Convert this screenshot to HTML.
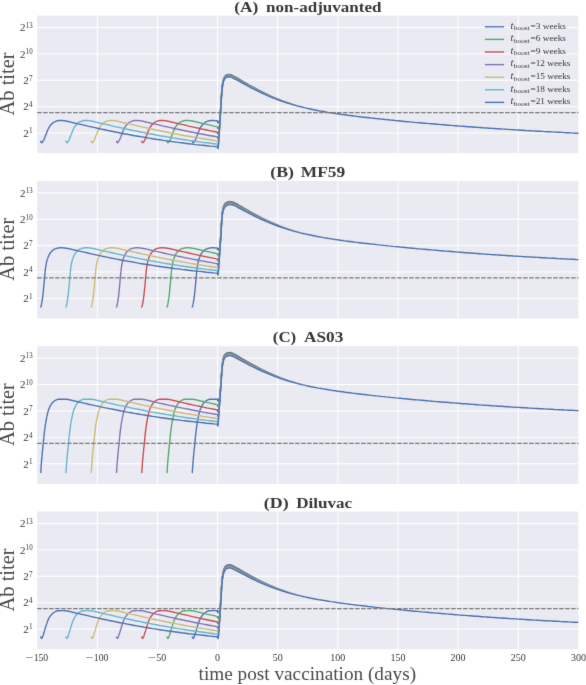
<!DOCTYPE html><html><head><meta charset="utf-8"><style>html,body{margin:0;padding:0;background:#fff;overflow:hidden}svg{display:block}text{font-family:"Liberation Serif",serif;fill:#383838}.lab{fill:#4a4a4a}</style></head><body>
<svg width="586" height="685" viewBox="0 0 586 685">
<defs><filter id="bl" filterUnits="userSpaceOnUse" x="0" y="0" width="586" height="685" color-interpolation-filters="sRGB"><feConvolveMatrix order="3" kernelMatrix="0.0064 0.0672 0.0064 0.0672 0.7056 0.0672 0.0064 0.0672 0.0064" divisor="1" edgeMode="duplicate"/></filter><linearGradient id="fg0" gradientUnits="userSpaceOnUse" x1="253.65" y1="0" x2="301.76" y2="0"><stop offset="0" stop-color="#4C72B0"/><stop offset="1" stop-color="#4C72B0" stop-opacity="0"/></linearGradient><linearGradient id="fg1" gradientUnits="userSpaceOnUse" x1="253.65" y1="0" x2="301.76" y2="0"><stop offset="0" stop-color="#55A868"/><stop offset="1" stop-color="#55A868" stop-opacity="0"/></linearGradient><linearGradient id="fg2" gradientUnits="userSpaceOnUse" x1="253.65" y1="0" x2="301.76" y2="0"><stop offset="0" stop-color="#C44E52"/><stop offset="1" stop-color="#C44E52" stop-opacity="0"/></linearGradient><linearGradient id="fg3" gradientUnits="userSpaceOnUse" x1="253.65" y1="0" x2="301.76" y2="0"><stop offset="0" stop-color="#8172B2"/><stop offset="1" stop-color="#8172B2" stop-opacity="0"/></linearGradient><linearGradient id="fg4" gradientUnits="userSpaceOnUse" x1="253.65" y1="0" x2="301.76" y2="0"><stop offset="0" stop-color="#CCB974"/><stop offset="1" stop-color="#CCB974" stop-opacity="0"/></linearGradient><linearGradient id="fg5" gradientUnits="userSpaceOnUse" x1="253.65" y1="0" x2="301.76" y2="0"><stop offset="0" stop-color="#64B5CD"/><stop offset="1" stop-color="#64B5CD" stop-opacity="0"/></linearGradient></defs><g filter="url(#bl)">
<rect width="586" height="685" fill="#fff"/>
<rect x="37.15" y="15.60" width="541.25" height="137.60" fill="#EAEAF2"/>
<path d="M97.29 15.60V153.20M157.43 15.60V153.20M217.57 15.60V153.20M277.71 15.60V153.20M337.84 15.60V153.20M397.98 15.60V153.20M458.12 15.60V153.20M518.26 15.60V153.20M37.15 133.08H578.40M37.15 106.68H578.40M37.15 80.28H578.40M37.15 53.88H578.40M37.15 27.48H578.40" stroke="#fff" stroke-width="1.0" fill="none"/>
<clipPath id="c0"><rect x="37.15" y="15.60" width="541.25" height="137.60"/></clipPath>
<g clip-path="url(#c0)"><path d="M192.3 141.2 192.4 141.5 192.5 141.8 192.7 142.1 192.8 142.4 192.9 142.6 193.0 142.7 193.2 142.7 193.3 142.6 193.4 142.6 193.5 142.5 193.6 142.4 193.8 142.3 193.9 142.2 194.0 142.0 194.1 141.9 194.2 141.7 194.4 141.5 194.5 141.4 194.6 141.2 194.7 141.0 194.8 140.8 195.0 140.6 195.1 140.4 195.2 140.2 195.3 140.0 195.4 139.7 195.6 139.5 195.7 139.2 195.8 138.9 195.9 138.6 196.0 138.3 196.2 138.0 196.3 137.7 196.4 137.4 196.5 137.1 196.6 136.7 196.8 136.4 196.9 136.1 197.0 135.8 197.1 135.5 197.2 135.1 197.4 134.8 197.5 134.5 197.6 134.3 197.7 134.0 197.8 133.7 198.0 133.4 198.1 133.1 198.2 132.8 198.3 132.4 198.4 132.1 198.6 131.8 198.7 131.5 198.8 131.2 198.9 130.9 199.0 130.6 199.2 130.3 199.3 130.0 199.4 129.7 199.5 129.5 199.6 129.2 199.8 128.9 199.9 128.7 200.0 128.5 200.1 128.2 200.2 128.0 200.4 127.8 200.5 127.6 200.6 127.4 200.7 127.2 200.8 127.0 201.0 126.8 201.1 126.6 201.2 126.5 201.3 126.3 201.4 126.1 201.6 125.9 201.7 125.8 201.8 125.6 201.9 125.4 202.1 125.3 202.2 125.1 202.3 125.0 202.4 124.8 202.5 124.7 202.7 124.6 202.8 124.5 202.9 124.3 203.0 124.2 203.1 124.1 203.3 124.0 203.4 123.9 203.5 123.7 203.6 123.6 203.7 123.5 203.9 123.4 204.0 123.3 204.1 123.2 204.2 123.1 204.3 123.0 204.9 122.5 205.5 122.1 206.1 121.8 206.7 121.6 207.3 121.3 207.9 121.1 208.5 120.9 209.1 120.7 209.7 120.6 210.4 120.5 211.0 120.5 211.6 120.5 212.2 120.4 212.8 120.5 213.4 120.5 214.0 120.5 214.6 120.6 215.2 120.6 215.8 120.7 216.4 120.8 217.0 120.9 217.6 121.0 217.6 121.7 217.7 122.2 217.7 122.5 217.8 122.7 217.9 122.8 217.9 122.9 218.0 122.9 218.0 122.8 218.1 122.8 218.2 122.7 218.2 122.6 218.3 122.5 218.3 122.4 218.4 122.3 218.5 122.2 218.5 122.1 218.6 122.0 218.6 121.9 218.7 121.9 218.8 121.8 218.8 121.7 218.9 121.7 218.9 121.6 219.0 121.5 219.1 121.5 219.1 121.4 219.2 121.3 219.3 121.2 219.3 121.1 219.4 121.0 219.4 120.8 219.5 120.6 219.6 120.4 219.6 120.1 219.7 119.8 219.7 119.4 219.8 119.0 219.9 118.5 219.9 118.0 220.0 117.4 220.0 116.7 220.1 116.0 220.2 115.3 220.2 114.5 220.3 113.6 220.3 112.8 220.4 111.9 220.5 111.0 220.5 110.1 220.6 109.1 220.6 108.2 220.7 107.2 220.8 106.3 220.8 105.3 220.9 104.3 220.9 103.4 221.0 102.4 221.1 101.4 221.1 100.4 221.2 99.3 221.2 98.3 221.3 97.3 221.4 96.3 221.4 95.4 221.5 94.4 221.5 93.6 221.6 92.8 221.7 92.0 221.7 91.3 221.8 90.6 221.8 90.0 221.9 89.3 222.0 88.7 222.0 88.1 222.1 87.5 222.1 86.9 222.2 86.4 222.3 85.9 222.3 85.4 222.4 84.9 222.4 84.5 222.5 84.1 222.6 83.7 222.6 83.3 222.7 83.0 222.7 82.6 222.8 82.3 222.9 82.0 222.9 81.7 223.0 81.4 223.0 81.1 223.1 80.8 223.2 80.6 223.2 80.3 223.3 80.0 223.3 79.8 223.4 79.6 223.5 79.3 223.5 79.1 223.6 78.9 223.6 78.7 223.7 78.5 223.8 78.4 223.8 78.2 223.9 78.0 223.9 77.9 224.0 77.8 224.1 77.7 224.1 77.5 224.2 77.4 224.2 77.3 224.3 77.2 224.4 77.1 224.4 77.0 224.5 76.9 224.5 76.8 224.6 76.7 224.7 76.6 224.7 76.5 224.8 76.4 225.1 76.0 225.4 75.6 225.7 75.4 226.0 75.2 226.3 75.1 226.6 74.9 226.9 74.8 227.2 74.7 227.5 74.6 227.8 74.5 228.1 74.5 228.4 74.4 228.7 74.4 229.0 74.4 229.3 74.4 229.6 74.4 229.9 74.5 230.2 74.5 230.5 74.6 230.8 74.7 231.1 74.8 231.4 74.9 231.7 75.0 232.0 75.2 232.3 75.3 232.6 75.5 232.9 75.7 233.2 75.9 233.5 76.1 233.8 76.3 234.1 76.4 234.4 76.5 236.8 77.7 239.2 79.2 241.6 80.6 244.0 82.0 246.4 83.4 248.8 84.8 251.2 86.1 253.7 87.4 256.1 88.7 258.5 90.0 260.9 91.2 263.3 92.4 265.7 93.6 268.1 94.7 270.5 95.8 272.9 96.9 275.3 97.9 277.7 98.9 280.1 99.9 282.5 100.8 284.9 101.7 287.3 102.5 289.7 103.3 292.1 104.1 294.5 104.8 296.9 105.5 299.4 106.2 301.8 106.8 304.2 107.4" stroke="url(#fg0)" stroke-width="1.38" fill="none" stroke-linejoin="round" stroke-linecap="round"/><path d="M167.1 141.2 167.2 141.5 167.3 141.8 167.4 142.1 167.5 142.4 167.7 142.6 167.8 142.7 167.9 142.7 168.0 142.6 168.1 142.6 168.3 142.5 168.4 142.4 168.5 142.3 168.6 142.2 168.7 142.0 168.9 141.9 169.0 141.7 169.1 141.5 169.2 141.4 169.3 141.2 169.5 141.0 169.6 140.8 169.7 140.6 169.8 140.4 169.9 140.2 170.1 140.0 170.2 139.7 170.3 139.5 170.4 139.2 170.5 138.9 170.7 138.6 170.8 138.3 170.9 138.0 171.0 137.7 171.1 137.4 171.3 137.1 171.4 136.7 171.5 136.4 171.6 136.1 171.7 135.8 171.9 135.5 172.0 135.1 172.1 134.8 172.2 134.5 172.3 134.3 172.5 134.0 172.6 133.7 172.7 133.4 172.8 133.1 172.9 132.8 173.1 132.4 173.2 132.1 173.3 131.8 173.4 131.5 173.5 131.2 173.7 130.9 173.8 130.6 173.9 130.3 174.0 130.0 174.1 129.7 174.3 129.5 174.4 129.2 174.5 128.9 174.6 128.7 174.7 128.5 174.9 128.2 175.0 128.0 175.1 127.8 175.2 127.6 175.3 127.4 175.5 127.2 175.6 127.0 175.7 126.8 175.8 126.6 176.0 126.5 176.1 126.3 176.2 126.1 176.3 125.9 176.4 125.8 176.6 125.6 176.7 125.4 176.8 125.3 176.9 125.1 177.0 125.0 177.2 124.8 177.3 124.7 177.4 124.6 177.5 124.5 177.6 124.3 177.8 124.2 177.9 124.1 178.0 124.0 178.1 123.9 178.2 123.7 178.4 123.6 178.5 123.5 178.6 123.4 178.7 123.3 178.8 123.2 179.0 123.1 179.1 123.0 179.7 122.5 180.3 122.1 180.9 121.8 181.5 121.6 182.1 121.3 182.7 121.1 183.3 120.9 183.9 120.7 184.5 120.6 185.1 120.5 185.7 120.5 186.3 120.5 186.9 120.4 187.5 120.5 188.1 120.5 188.7 120.5 189.3 120.6 189.9 120.6 190.5 120.7 191.1 120.8 191.7 120.9 192.3 121.0 192.9 121.2 193.5 121.3 194.1 121.4 194.7 121.6 195.3 121.7 195.9 121.8 196.5 122.0 197.1 122.1 197.7 122.3 198.3 122.4 198.9 122.6 199.5 122.7 200.1 122.9 200.7 123.0 201.3 123.1 201.9 123.3 202.5 123.4 203.1 123.6 206.7 124.4 210.4 125.2 214.0 126.1 217.6 126.9 217.6 127.5 217.7 128.0 217.7 128.4 217.8 128.6 217.9 128.7 217.9 128.7 218.0 128.7 218.0 128.7 218.1 128.6 218.2 128.5 218.2 128.4 218.3 128.3 218.3 128.2 218.4 128.1 218.5 128.0 218.5 127.9 218.6 127.8 218.6 127.7 218.7 127.6 218.8 127.5 218.8 127.4 218.9 127.3 218.9 127.2 219.0 127.0 219.1 126.9 219.1 126.7 219.2 126.5 219.3 126.3 219.3 126.0 219.4 125.6 219.4 125.2 219.5 124.8 219.6 124.3 219.6 123.7 219.7 123.1 219.7 122.4 219.8 121.6 219.9 120.9 219.9 120.1 220.0 119.2 220.0 118.4 220.1 117.5 220.2 116.6 220.2 115.6 220.3 114.7 220.3 113.7 220.4 112.8 220.5 111.8 220.5 110.8 220.6 109.8 220.6 108.9 220.7 107.9 220.8 106.9 220.8 105.9 220.9 104.9 220.9 104.0 221.0 103.0 221.1 102.0 221.1 100.9 221.2 99.9 221.2 98.9 221.3 97.9 221.4 96.9 221.4 95.9 221.5 95.0 221.5 94.1 221.6 93.3 221.7 92.6 221.7 91.9 221.8 91.2 221.8 90.5 221.9 89.9 222.0 89.3 222.0 88.7 222.1 88.1 222.1 87.5 222.2 87.0 222.3 86.4 222.3 85.9 222.4 85.5 222.4 85.0 222.5 84.6 222.6 84.2 222.6 83.9 222.7 83.5 222.7 83.2 222.8 82.9 222.9 82.6 222.9 82.2 223.0 82.0 223.0 81.7 223.1 81.4 223.2 81.1 223.2 80.8 223.3 80.6 223.3 80.3 223.4 80.1 223.5 79.9 223.5 79.7 223.6 79.5 223.6 79.3 223.7 79.1 223.8 78.9 223.8 78.7 223.9 78.6 223.9 78.5 224.0 78.3 224.1 78.2 224.1 78.1 224.2 78.0 224.2 77.9 224.3 77.7 224.4 77.6 224.4 77.5 224.5 77.4 224.5 77.3 224.6 77.2 224.7 77.1 224.7 77.0 224.8 76.9 225.1 76.5 225.4 76.2 225.7 75.9 226.0 75.8 226.3 75.6 226.6 75.5 226.9 75.4 227.2 75.3 227.5 75.2 227.8 75.1 228.1 75.0 228.4 75.0 228.7 74.9 229.0 74.9 229.3 74.9 229.6 74.9 229.9 75.0 230.2 75.0 230.5 75.1 230.8 75.2 231.1 75.3 231.4 75.4 231.7 75.5 232.0 75.7 232.3 75.8 232.6 76.0 232.9 76.2 233.2 76.4 233.5 76.6 233.8 76.8 234.1 76.9 234.4 77.1 236.8 78.2 239.2 79.6 241.6 81.0 244.0 82.4 246.4 83.8 248.8 85.2 251.2 86.5 253.7 87.8 256.1 89.1 258.5 90.3 260.9 91.5 263.3 92.7 265.7 93.9 268.1 95.0 270.5 96.1 272.9 97.1 275.3 98.1 277.7 99.1 280.1 100.0 282.5 100.9 284.9 101.8 287.3 102.6 289.7 103.4 292.1 104.1 294.5 104.9 296.9 105.6 299.4 106.2 301.8 106.9 304.2 107.5" stroke="url(#fg1)" stroke-width="1.38" fill="none" stroke-linejoin="round" stroke-linecap="round"/><path d="M141.8 141.2 141.9 141.5 142.0 141.8 142.2 142.1 142.3 142.4 142.4 142.6 142.5 142.7 142.6 142.7 142.8 142.6 142.9 142.6 143.0 142.5 143.1 142.4 143.2 142.3 143.4 142.2 143.5 142.0 143.6 141.9 143.7 141.7 143.8 141.5 144.0 141.4 144.1 141.2 144.2 141.0 144.3 140.8 144.4 140.6 144.6 140.4 144.7 140.2 144.8 140.0 144.9 139.7 145.0 139.5 145.2 139.2 145.3 138.9 145.4 138.6 145.5 138.3 145.6 138.0 145.8 137.7 145.9 137.4 146.0 137.1 146.1 136.7 146.2 136.4 146.4 136.1 146.5 135.8 146.6 135.5 146.7 135.1 146.8 134.8 147.0 134.5 147.1 134.3 147.2 134.0 147.3 133.7 147.4 133.4 147.6 133.1 147.7 132.8 147.8 132.4 147.9 132.1 148.0 131.8 148.2 131.5 148.3 131.2 148.4 130.9 148.5 130.6 148.6 130.3 148.8 130.0 148.9 129.7 149.0 129.5 149.1 129.2 149.2 128.9 149.4 128.7 149.5 128.5 149.6 128.2 149.7 128.0 149.9 127.8 150.0 127.6 150.1 127.4 150.2 127.2 150.3 127.0 150.5 126.8 150.6 126.6 150.7 126.5 150.8 126.3 150.9 126.1 151.1 125.9 151.2 125.8 151.3 125.6 151.4 125.4 151.5 125.3 151.7 125.1 151.8 125.0 151.9 124.8 152.0 124.7 152.1 124.6 152.3 124.5 152.4 124.3 152.5 124.2 152.6 124.1 152.7 124.0 152.9 123.9 153.0 123.7 153.1 123.6 153.2 123.5 153.3 123.4 153.5 123.3 153.6 123.2 153.7 123.1 153.8 123.0 154.4 122.5 155.0 122.1 155.6 121.8 156.2 121.6 156.8 121.3 157.4 121.1 158.0 120.9 158.6 120.7 159.2 120.6 159.8 120.5 160.4 120.5 161.0 120.5 161.6 120.4 162.2 120.5 162.8 120.5 163.4 120.5 164.0 120.6 164.6 120.6 165.2 120.7 165.8 120.8 166.4 120.9 167.1 121.0 167.7 121.2 168.3 121.3 168.9 121.4 169.5 121.6 170.1 121.7 170.7 121.8 171.3 122.0 171.9 122.1 172.5 122.3 173.1 122.4 173.7 122.6 174.3 122.7 174.9 122.9 175.5 123.0 176.1 123.1 176.7 123.3 177.3 123.4 177.9 123.6 181.5 124.4 185.1 125.2 188.7 126.1 192.3 126.9 195.9 127.7 199.5 128.5 203.1 129.3 206.7 130.0 210.4 130.8 214.0 131.5 217.6 132.2 217.6 132.9 217.7 133.4 217.7 133.7 217.8 133.9 217.9 134.0 217.9 134.1 218.0 134.1 218.0 134.0 218.1 133.9 218.2 133.8 218.2 133.7 218.3 133.6 218.3 133.5 218.4 133.4 218.5 133.2 218.5 133.1 218.6 133.0 218.6 132.8 218.7 132.7 218.8 132.5 218.8 132.3 218.9 132.1 218.9 131.8 219.0 131.5 219.1 131.2 219.1 130.8 219.2 130.3 219.3 129.8 219.3 129.3 219.4 128.6 219.4 127.9 219.5 127.2 219.6 126.4 219.6 125.6 219.7 124.7 219.7 123.9 219.8 123.0 219.9 122.1 219.9 121.1 220.0 120.2 220.0 119.2 220.1 118.3 220.2 117.3 220.2 116.3 220.3 115.3 220.3 114.3 220.4 113.4 220.5 112.4 220.5 111.4 220.6 110.4 220.6 109.4 220.7 108.4 220.8 107.4 220.8 106.4 220.9 105.5 220.9 104.5 221.0 103.5 221.1 102.5 221.1 101.5 221.2 100.4 221.2 99.4 221.3 98.4 221.4 97.4 221.4 96.4 221.5 95.5 221.5 94.6 221.6 93.8 221.7 93.1 221.7 92.4 221.8 91.7 221.8 91.0 221.9 90.4 222.0 89.8 222.0 89.2 222.1 88.6 222.1 88.0 222.2 87.5 222.3 86.9 222.3 86.4 222.4 86.0 222.4 85.5 222.5 85.1 222.6 84.7 222.6 84.4 222.7 84.0 222.7 83.7 222.8 83.4 222.9 83.1 222.9 82.8 223.0 82.5 223.0 82.2 223.1 81.9 223.2 81.6 223.2 81.3 223.3 81.1 223.3 80.8 223.4 80.6 223.5 80.4 223.5 80.2 223.6 80.0 223.6 79.8 223.7 79.6 223.8 79.4 223.8 79.2 223.9 79.1 223.9 79.0 224.0 78.8 224.1 78.7 224.1 78.6 224.2 78.5 224.2 78.4 224.3 78.2 224.4 78.1 224.4 78.0 224.5 77.9 224.5 77.8 224.6 77.7 224.7 77.6 224.7 77.5 224.8 77.4 225.1 77.0 225.4 76.7 225.7 76.4 226.0 76.2 226.3 76.1 226.6 76.0 226.9 75.9 227.2 75.7 227.5 75.6 227.8 75.6 228.1 75.5 228.4 75.4 228.7 75.4 229.0 75.4 229.3 75.4 229.6 75.4 229.9 75.5 230.2 75.5 230.5 75.6 230.8 75.7 231.1 75.8 231.4 75.9 231.7 76.0 232.0 76.2 232.3 76.3 232.6 76.5 232.9 76.7 233.2 76.9 233.5 77.1 233.8 77.2 234.1 77.4 234.4 77.5 236.8 78.6 239.2 80.1 241.6 81.5 244.0 82.8 246.4 84.2 248.8 85.5 251.2 86.8 253.7 88.1 256.1 89.4 258.5 90.6 260.9 91.8 263.3 93.0 265.7 94.1 268.1 95.2 270.5 96.3 272.9 97.3 275.3 98.3 277.7 99.2 280.1 100.1 282.5 101.0 284.9 101.9 287.3 102.7 289.7 103.5 292.1 104.2 294.5 104.9 296.9 105.6 299.4 106.3 301.8 106.9 304.2 107.5" stroke="url(#fg2)" stroke-width="1.38" fill="none" stroke-linejoin="round" stroke-linecap="round"/><path d="M116.5 141.2 116.7 141.5 116.8 141.8 116.9 142.1 117.0 142.4 117.1 142.6 117.3 142.7 117.4 142.7 117.5 142.6 117.6 142.6 117.7 142.5 117.9 142.4 118.0 142.3 118.1 142.2 118.2 142.0 118.3 141.9 118.5 141.7 118.6 141.5 118.7 141.4 118.8 141.2 118.9 141.0 119.1 140.8 119.2 140.6 119.3 140.4 119.4 140.2 119.5 140.0 119.7 139.7 119.8 139.5 119.9 139.2 120.0 138.9 120.1 138.6 120.3 138.3 120.4 138.0 120.5 137.7 120.6 137.4 120.7 137.1 120.9 136.7 121.0 136.4 121.1 136.1 121.2 135.8 121.3 135.5 121.5 135.1 121.6 134.8 121.7 134.5 121.8 134.3 121.9 134.0 122.1 133.7 122.2 133.4 122.3 133.1 122.4 132.8 122.5 132.4 122.7 132.1 122.8 131.8 122.9 131.5 123.0 131.2 123.1 130.9 123.3 130.6 123.4 130.3 123.5 130.0 123.6 129.7 123.8 129.5 123.9 129.2 124.0 128.9 124.1 128.7 124.2 128.5 124.4 128.2 124.5 128.0 124.6 127.8 124.7 127.6 124.8 127.4 125.0 127.2 125.1 127.0 125.2 126.8 125.3 126.6 125.4 126.5 125.6 126.3 125.7 126.1 125.8 125.9 125.9 125.8 126.0 125.6 126.2 125.4 126.3 125.3 126.4 125.1 126.5 125.0 126.6 124.8 126.8 124.7 126.9 124.6 127.0 124.5 127.1 124.3 127.2 124.2 127.4 124.1 127.5 124.0 127.6 123.9 127.7 123.7 127.8 123.6 128.0 123.5 128.1 123.4 128.2 123.3 128.3 123.2 128.4 123.1 128.6 123.0 129.2 122.5 129.8 122.1 130.4 121.8 131.0 121.6 131.6 121.3 132.2 121.1 132.8 120.9 133.4 120.7 134.0 120.6 134.6 120.5 135.2 120.5 135.8 120.5 136.4 120.4 137.0 120.5 137.6 120.5 138.2 120.5 138.8 120.6 139.4 120.6 140.0 120.7 140.6 120.8 141.2 120.9 141.8 121.0 142.4 121.2 143.0 121.3 143.6 121.4 144.2 121.6 144.8 121.7 145.4 121.8 146.0 122.0 146.6 122.1 147.2 122.3 147.8 122.4 148.4 122.6 149.0 122.7 149.6 122.9 150.2 123.0 150.8 123.1 151.4 123.3 152.0 123.4 152.6 123.6 156.2 124.4 159.8 125.2 163.4 126.1 167.1 126.9 170.7 127.7 174.3 128.5 177.9 129.3 181.5 130.0 185.1 130.8 188.7 131.5 192.3 132.2 195.9 133.0 199.5 133.7 203.1 134.3 206.7 135.0 210.4 135.7 214.0 136.3 217.6 136.9 217.6 137.6 217.7 138.1 217.7 138.4 217.8 138.6 217.9 138.7 217.9 138.8 218.0 138.7 218.0 138.7 218.1 138.6 218.2 138.5 218.2 138.3 218.3 138.2 218.3 138.0 218.4 137.9 218.5 137.7 218.5 137.5 218.6 137.3 218.6 137.0 218.7 136.7 218.8 136.4 218.8 136.0 218.9 135.6 218.9 135.1 219.0 134.6 219.1 134.0 219.1 133.3 219.2 132.6 219.3 131.9 219.3 131.1 219.4 130.2 219.4 129.3 219.5 128.4 219.6 127.5 219.6 126.6 219.7 125.6 219.7 124.7 219.8 123.7 219.9 122.7 219.9 121.7 220.0 120.8 220.0 119.8 220.1 118.8 220.2 117.8 220.2 116.8 220.3 115.8 220.3 114.8 220.4 113.8 220.5 112.8 220.5 111.8 220.6 110.8 220.6 109.8 220.7 108.9 220.8 107.9 220.8 106.9 220.9 105.9 220.9 104.9 221.0 103.9 221.1 102.9 221.1 101.9 221.2 100.9 221.2 99.8 221.3 98.8 221.4 97.8 221.4 96.9 221.5 95.9 221.5 95.1 221.6 94.3 221.7 93.5 221.7 92.8 221.8 92.1 221.8 91.5 221.9 90.8 222.0 90.2 222.0 89.6 222.1 89.0 222.1 88.4 222.2 87.9 222.3 87.4 222.3 86.9 222.4 86.4 222.4 86.0 222.5 85.6 222.6 85.2 222.6 84.8 222.7 84.5 222.7 84.1 222.8 83.8 222.9 83.5 222.9 83.2 223.0 82.9 223.0 82.6 223.1 82.3 223.2 82.0 223.2 81.8 223.3 81.5 223.3 81.3 223.4 81.1 223.5 80.8 223.5 80.6 223.6 80.4 223.6 80.2 223.7 80.0 223.8 79.8 223.8 79.7 223.9 79.5 223.9 79.4 224.0 79.3 224.1 79.1 224.1 79.0 224.2 78.9 224.2 78.8 224.3 78.7 224.4 78.6 224.4 78.5 224.5 78.4 224.5 78.3 224.6 78.2 224.7 78.1 224.7 78.0 224.8 77.9 225.1 77.5 225.4 77.1 225.7 76.9 226.0 76.7 226.3 76.5 226.6 76.4 226.9 76.3 227.2 76.2 227.5 76.1 227.8 76.0 228.1 75.9 228.4 75.9 228.7 75.8 229.0 75.8 229.3 75.8 229.6 75.9 229.9 75.9 230.2 75.9 230.5 76.0 230.8 76.1 231.1 76.2 231.4 76.3 231.7 76.4 232.0 76.6 232.3 76.7 232.6 76.9 232.9 77.1 233.2 77.3 233.5 77.5 233.8 77.6 234.1 77.8 234.4 77.9 236.8 79.0 239.2 80.4 241.6 81.8 244.0 83.2 246.4 84.5 248.8 85.9 251.2 87.1 253.7 88.4 256.1 89.6 258.5 90.9 260.9 92.0 263.3 93.2 265.7 94.3 268.1 95.4 270.5 96.4 272.9 97.4 275.3 98.4 277.7 99.4 280.1 100.3 282.5 101.1 284.9 102.0 287.3 102.8 289.7 103.6 292.1 104.3 294.5 105.0 296.9 105.7 299.4 106.3 301.8 107.0 304.2 107.5" stroke="url(#fg3)" stroke-width="1.38" fill="none" stroke-linejoin="round" stroke-linecap="round"/><path d="M91.3 141.2 91.4 141.5 91.5 141.8 91.6 142.1 91.8 142.4 91.9 142.6 92.0 142.7 92.1 142.7 92.2 142.6 92.4 142.6 92.5 142.5 92.6 142.4 92.7 142.3 92.8 142.2 93.0 142.0 93.1 141.9 93.2 141.7 93.3 141.5 93.4 141.4 93.6 141.2 93.7 141.0 93.8 140.8 93.9 140.6 94.0 140.4 94.2 140.2 94.3 140.0 94.4 139.7 94.5 139.5 94.6 139.2 94.8 138.9 94.9 138.6 95.0 138.3 95.1 138.0 95.2 137.7 95.4 137.4 95.5 137.1 95.6 136.7 95.7 136.4 95.8 136.1 96.0 135.8 96.1 135.5 96.2 135.1 96.3 134.8 96.4 134.5 96.6 134.3 96.7 134.0 96.8 133.7 96.9 133.4 97.0 133.1 97.2 132.8 97.3 132.4 97.4 132.1 97.5 131.8 97.6 131.5 97.8 131.2 97.9 130.9 98.0 130.6 98.1 130.3 98.3 130.0 98.4 129.7 98.5 129.5 98.6 129.2 98.7 128.9 98.9 128.7 99.0 128.5 99.1 128.2 99.2 128.0 99.3 127.8 99.5 127.6 99.6 127.4 99.7 127.2 99.8 127.0 99.9 126.8 100.1 126.6 100.2 126.5 100.3 126.3 100.4 126.1 100.5 125.9 100.7 125.8 100.8 125.6 100.9 125.4 101.0 125.3 101.1 125.1 101.3 125.0 101.4 124.8 101.5 124.7 101.6 124.6 101.7 124.5 101.9 124.3 102.0 124.2 102.1 124.1 102.2 124.0 102.3 123.9 102.5 123.7 102.6 123.6 102.7 123.5 102.8 123.4 102.9 123.3 103.1 123.2 103.2 123.1 103.3 123.0 103.9 122.5 104.5 122.1 105.1 121.8 105.7 121.6 106.3 121.3 106.9 121.1 107.5 120.9 108.1 120.7 108.7 120.6 109.3 120.5 109.9 120.5 110.5 120.5 111.1 120.4 111.7 120.5 112.3 120.5 112.9 120.5 113.5 120.6 114.1 120.6 114.7 120.7 115.3 120.8 115.9 120.9 116.5 121.0 117.1 121.2 117.7 121.3 118.3 121.4 118.9 121.6 119.5 121.7 120.1 121.8 120.7 122.0 121.3 122.1 121.9 122.3 122.5 122.4 123.1 122.6 123.8 122.7 124.4 122.9 125.0 123.0 125.6 123.1 126.2 123.3 126.8 123.4 127.4 123.6 131.0 124.4 134.6 125.2 138.2 126.1 141.8 126.9 145.4 127.7 149.0 128.5 152.6 129.3 156.2 130.0 159.8 130.8 163.4 131.5 167.1 132.2 170.7 133.0 174.3 133.7 177.9 134.3 181.5 135.0 185.1 135.7 188.7 136.3 192.3 136.9 195.9 137.5 199.5 138.1 203.1 138.7 206.7 139.3 210.4 139.8 214.0 140.4 217.6 140.9 217.6 141.5 217.7 142.0 217.7 142.4 217.8 142.6 217.9 142.7 217.9 142.7 218.0 142.7 218.0 142.6 218.1 142.5 218.2 142.3 218.2 142.1 218.3 141.9 218.3 141.7 218.4 141.5 218.5 141.2 218.5 140.8 218.6 140.5 218.6 140.1 218.7 139.6 218.8 139.1 218.8 138.5 218.9 137.8 218.9 137.1 219.0 136.4 219.1 135.6 219.1 134.7 219.2 133.9 219.3 132.9 219.3 132.0 219.4 131.1 219.4 130.1 219.5 129.1 219.6 128.1 219.6 127.1 219.7 126.1 219.7 125.1 219.8 124.2 219.9 123.2 219.9 122.2 220.0 121.2 220.0 120.2 220.1 119.2 220.2 118.2 220.2 117.2 220.3 116.2 220.3 115.2 220.4 114.2 220.5 113.2 220.5 112.2 220.6 111.2 220.6 110.2 220.7 109.2 220.8 108.3 220.8 107.3 220.9 106.3 220.9 105.3 221.0 104.3 221.1 103.3 221.1 102.3 221.2 101.2 221.2 100.2 221.3 99.2 221.4 98.2 221.4 97.2 221.5 96.3 221.5 95.4 221.6 94.6 221.7 93.9 221.7 93.2 221.8 92.5 221.8 91.9 221.9 91.2 222.0 90.6 222.0 90.0 222.1 89.4 222.1 88.8 222.2 88.3 222.3 87.8 222.3 87.3 222.4 86.8 222.4 86.3 222.5 85.9 222.6 85.5 222.6 85.2 222.7 84.8 222.7 84.5 222.8 84.2 222.9 83.9 222.9 83.6 223.0 83.3 223.0 83.0 223.1 82.7 223.2 82.4 223.2 82.2 223.3 81.9 223.3 81.7 223.4 81.4 223.5 81.2 223.5 81.0 223.6 80.8 223.6 80.6 223.7 80.4 223.8 80.2 223.8 80.1 223.9 79.9 223.9 79.8 224.0 79.6 224.1 79.5 224.1 79.4 224.2 79.3 224.2 79.2 224.3 79.0 224.4 78.9 224.4 78.8 224.5 78.7 224.5 78.6 224.6 78.5 224.7 78.4 224.7 78.3 224.8 78.2 225.1 77.8 225.4 77.5 225.7 77.2 226.0 77.0 226.3 76.9 226.6 76.8 226.9 76.6 227.2 76.5 227.5 76.4 227.8 76.4 228.1 76.3 228.4 76.2 228.7 76.2 229.0 76.2 229.3 76.2 229.6 76.2 229.9 76.2 230.2 76.3 230.5 76.4 230.8 76.4 231.1 76.5 231.4 76.7 231.7 76.8 232.0 76.9 232.3 77.1 232.6 77.3 232.9 77.5 233.2 77.6 233.5 77.8 233.8 78.0 234.1 78.1 234.4 78.3 236.8 79.4 239.2 80.8 241.6 82.1 244.0 83.5 246.4 84.8 248.8 86.1 251.2 87.4 253.7 88.7 256.1 89.9 258.5 91.1 260.9 92.2 263.3 93.4 265.7 94.5 268.1 95.5 270.5 96.6 272.9 97.6 275.3 98.5 277.7 99.5 280.1 100.4 282.5 101.2 284.9 102.1 287.3 102.9 289.7 103.6 292.1 104.3 294.5 105.1 296.9 105.7 299.4 106.4 301.8 107.0 304.2 107.6" stroke="url(#fg4)" stroke-width="1.38" fill="none" stroke-linejoin="round" stroke-linecap="round"/><path d="M66.0 141.2 66.1 141.5 66.3 141.8 66.4 142.1 66.5 142.4 66.6 142.6 66.7 142.7 66.9 142.7 67.0 142.6 67.1 142.6 67.2 142.5 67.3 142.4 67.5 142.3 67.6 142.2 67.7 142.0 67.8 141.9 67.9 141.7 68.1 141.5 68.2 141.4 68.3 141.2 68.4 141.0 68.5 140.8 68.7 140.6 68.8 140.4 68.9 140.2 69.0 140.0 69.1 139.7 69.3 139.5 69.4 139.2 69.5 138.9 69.6 138.6 69.7 138.3 69.9 138.0 70.0 137.7 70.1 137.4 70.2 137.1 70.3 136.7 70.5 136.4 70.6 136.1 70.7 135.8 70.8 135.5 70.9 135.1 71.1 134.8 71.2 134.5 71.3 134.3 71.4 134.0 71.5 133.7 71.7 133.4 71.8 133.1 71.9 132.8 72.0 132.4 72.2 132.1 72.3 131.8 72.4 131.5 72.5 131.2 72.6 130.9 72.8 130.6 72.9 130.3 73.0 130.0 73.1 129.7 73.2 129.5 73.4 129.2 73.5 128.9 73.6 128.7 73.7 128.5 73.8 128.2 74.0 128.0 74.1 127.8 74.2 127.6 74.3 127.4 74.4 127.2 74.6 127.0 74.7 126.8 74.8 126.6 74.9 126.5 75.0 126.3 75.2 126.1 75.3 125.9 75.4 125.8 75.5 125.6 75.6 125.4 75.8 125.3 75.9 125.1 76.0 125.0 76.1 124.8 76.2 124.7 76.4 124.6 76.5 124.5 76.6 124.3 76.7 124.2 76.8 124.1 77.0 124.0 77.1 123.9 77.2 123.7 77.3 123.6 77.4 123.5 77.6 123.4 77.7 123.3 77.8 123.2 77.9 123.1 78.0 123.0 78.6 122.5 79.2 122.1 79.8 121.8 80.5 121.6 81.1 121.3 81.7 121.1 82.3 120.9 82.9 120.7 83.5 120.6 84.1 120.5 84.7 120.5 85.3 120.5 85.9 120.4 86.5 120.5 87.1 120.5 87.7 120.5 88.3 120.6 88.9 120.6 89.5 120.7 90.1 120.8 90.7 120.9 91.3 121.0 91.9 121.2 92.5 121.3 93.1 121.4 93.7 121.6 94.3 121.7 94.9 121.8 95.5 122.0 96.1 122.1 96.7 122.3 97.3 122.4 97.9 122.6 98.5 122.7 99.1 122.9 99.7 123.0 100.3 123.1 100.9 123.3 101.5 123.4 102.1 123.6 105.7 124.4 109.3 125.2 112.9 126.1 116.5 126.9 120.1 127.7 123.8 128.5 127.4 129.3 131.0 130.0 134.6 130.8 138.2 131.5 141.8 132.2 145.4 133.0 149.0 133.7 152.6 134.3 156.2 135.0 159.8 135.7 163.4 136.3 167.1 136.9 170.7 137.5 174.3 138.1 177.9 138.7 181.5 139.3 185.1 139.8 188.7 140.4 192.3 140.9 195.9 141.4 199.5 141.9 203.1 142.4 206.7 142.8 210.4 143.3 214.0 143.7 217.6 144.1 217.6 144.8 217.7 145.3 217.7 145.6 217.8 145.8 217.9 145.9 217.9 145.9 218.0 145.9 218.0 145.8 218.1 145.6 218.2 145.4 218.2 145.1 218.3 144.8 218.3 144.5 218.4 144.1 218.5 143.7 218.5 143.2 218.6 142.7 218.6 142.1 218.7 141.4 218.8 140.7 218.8 139.9 218.9 139.1 218.9 138.3 219.0 137.4 219.1 136.4 219.1 135.5 219.2 134.5 219.3 133.5 219.3 132.6 219.4 131.6 219.4 130.5 219.5 129.5 219.6 128.5 219.6 127.5 219.7 126.5 219.7 125.5 219.8 124.5 219.9 123.5 219.9 122.5 220.0 121.5 220.0 120.5 220.1 119.5 220.2 118.5 220.2 117.5 220.3 116.5 220.3 115.5 220.4 114.5 220.5 113.5 220.5 112.5 220.6 111.5 220.6 110.5 220.7 109.5 220.8 108.6 220.8 107.6 220.9 106.6 220.9 105.6 221.0 104.6 221.1 103.6 221.1 102.6 221.2 101.5 221.2 100.5 221.3 99.5 221.4 98.5 221.4 97.5 221.5 96.6 221.5 95.8 221.6 94.9 221.7 94.2 221.7 93.5 221.8 92.8 221.8 92.2 221.9 91.5 222.0 90.9 222.0 90.3 222.1 89.7 222.1 89.1 222.2 88.6 222.3 88.1 222.3 87.6 222.4 87.1 222.4 86.6 222.5 86.2 222.6 85.8 222.6 85.5 222.7 85.1 222.7 84.8 222.8 84.5 222.9 84.2 222.9 83.9 223.0 83.6 223.0 83.3 223.1 83.0 223.2 82.7 223.2 82.5 223.3 82.2 223.3 82.0 223.4 81.7 223.5 81.5 223.5 81.3 223.6 81.1 223.6 80.9 223.7 80.7 223.8 80.5 223.8 80.4 223.9 80.2 223.9 80.1 224.0 79.9 224.1 79.8 224.1 79.7 224.2 79.6 224.2 79.5 224.3 79.4 224.4 79.2 224.4 79.1 224.5 79.0 224.5 78.9 224.6 78.8 224.7 78.7 224.7 78.6 224.8 78.5 225.1 78.1 225.4 77.8 225.7 77.5 226.0 77.4 226.3 77.2 226.6 77.1 226.9 76.9 227.2 76.8 227.5 76.7 227.8 76.7 228.1 76.6 228.4 76.5 228.7 76.5 229.0 76.5 229.3 76.5 229.6 76.5 229.9 76.5 230.2 76.6 230.5 76.7 230.8 76.7 231.1 76.8 231.4 76.9 231.7 77.1 232.0 77.2 232.3 77.4 232.6 77.5 232.9 77.7 233.2 77.9 233.5 78.1 233.8 78.3 234.1 78.4 234.4 78.5 236.8 79.6 239.2 81.0 241.6 82.4 244.0 83.7 246.4 85.1 248.8 86.3 251.2 87.6 253.7 88.9 256.1 90.1 258.5 91.2 260.9 92.4 263.3 93.5 265.7 94.6 268.1 95.7 270.5 96.7 272.9 97.7 275.3 98.6 277.7 99.6 280.1 100.4 282.5 101.3 284.9 102.1 287.3 102.9 289.7 103.7 292.1 104.4 294.5 105.1 296.9 105.8 299.4 106.4 301.8 107.0 304.2 107.6" stroke="url(#fg5)" stroke-width="1.38" fill="none" stroke-linejoin="round" stroke-linecap="round"/><path d="M40.8 141.2 40.9 141.5 41.0 141.8 41.1 142.1 41.2 142.4 41.4 142.6 41.5 142.7 41.6 142.7 41.7 142.6 41.8 142.6 42.0 142.5 42.1 142.4 42.2 142.3 42.3 142.2 42.4 142.0 42.6 141.9 42.7 141.7 42.8 141.5 42.9 141.4 43.0 141.2 43.2 141.0 43.3 140.8 43.4 140.6 43.5 140.4 43.6 140.2 43.8 140.0 43.9 139.7 44.0 139.5 44.1 139.2 44.2 138.9 44.4 138.6 44.5 138.3 44.6 138.0 44.7 137.7 44.8 137.4 45.0 137.1 45.1 136.7 45.2 136.4 45.3 136.1 45.4 135.8 45.6 135.5 45.7 135.1 45.8 134.8 45.9 134.5 46.1 134.3 46.2 134.0 46.3 133.7 46.4 133.4 46.5 133.1 46.7 132.8 46.8 132.4 46.9 132.1 47.0 131.8 47.1 131.5 47.3 131.2 47.4 130.9 47.5 130.6 47.6 130.3 47.7 130.0 47.9 129.7 48.0 129.5 48.1 129.2 48.2 128.9 48.3 128.7 48.5 128.5 48.6 128.2 48.7 128.0 48.8 127.8 48.9 127.6 49.1 127.4 49.2 127.2 49.3 127.0 49.4 126.8 49.5 126.6 49.7 126.5 49.8 126.3 49.9 126.1 50.0 125.9 50.1 125.8 50.3 125.6 50.4 125.4 50.5 125.3 50.6 125.1 50.7 125.0 50.9 124.8 51.0 124.7 51.1 124.6 51.2 124.5 51.3 124.3 51.5 124.2 51.6 124.1 51.7 124.0 51.8 123.9 51.9 123.7 52.1 123.6 52.2 123.5 52.3 123.4 52.4 123.3 52.5 123.2 52.7 123.1 52.8 123.0 53.4 122.5 54.0 122.1 54.6 121.8 55.2 121.6 55.8 121.3 56.4 121.1 57.0 120.9 57.6 120.7 58.2 120.6 58.8 120.5 59.4 120.5 60.0 120.5 60.6 120.4 61.2 120.5 61.8 120.5 62.4 120.5 63.0 120.6 63.6 120.6 64.2 120.7 64.8 120.8 65.4 120.9 66.0 121.0 66.6 121.2 67.2 121.3 67.8 121.4 68.4 121.6 69.0 121.7 69.6 121.8 70.2 122.0 70.8 122.1 71.4 122.3 72.0 122.4 72.6 122.6 73.2 122.7 73.8 122.9 74.4 123.0 75.0 123.1 75.6 123.3 76.2 123.4 76.8 123.6 80.5 124.4 84.1 125.2 87.7 126.1 91.3 126.9 94.9 127.7 98.5 128.5 102.1 129.3 105.7 130.0 109.3 130.8 112.9 131.5 116.5 132.2 120.1 133.0 123.8 133.7 127.4 134.3 131.0 135.0 134.6 135.7 138.2 136.3 141.8 136.9 145.4 137.5 149.0 138.1 152.6 138.7 156.2 139.3 159.8 139.8 163.4 140.4 167.1 140.9 170.7 141.4 174.3 141.9 177.9 142.4 181.5 142.8 185.1 143.3 188.7 143.7 192.3 144.1 195.9 144.6 199.5 145.0 203.1 145.3 206.7 145.7 210.4 146.1 214.0 146.4 217.6 146.8 217.6 147.4 217.7 147.9 217.7 148.3 217.8 148.5 217.9 148.6 217.9 148.6 218.0 148.5 218.0 148.3 218.1 148.1 218.2 147.8 218.2 147.4 218.3 147.0 218.3 146.5 218.4 146.0 218.5 145.4 218.5 144.8 218.6 144.1 218.6 143.4 218.7 142.5 218.8 141.7 218.8 140.8 218.9 139.9 218.9 138.9 219.0 138.0 219.1 137.0 219.1 136.0 219.2 135.0 219.3 133.9 219.3 132.9 219.4 131.9 219.4 130.9 219.5 129.8 219.6 128.8 219.6 127.8 219.7 126.8 219.7 125.8 219.8 124.8 219.9 123.8 219.9 122.8 220.0 121.8 220.0 120.8 220.1 119.8 220.2 118.8 220.2 117.8 220.3 116.8 220.3 115.8 220.4 114.8 220.5 113.8 220.5 112.8 220.6 111.8 220.6 110.8 220.7 109.8 220.8 108.8 220.8 107.8 220.9 106.8 220.9 105.9 221.0 104.9 221.1 103.9 221.1 102.8 221.2 101.8 221.2 100.8 221.3 99.7 221.4 98.8 221.4 97.8 221.5 96.9 221.5 96.0 221.6 95.2 221.7 94.5 221.7 93.8 221.8 93.1 221.8 92.4 221.9 91.8 222.0 91.1 222.0 90.5 222.1 89.9 222.1 89.4 222.2 88.8 222.3 88.3 222.3 87.8 222.4 87.3 222.4 86.9 222.5 86.5 222.6 86.1 222.6 85.7 222.7 85.4 222.7 85.1 222.8 84.7 222.9 84.4 222.9 84.1 223.0 83.8 223.0 83.5 223.1 83.2 223.2 83.0 223.2 82.7 223.3 82.5 223.3 82.2 223.4 82.0 223.5 81.7 223.5 81.5 223.6 81.3 223.6 81.1 223.7 80.9 223.8 80.8 223.8 80.6 223.9 80.5 223.9 80.3 224.0 80.2 224.1 80.1 224.1 79.9 224.2 79.8 224.2 79.7 224.3 79.6 224.4 79.5 224.4 79.4 224.5 79.3 224.5 79.2 224.6 79.1 224.7 79.0 224.7 78.9 224.8 78.8 225.1 78.4 225.4 78.0 225.7 77.8 226.0 77.6 226.3 77.5 226.6 77.3 226.9 77.2 227.2 77.1 227.5 77.0 227.8 76.9 228.1 76.8 228.4 76.8 228.7 76.7 229.0 76.7 229.3 76.7 229.6 76.7 229.9 76.8 230.2 76.8 230.5 76.9 230.8 77.0 231.1 77.1 231.4 77.2 231.7 77.3 232.0 77.4 232.3 77.6 232.6 77.8 232.9 78.0 233.2 78.2 233.5 78.3 233.8 78.5 234.1 78.6 234.4 78.8 236.8 79.9 239.2 81.2 241.6 82.6 244.0 83.9 246.4 85.2 248.8 86.5 251.2 87.8 253.7 89.0 256.1 90.2 258.5 91.4 260.9 92.5 263.3 93.6 265.7 94.7 268.1 95.8 270.5 96.8 272.9 97.8 275.3 98.7 277.7 99.6 280.1 100.5 282.5 101.4 284.9 102.2 287.3 103.0 289.7 103.7 292.1 104.4 294.5 105.1 296.9 105.8 299.4 106.4 301.8 107.0 304.2 107.6 306.6 108.2 309.0 108.7 311.4 109.2 313.8 109.7 316.2 110.2 318.6 110.7 321.0 111.1 323.4 111.5 325.8 112.0 328.2 112.4 330.6 112.7 333.0 113.1 335.4 113.5 337.8 113.8 340.2 114.2 342.7 114.5 345.1 114.8 347.5 115.2 349.9 115.5 352.3 115.8 354.7 116.1 357.1 116.4 359.5 116.7 361.9 117.0 364.3 117.2 366.7 117.5 369.1 117.8 371.5 118.1 373.9 118.3 376.3 118.6 378.7 118.8 381.1 119.1 383.6 119.3 386.0 119.6 388.4 119.8 390.8 120.1 393.2 120.3 395.6 120.6 398.0 120.8 400.4 121.0 402.8 121.2 405.2 121.5 407.6 121.7 410.0 121.9 412.4 122.1 414.8 122.4 417.2 122.6 419.6 122.8 422.0 123.0 424.4 123.2 426.8 123.4 429.3 123.6 431.7 123.8 434.1 124.0 436.5 124.2 438.9 124.4 441.3 124.6 443.7 124.8 446.1 125.0 448.5 125.2 450.9 125.4 453.3 125.6 455.7 125.8 458.1 126.0 460.5 126.1 462.9 126.3 465.3 126.5 467.7 126.7 470.1 126.8 472.6 127.0 475.0 127.2 477.4 127.4 479.8 127.5 482.2 127.7 484.6 127.9 487.0 128.0 489.4 128.2 491.8 128.4 494.2 128.5 496.6 128.7 499.0 128.8 501.4 129.0 503.8 129.1 506.2 129.3 508.6 129.4 511.0 129.6 513.5 129.7 515.9 129.9 518.3 130.0 520.7 130.2 523.1 130.3 525.5 130.5 527.9 130.6 530.3 130.7 532.7 130.9 535.1 131.0 537.5 131.2 539.9 131.3 542.3 131.4 544.7 131.6 547.1 131.7 549.5 131.8 551.9 131.9 554.3 132.1 556.8 132.2 559.2 132.3 561.6 132.4 564.0 132.6 566.4 132.7 568.8 132.8 571.2 132.9 573.6 133.1 576.0 133.2 578.4 133.3" stroke="#4C72B0" stroke-width="1.38" fill="none" stroke-linejoin="round" stroke-linecap="round"/></g>
<path d="M37.15 112.65H578.40" stroke="#7a7a7a" stroke-width="1.25" stroke-dasharray="4.5 1.5" stroke-dashoffset="0" fill="none"/>
<text x="234.15" y="12.00" font-weight="bold" fill="#3a3a3a" font-size="15" textLength="24.15" lengthAdjust="spacingAndGlyphs">(A)</text>
<text x="266.10" y="12.00" font-weight="bold" fill="#3a3a3a" font-size="15" textLength="115.40" lengthAdjust="spacingAndGlyphs">non-adjuvanted</text>
<text transform="translate(13.8 83.90) rotate(-90)" class="lab" text-anchor="middle" font-size="20.5" textLength="63" lengthAdjust="spacingAndGlyphs">Ab titer</text>
<text x="32.60" y="133.38" text-anchor="end" font-size="8.2" textLength="3.6" lengthAdjust="spacingAndGlyphs">1</text>
<text x="28.70" y="136.88" text-anchor="end" font-size="11">2</text>
<text x="32.60" y="106.98" text-anchor="end" font-size="8.2" textLength="3.6" lengthAdjust="spacingAndGlyphs">4</text>
<text x="28.70" y="110.48" text-anchor="end" font-size="11">2</text>
<text x="32.60" y="80.58" text-anchor="end" font-size="8.2" textLength="3.6" lengthAdjust="spacingAndGlyphs">7</text>
<text x="28.70" y="84.08" text-anchor="end" font-size="11">2</text>
<text x="32.60" y="54.18" text-anchor="end" font-size="8.2" textLength="6.9" lengthAdjust="spacingAndGlyphs">10</text>
<text x="25.40" y="57.68" text-anchor="end" font-size="11">2</text>
<text x="32.60" y="27.78" text-anchor="end" font-size="8.2" textLength="6.9" lengthAdjust="spacingAndGlyphs">13</text>
<text x="25.40" y="31.28" text-anchor="end" font-size="11">2</text>
<rect x="37.15" y="180.93" width="541.25" height="137.60" fill="#EAEAF2"/>
<path d="M97.29 180.93V318.53M157.43 180.93V318.53M217.57 180.93V318.53M277.71 180.93V318.53M337.84 180.93V318.53M397.98 180.93V318.53M458.12 180.93V318.53M518.26 180.93V318.53M37.15 298.41H578.40M37.15 272.01H578.40M37.15 245.61H578.40M37.15 219.21H578.40M37.15 192.81H578.40" stroke="#fff" stroke-width="1.0" fill="none"/>
<clipPath id="c1"><rect x="37.15" y="180.93" width="541.25" height="137.60"/></clipPath>
<g clip-path="url(#c1)"><path d="M192.3 307.1 192.4 306.8 192.5 306.4 192.7 305.9 192.8 305.4 192.9 304.9 193.0 304.3 193.2 303.7 193.3 303.0 193.4 302.4 193.5 301.6 193.6 300.9 193.8 300.2 193.9 299.4 194.0 298.6 194.1 297.8 194.2 296.9 194.4 296.0 194.5 295.0 194.6 293.9 194.7 292.8 194.8 291.6 195.0 290.4 195.1 289.2 195.2 287.9 195.3 286.7 195.4 285.5 195.6 284.2 195.7 282.8 195.8 281.4 195.9 280.0 196.0 278.6 196.2 277.3 196.3 276.0 196.4 274.8 196.5 273.5 196.6 272.2 196.8 271.0 196.9 269.8 197.0 268.8 197.1 267.8 197.2 267.0 197.4 266.3 197.5 265.6 197.6 264.9 197.7 264.2 197.8 263.6 198.0 263.0 198.1 262.4 198.2 261.8 198.3 261.3 198.4 260.8 198.6 260.4 198.7 259.9 198.8 259.5 198.9 259.2 199.0 258.8 199.2 258.5 199.3 258.1 199.4 257.8 199.5 257.5 199.6 257.1 199.8 256.8 199.9 256.5 200.0 256.3 200.1 256.0 200.2 255.7 200.4 255.5 200.5 255.2 200.6 255.0 200.7 254.7 200.8 254.5 201.0 254.3 201.1 254.1 201.2 253.9 201.3 253.7 201.4 253.5 201.6 253.3 201.7 253.1 201.8 253.0 201.9 252.8 202.1 252.7 202.2 252.5 202.3 252.4 202.4 252.2 202.5 252.1 202.7 252.0 202.8 251.8 202.9 251.7 203.0 251.6 203.1 251.4 203.3 251.3 203.4 251.2 203.5 251.1 203.6 250.9 203.7 250.8 203.9 250.7 204.0 250.6 204.1 250.5 204.2 250.4 204.3 250.3 204.9 249.8 205.5 249.4 206.1 249.1 206.7 248.9 207.3 248.7 207.9 248.4 208.5 248.3 209.1 248.1 209.7 248.0 210.4 247.9 211.0 247.9 211.6 247.8 212.2 247.8 212.8 247.8 213.4 247.8 214.0 247.8 214.6 247.9 215.2 247.9 215.8 248.0 216.4 248.0 217.0 248.1 217.6 248.2 217.6 248.8 217.7 249.3 217.7 249.6 217.8 249.9 217.9 250.0 217.9 250.0 218.0 250.0 218.0 250.0 218.1 249.9 218.2 249.8 218.2 249.7 218.3 249.6 218.3 249.5 218.4 249.4 218.5 249.3 218.5 249.2 218.6 249.1 218.6 249.0 218.7 249.0 218.8 248.9 218.8 248.8 218.9 248.7 218.9 248.7 219.0 248.6 219.1 248.5 219.1 248.4 219.2 248.3 219.3 248.1 219.3 248.0 219.4 247.8 219.4 247.7 219.5 247.4 219.6 247.2 219.6 246.9 219.7 246.5 219.7 246.1 219.8 245.7 219.9 245.2 219.9 244.7 220.0 244.1 220.0 243.5 220.1 242.9 220.2 242.3 220.2 241.6 220.3 240.9 220.3 240.1 220.4 239.4 220.5 238.6 220.5 237.8 220.6 237.0 220.6 236.1 220.7 235.3 220.8 234.4 220.8 233.4 220.9 232.4 220.9 231.4 221.0 230.4 221.1 229.3 221.1 228.3 221.2 227.2 221.2 226.2 221.3 225.2 221.4 224.3 221.4 223.4 221.5 222.5 221.5 221.5 221.6 220.6 221.7 219.7 221.7 218.8 221.8 217.9 221.8 217.0 221.9 216.2 222.0 215.4 222.0 214.6 222.1 214.0 222.1 213.4 222.2 212.8 222.3 212.4 222.3 212.0 222.4 211.6 222.4 211.2 222.5 210.8 222.6 210.5 222.6 210.1 222.7 209.8 222.7 209.5 222.8 209.2 222.9 208.9 222.9 208.6 223.0 208.4 223.0 208.1 223.1 207.9 223.2 207.7 223.2 207.4 223.3 207.2 223.3 207.0 223.4 206.8 223.5 206.7 223.5 206.5 223.6 206.3 223.6 206.1 223.7 206.0 223.8 205.8 223.8 205.7 223.9 205.5 223.9 205.4 224.0 205.3 224.1 205.1 224.1 205.0 224.2 204.9 224.2 204.8 224.3 204.7 224.4 204.6 224.4 204.5 224.5 204.4 224.5 204.3 224.6 204.2 224.7 204.1 224.7 204.1 224.8 204.0 225.1 203.6 225.4 203.3 225.7 203.0 226.0 202.7 226.3 202.5 226.6 202.4 226.9 202.3 227.2 202.1 227.5 202.0 227.8 201.9 228.1 201.8 228.4 201.7 228.7 201.6 229.0 201.6 229.3 201.5 229.6 201.5 229.9 201.5 230.2 201.6 230.5 201.6 230.8 201.6 231.1 201.6 231.4 201.7 231.7 201.7 232.0 201.8 232.3 201.9 232.6 202.0 232.9 202.0 233.2 202.1 233.5 202.2 233.8 202.3 234.1 202.5 234.4 202.6 236.8 203.8 239.2 205.3 241.6 206.7 244.0 208.1 246.4 209.5 248.8 210.9 251.2 212.3 253.7 213.6 256.1 214.9 258.5 216.1 260.9 217.4 263.3 218.6 265.7 219.7 268.1 220.9 270.5 222.0 272.9 223.0 275.3 224.0 277.7 225.0 280.1 226.0 282.5 226.9 284.9 227.7 287.3 228.6 289.7 229.4 292.1 230.1 294.5 230.9 296.9 231.6 299.4 232.2 301.8 232.9 304.2 233.5" stroke="url(#fg0)" stroke-width="1.38" fill="none" stroke-linejoin="round" stroke-linecap="round"/><path d="M167.1 307.1 167.2 306.8 167.3 306.4 167.4 305.9 167.5 305.4 167.7 304.9 167.8 304.3 167.9 303.7 168.0 303.0 168.1 302.4 168.3 301.6 168.4 300.9 168.5 300.2 168.6 299.4 168.7 298.6 168.9 297.8 169.0 296.9 169.1 296.0 169.2 295.0 169.3 293.9 169.5 292.8 169.6 291.6 169.7 290.4 169.8 289.2 169.9 287.9 170.1 286.7 170.2 285.5 170.3 284.2 170.4 282.8 170.5 281.4 170.7 280.0 170.8 278.6 170.9 277.3 171.0 276.0 171.1 274.8 171.3 273.5 171.4 272.2 171.5 271.0 171.6 269.8 171.7 268.8 171.9 267.8 172.0 267.0 172.1 266.3 172.2 265.6 172.3 264.9 172.5 264.2 172.6 263.6 172.7 263.0 172.8 262.4 172.9 261.8 173.1 261.3 173.2 260.8 173.3 260.4 173.4 259.9 173.5 259.5 173.7 259.2 173.8 258.8 173.9 258.5 174.0 258.1 174.1 257.8 174.3 257.5 174.4 257.1 174.5 256.8 174.6 256.5 174.7 256.3 174.9 256.0 175.0 255.7 175.1 255.5 175.2 255.2 175.3 255.0 175.5 254.7 175.6 254.5 175.7 254.3 175.8 254.1 176.0 253.9 176.1 253.7 176.2 253.5 176.3 253.3 176.4 253.1 176.6 253.0 176.7 252.8 176.8 252.7 176.9 252.5 177.0 252.4 177.2 252.2 177.3 252.1 177.4 252.0 177.5 251.8 177.6 251.7 177.8 251.6 177.9 251.4 178.0 251.3 178.1 251.2 178.2 251.1 178.4 250.9 178.5 250.8 178.6 250.7 178.7 250.6 178.8 250.5 179.0 250.4 179.1 250.3 179.7 249.8 180.3 249.4 180.9 249.1 181.5 248.9 182.1 248.7 182.7 248.4 183.3 248.3 183.9 248.1 184.5 248.0 185.1 247.9 185.7 247.9 186.3 247.8 186.9 247.8 187.5 247.8 188.1 247.8 188.7 247.8 189.3 247.9 189.9 247.9 190.5 248.0 191.1 248.0 191.7 248.1 192.3 248.2 192.9 248.3 193.5 248.4 194.1 248.5 194.7 248.6 195.3 248.7 195.9 248.9 196.5 249.0 197.1 249.1 197.7 249.3 198.3 249.4 198.9 249.6 199.5 249.7 200.1 249.9 200.7 250.0 201.3 250.1 201.9 250.3 202.5 250.4 203.1 250.6 206.7 251.4 210.4 252.2 214.0 253.0 217.6 253.8 217.6 254.5 217.7 255.0 217.7 255.3 217.8 255.5 217.9 255.6 217.9 255.7 218.0 255.7 218.0 255.6 218.1 255.5 218.2 255.4 218.2 255.3 218.3 255.2 218.3 255.1 218.4 255.0 218.5 254.9 218.5 254.8 218.6 254.7 218.6 254.6 218.7 254.5 218.8 254.4 218.8 254.2 218.9 254.1 218.9 253.9 219.0 253.8 219.1 253.5 219.1 253.3 219.2 253.1 219.3 252.8 219.3 252.4 219.4 252.1 219.4 251.6 219.5 251.2 219.6 250.7 219.6 250.1 219.7 249.5 219.7 248.9 219.8 248.2 219.9 247.5 219.9 246.7 220.0 246.0 220.0 245.2 220.1 244.4 220.2 243.7 220.2 242.9 220.3 242.1 220.3 241.3 220.4 240.4 220.5 239.6 220.5 238.8 220.6 237.9 220.6 237.0 220.7 236.1 220.8 235.2 220.8 234.2 220.9 233.2 220.9 232.2 221.0 231.1 221.1 230.1 221.1 229.0 221.2 228.0 221.2 227.0 221.3 226.0 221.4 225.0 221.4 224.1 221.5 223.2 221.5 222.3 221.6 221.3 221.7 220.4 221.7 219.5 221.8 218.6 221.8 217.7 221.9 216.9 222.0 216.1 222.0 215.4 222.1 214.7 222.1 214.1 222.2 213.6 222.3 213.1 222.3 212.7 222.4 212.3 222.4 211.9 222.5 211.5 222.6 211.2 222.6 210.8 222.7 210.5 222.7 210.2 222.8 209.9 222.9 209.6 222.9 209.4 223.0 209.1 223.0 208.9 223.1 208.6 223.2 208.4 223.2 208.2 223.3 208.0 223.3 207.8 223.4 207.6 223.5 207.4 223.5 207.2 223.6 207.0 223.6 206.9 223.7 206.7 223.8 206.6 223.8 206.4 223.9 206.3 223.9 206.1 224.0 206.0 224.1 205.9 224.1 205.7 224.2 205.6 224.2 205.5 224.3 205.4 224.4 205.3 224.4 205.2 224.5 205.1 224.5 205.0 224.6 204.9 224.7 204.9 224.7 204.8 224.8 204.7 225.1 204.3 225.4 204.0 225.7 203.7 226.0 203.5 226.3 203.3 226.6 203.1 226.9 203.0 227.2 202.8 227.5 202.7 227.8 202.6 228.1 202.5 228.4 202.4 228.7 202.3 229.0 202.3 229.3 202.3 229.6 202.2 229.9 202.2 230.2 202.2 230.5 202.3 230.8 202.3 231.1 202.3 231.4 202.4 231.7 202.4 232.0 202.5 232.3 202.6 232.6 202.6 232.9 202.7 233.2 202.8 233.5 202.9 233.8 203.0 234.1 203.1 234.4 203.3 236.8 204.5 239.2 205.9 241.6 207.3 244.0 208.7 246.4 210.1 248.8 211.4 251.2 212.8 253.7 214.1 256.1 215.3 258.5 216.6 260.9 217.8 263.3 218.9 265.7 220.1 268.1 221.2 270.5 222.3 272.9 223.3 275.3 224.3 277.7 225.2 280.1 226.2 282.5 227.1 284.9 227.9 287.3 228.7 289.7 229.5 292.1 230.3 294.5 231.0 296.9 231.7 299.4 232.3 301.8 232.9 304.2 233.5" stroke="url(#fg1)" stroke-width="1.38" fill="none" stroke-linejoin="round" stroke-linecap="round"/><path d="M141.8 307.1 141.9 306.8 142.0 306.4 142.2 305.9 142.3 305.4 142.4 304.9 142.5 304.3 142.6 303.7 142.8 303.0 142.9 302.4 143.0 301.6 143.1 300.9 143.2 300.2 143.4 299.4 143.5 298.6 143.6 297.8 143.7 296.9 143.8 296.0 144.0 295.0 144.1 293.9 144.2 292.8 144.3 291.6 144.4 290.4 144.6 289.2 144.7 287.9 144.8 286.7 144.9 285.5 145.0 284.2 145.2 282.8 145.3 281.4 145.4 280.0 145.5 278.6 145.6 277.3 145.8 276.0 145.9 274.8 146.0 273.5 146.1 272.2 146.2 271.0 146.4 269.8 146.5 268.8 146.6 267.8 146.7 267.0 146.8 266.3 147.0 265.6 147.1 264.9 147.2 264.2 147.3 263.6 147.4 263.0 147.6 262.4 147.7 261.8 147.8 261.3 147.9 260.8 148.0 260.4 148.2 259.9 148.3 259.5 148.4 259.2 148.5 258.8 148.6 258.5 148.8 258.1 148.9 257.8 149.0 257.5 149.1 257.1 149.2 256.8 149.4 256.5 149.5 256.3 149.6 256.0 149.7 255.7 149.9 255.5 150.0 255.2 150.1 255.0 150.2 254.7 150.3 254.5 150.5 254.3 150.6 254.1 150.7 253.9 150.8 253.7 150.9 253.5 151.1 253.3 151.2 253.1 151.3 253.0 151.4 252.8 151.5 252.7 151.7 252.5 151.8 252.4 151.9 252.2 152.0 252.1 152.1 252.0 152.3 251.8 152.4 251.7 152.5 251.6 152.6 251.4 152.7 251.3 152.9 251.2 153.0 251.1 153.1 250.9 153.2 250.8 153.3 250.7 153.5 250.6 153.6 250.5 153.7 250.4 153.8 250.3 154.4 249.8 155.0 249.4 155.6 249.1 156.2 248.9 156.8 248.7 157.4 248.4 158.0 248.3 158.6 248.1 159.2 248.0 159.8 247.9 160.4 247.9 161.0 247.8 161.6 247.8 162.2 247.8 162.8 247.8 163.4 247.8 164.0 247.9 164.6 247.9 165.2 248.0 165.8 248.0 166.4 248.1 167.1 248.2 167.7 248.3 168.3 248.4 168.9 248.5 169.5 248.6 170.1 248.7 170.7 248.9 171.3 249.0 171.9 249.1 172.5 249.3 173.1 249.4 173.7 249.6 174.3 249.7 174.9 249.9 175.5 250.0 176.1 250.1 176.7 250.3 177.3 250.4 177.9 250.6 181.5 251.4 185.1 252.2 188.7 253.0 192.3 253.8 195.9 254.6 199.5 255.4 203.1 256.2 206.7 256.9 210.4 257.7 214.0 258.4 217.6 259.1 217.6 259.8 217.7 260.2 217.7 260.6 217.8 260.8 217.9 260.9 217.9 260.9 218.0 260.9 218.0 260.9 218.1 260.8 218.2 260.7 218.2 260.6 218.3 260.4 218.3 260.3 218.4 260.2 218.5 260.0 218.5 259.9 218.6 259.7 218.6 259.5 218.7 259.4 218.8 259.1 218.8 258.9 218.9 258.6 218.9 258.3 219.0 257.9 219.1 257.5 219.1 257.0 219.2 256.5 219.3 256.0 219.3 255.4 219.4 254.8 219.4 254.1 219.5 253.5 219.6 252.7 219.6 252.0 219.7 251.2 219.7 250.4 219.8 249.6 219.9 248.7 219.9 247.9 220.0 247.1 220.0 246.2 220.1 245.4 220.2 244.6 220.2 243.7 220.3 242.9 220.3 242.1 220.4 241.2 220.5 240.4 220.5 239.5 220.6 238.6 220.6 237.7 220.7 236.8 220.8 235.9 220.8 234.9 220.9 233.9 220.9 232.9 221.0 231.8 221.1 230.8 221.1 229.7 221.2 228.7 221.2 227.7 221.3 226.7 221.4 225.7 221.4 224.8 221.5 223.9 221.5 223.0 221.6 222.0 221.7 221.1 221.7 220.2 221.8 219.3 221.8 218.4 221.9 217.6 222.0 216.8 222.0 216.0 222.1 215.4 222.1 214.8 222.2 214.2 222.3 213.8 222.3 213.4 222.4 213.0 222.4 212.6 222.5 212.2 222.6 211.9 222.6 211.5 222.7 211.2 222.7 210.9 222.8 210.6 222.9 210.3 222.9 210.0 223.0 209.8 223.0 209.5 223.1 209.3 223.2 209.1 223.2 208.8 223.3 208.6 223.3 208.4 223.4 208.2 223.5 208.1 223.5 207.9 223.6 207.7 223.6 207.5 223.7 207.4 223.8 207.2 223.8 207.1 223.9 206.9 223.9 206.8 224.0 206.7 224.1 206.5 224.1 206.4 224.2 206.3 224.2 206.2 224.3 206.1 224.4 206.0 224.4 205.9 224.5 205.8 224.5 205.7 224.6 205.6 224.7 205.5 224.7 205.5 224.8 205.4 225.1 205.0 225.4 204.7 225.7 204.4 226.0 204.1 226.3 203.9 226.6 203.8 226.9 203.6 227.2 203.5 227.5 203.4 227.8 203.3 228.1 203.2 228.4 203.1 228.7 203.0 229.0 202.9 229.3 202.9 229.6 202.9 229.9 202.9 230.2 202.9 230.5 202.9 230.8 202.9 231.1 203.0 231.4 203.0 231.7 203.1 232.0 203.1 232.3 203.2 232.6 203.3 232.9 203.4 233.2 203.4 233.5 203.5 233.8 203.6 234.1 203.8 234.4 203.9 236.8 205.1 239.2 206.5 241.6 207.9 244.0 209.3 246.4 210.6 248.8 211.9 251.2 213.2 253.7 214.5 256.1 215.7 258.5 216.9 260.9 218.1 263.3 219.3 265.7 220.4 268.1 221.5 270.5 222.5 272.9 223.5 275.3 224.5 277.7 225.4 280.1 226.3 282.5 227.2 284.9 228.1 287.3 228.9 289.7 229.6 292.1 230.4 294.5 231.1 296.9 231.7 299.4 232.4 301.8 233.0 304.2 233.6" stroke="url(#fg2)" stroke-width="1.38" fill="none" stroke-linejoin="round" stroke-linecap="round"/><path d="M116.5 307.1 116.7 306.8 116.8 306.4 116.9 305.9 117.0 305.4 117.1 304.9 117.3 304.3 117.4 303.7 117.5 303.0 117.6 302.4 117.7 301.6 117.9 300.9 118.0 300.2 118.1 299.4 118.2 298.6 118.3 297.8 118.5 296.9 118.6 296.0 118.7 295.0 118.8 293.9 118.9 292.8 119.1 291.6 119.2 290.4 119.3 289.2 119.4 287.9 119.5 286.7 119.7 285.5 119.8 284.2 119.9 282.8 120.0 281.4 120.1 280.0 120.3 278.6 120.4 277.3 120.5 276.0 120.6 274.8 120.7 273.5 120.9 272.2 121.0 271.0 121.1 269.8 121.2 268.8 121.3 267.8 121.5 267.0 121.6 266.3 121.7 265.6 121.8 264.9 121.9 264.2 122.1 263.6 122.2 263.0 122.3 262.4 122.4 261.8 122.5 261.3 122.7 260.8 122.8 260.4 122.9 259.9 123.0 259.5 123.1 259.2 123.3 258.8 123.4 258.5 123.5 258.1 123.6 257.8 123.8 257.5 123.9 257.1 124.0 256.8 124.1 256.5 124.2 256.3 124.4 256.0 124.5 255.7 124.6 255.5 124.7 255.2 124.8 255.0 125.0 254.7 125.1 254.5 125.2 254.3 125.3 254.1 125.4 253.9 125.6 253.7 125.7 253.5 125.8 253.3 125.9 253.1 126.0 253.0 126.2 252.8 126.3 252.7 126.4 252.5 126.5 252.4 126.6 252.2 126.8 252.1 126.9 252.0 127.0 251.8 127.1 251.7 127.2 251.6 127.4 251.4 127.5 251.3 127.6 251.2 127.7 251.1 127.8 250.9 128.0 250.8 128.1 250.7 128.2 250.6 128.3 250.5 128.4 250.4 128.6 250.3 129.2 249.8 129.8 249.4 130.4 249.1 131.0 248.9 131.6 248.7 132.2 248.4 132.8 248.3 133.4 248.1 134.0 248.0 134.6 247.9 135.2 247.9 135.8 247.8 136.4 247.8 137.0 247.8 137.6 247.8 138.2 247.8 138.8 247.9 139.4 247.9 140.0 248.0 140.6 248.0 141.2 248.1 141.8 248.2 142.4 248.3 143.0 248.4 143.6 248.5 144.2 248.6 144.8 248.7 145.4 248.9 146.0 249.0 146.6 249.1 147.2 249.3 147.8 249.4 148.4 249.6 149.0 249.7 149.6 249.9 150.2 250.0 150.8 250.1 151.4 250.3 152.0 250.4 152.6 250.6 156.2 251.4 159.8 252.2 163.4 253.0 167.1 253.8 170.7 254.6 174.3 255.4 177.9 256.2 181.5 256.9 185.1 257.7 188.7 258.4 192.3 259.1 195.9 259.8 199.5 260.5 203.1 261.1 206.7 261.8 210.4 262.4 214.0 263.1 217.6 263.7 217.6 264.3 217.7 264.8 217.7 265.1 217.8 265.4 217.9 265.5 217.9 265.5 218.0 265.5 218.0 265.4 218.1 265.3 218.2 265.2 218.2 265.0 218.3 264.9 218.3 264.7 218.4 264.5 218.5 264.3 218.5 264.1 218.6 263.8 218.6 263.5 218.7 263.1 218.8 262.8 218.8 262.3 218.9 261.8 218.9 261.3 219.0 260.6 219.1 259.9 219.1 259.3 219.2 258.6 219.3 257.9 219.3 257.1 219.4 256.3 219.4 255.5 219.5 254.7 219.6 253.9 219.6 253.0 219.7 252.2 219.7 251.3 219.8 250.4 219.9 249.5 219.9 248.7 220.0 247.8 220.0 246.9 220.1 246.1 220.2 245.2 220.2 244.4 220.3 243.6 220.3 242.7 220.4 241.9 220.5 241.0 220.5 240.1 220.6 239.3 220.6 238.4 220.7 237.4 220.8 236.5 220.8 235.5 220.9 234.5 220.9 233.5 221.0 232.4 221.1 231.4 221.1 230.3 221.2 229.3 221.2 228.2 221.3 227.2 221.4 226.3 221.4 225.4 221.5 224.5 221.5 223.5 221.6 222.6 221.7 221.7 221.7 220.8 221.8 219.9 221.8 219.0 221.9 218.2 222.0 217.4 222.0 216.6 222.1 216.0 222.1 215.4 222.2 214.8 222.3 214.4 222.3 214.0 222.4 213.6 222.4 213.2 222.5 212.8 222.6 212.4 222.6 212.1 222.7 211.8 222.7 211.5 222.8 211.2 222.9 210.9 222.9 210.6 223.0 210.4 223.0 210.1 223.1 209.9 223.2 209.7 223.2 209.4 223.3 209.2 223.3 209.0 223.4 208.8 223.5 208.6 223.5 208.5 223.6 208.3 223.6 208.1 223.7 208.0 223.8 207.8 223.8 207.7 223.9 207.5 223.9 207.4 224.0 207.3 224.1 207.1 224.1 207.0 224.2 206.9 224.2 206.8 224.3 206.7 224.4 206.6 224.4 206.5 224.5 206.4 224.5 206.3 224.6 206.2 224.7 206.1 224.7 206.0 224.8 206.0 225.1 205.6 225.4 205.3 225.7 205.0 226.0 204.7 226.3 204.5 226.6 204.3 226.9 204.2 227.2 204.1 227.5 204.0 227.8 203.8 228.1 203.7 228.4 203.6 228.7 203.6 229.0 203.5 229.3 203.5 229.6 203.5 229.9 203.5 230.2 203.5 230.5 203.5 230.8 203.5 231.1 203.5 231.4 203.6 231.7 203.6 232.0 203.7 232.3 203.7 232.6 203.8 232.9 203.9 233.2 204.0 233.5 204.1 233.8 204.2 234.1 204.3 234.4 204.4 236.8 205.6 239.2 207.0 241.6 208.4 244.0 209.7 246.4 211.1 248.8 212.4 251.2 213.6 253.7 214.9 256.1 216.1 258.5 217.3 260.9 218.4 263.3 219.6 265.7 220.7 268.1 221.7 270.5 222.7 272.9 223.7 275.3 224.7 277.7 225.6 280.1 226.5 282.5 227.4 284.9 228.2 287.3 229.0 289.7 229.7 292.1 230.4 294.5 231.1 296.9 231.8 299.4 232.4 301.8 233.0 304.2 233.6" stroke="url(#fg3)" stroke-width="1.38" fill="none" stroke-linejoin="round" stroke-linecap="round"/><path d="M91.3 307.1 91.4 306.8 91.5 306.4 91.6 305.9 91.8 305.4 91.9 304.9 92.0 304.3 92.1 303.7 92.2 303.0 92.4 302.4 92.5 301.6 92.6 300.9 92.7 300.2 92.8 299.4 93.0 298.6 93.1 297.8 93.2 296.9 93.3 296.0 93.4 295.0 93.6 293.9 93.7 292.8 93.8 291.6 93.9 290.4 94.0 289.2 94.2 287.9 94.3 286.7 94.4 285.5 94.5 284.2 94.6 282.8 94.8 281.4 94.9 280.0 95.0 278.6 95.1 277.3 95.2 276.0 95.4 274.8 95.5 273.5 95.6 272.2 95.7 271.0 95.8 269.8 96.0 268.8 96.1 267.8 96.2 267.0 96.3 266.3 96.4 265.6 96.6 264.9 96.7 264.2 96.8 263.6 96.9 263.0 97.0 262.4 97.2 261.8 97.3 261.3 97.4 260.8 97.5 260.4 97.6 259.9 97.8 259.5 97.9 259.2 98.0 258.8 98.1 258.5 98.3 258.1 98.4 257.8 98.5 257.5 98.6 257.1 98.7 256.8 98.9 256.5 99.0 256.3 99.1 256.0 99.2 255.7 99.3 255.5 99.5 255.2 99.6 255.0 99.7 254.7 99.8 254.5 99.9 254.3 100.1 254.1 100.2 253.9 100.3 253.7 100.4 253.5 100.5 253.3 100.7 253.1 100.8 253.0 100.9 252.8 101.0 252.7 101.1 252.5 101.3 252.4 101.4 252.2 101.5 252.1 101.6 252.0 101.7 251.8 101.9 251.7 102.0 251.6 102.1 251.4 102.2 251.3 102.3 251.2 102.5 251.1 102.6 250.9 102.7 250.8 102.8 250.7 102.9 250.6 103.1 250.5 103.2 250.4 103.3 250.3 103.9 249.8 104.5 249.4 105.1 249.1 105.7 248.9 106.3 248.7 106.9 248.4 107.5 248.3 108.1 248.1 108.7 248.0 109.3 247.9 109.9 247.9 110.5 247.8 111.1 247.8 111.7 247.8 112.3 247.8 112.9 247.8 113.5 247.9 114.1 247.9 114.7 248.0 115.3 248.0 115.9 248.1 116.5 248.2 117.1 248.3 117.7 248.4 118.3 248.5 118.9 248.6 119.5 248.7 120.1 248.9 120.7 249.0 121.3 249.1 121.9 249.3 122.5 249.4 123.1 249.6 123.8 249.7 124.4 249.9 125.0 250.0 125.6 250.1 126.2 250.3 126.8 250.4 127.4 250.6 131.0 251.4 134.6 252.2 138.2 253.0 141.8 253.8 145.4 254.6 149.0 255.4 152.6 256.2 156.2 256.9 159.8 257.7 163.4 258.4 167.1 259.1 170.7 259.8 174.3 260.5 177.9 261.1 181.5 261.8 185.1 262.4 188.7 263.1 192.3 263.7 195.9 264.3 199.5 264.8 203.1 265.4 206.7 266.0 210.4 266.5 214.0 267.0 217.6 267.5 217.6 268.2 217.7 268.7 217.7 269.0 217.8 269.2 217.9 269.3 217.9 269.3 218.0 269.3 218.0 269.2 218.1 269.1 218.2 268.9 218.2 268.7 218.3 268.5 218.3 268.2 218.4 267.9 218.5 267.6 218.5 267.2 218.6 266.8 218.6 266.3 218.7 265.8 218.8 265.2 218.8 264.5 218.9 263.8 218.9 263.0 219.0 262.2 219.1 261.4 219.1 260.5 219.2 259.7 219.3 258.9 219.3 258.1 219.4 257.2 219.4 256.3 219.5 255.4 219.6 254.6 219.6 253.7 219.7 252.8 219.7 251.9 219.8 251.0 219.9 250.1 219.9 249.2 220.0 248.3 220.0 247.5 220.1 246.6 220.2 245.8 220.2 244.9 220.3 244.1 220.3 243.2 220.4 242.4 220.5 241.5 220.5 240.6 220.6 239.8 220.6 238.9 220.7 237.9 220.8 237.0 220.8 236.0 220.9 235.0 220.9 234.0 221.0 232.9 221.1 231.9 221.1 230.8 221.2 229.8 221.2 228.7 221.3 227.7 221.4 226.8 221.4 225.9 221.5 225.0 221.5 224.0 221.6 223.1 221.7 222.2 221.7 221.3 221.8 220.4 221.8 219.5 221.9 218.7 222.0 217.9 222.0 217.1 222.1 216.5 222.1 215.8 222.2 215.3 222.3 214.9 222.3 214.5 222.4 214.1 222.4 213.7 222.5 213.3 222.6 212.9 222.6 212.6 222.7 212.3 222.7 212.0 222.8 211.7 222.9 211.4 222.9 211.1 223.0 210.9 223.0 210.6 223.1 210.4 223.2 210.1 223.2 209.9 223.3 209.7 223.3 209.5 223.4 209.3 223.5 209.1 223.5 209.0 223.6 208.8 223.6 208.6 223.7 208.5 223.8 208.3 223.8 208.2 223.9 208.0 223.9 207.9 224.0 207.7 224.1 207.6 224.1 207.5 224.2 207.4 224.2 207.3 224.3 207.2 224.4 207.1 224.4 207.0 224.5 206.9 224.5 206.8 224.6 206.7 224.7 206.6 224.7 206.5 224.8 206.5 225.1 206.1 225.4 205.8 225.7 205.5 226.0 205.2 226.3 205.0 226.6 204.8 226.9 204.7 227.2 204.6 227.5 204.4 227.8 204.3 228.1 204.2 228.4 204.1 228.7 204.0 229.0 204.0 229.3 203.9 229.6 203.9 229.9 203.9 230.2 203.9 230.5 203.9 230.8 204.0 231.1 204.0 231.4 204.0 231.7 204.1 232.0 204.1 232.3 204.2 232.6 204.3 232.9 204.4 233.2 204.5 233.5 204.5 233.8 204.6 234.1 204.8 234.4 204.9 236.8 206.1 239.2 207.4 241.6 208.8 244.0 210.1 246.4 211.4 248.8 212.7 251.2 214.0 253.7 215.2 256.1 216.4 258.5 217.6 260.9 218.7 263.3 219.8 265.7 220.9 268.1 221.9 270.5 222.9 272.9 223.9 275.3 224.9 277.7 225.8 280.1 226.6 282.5 227.5 284.9 228.3 287.3 229.1 289.7 229.8 292.1 230.5 294.5 231.2 296.9 231.9 299.4 232.5 301.8 233.1 304.2 233.7" stroke="url(#fg4)" stroke-width="1.38" fill="none" stroke-linejoin="round" stroke-linecap="round"/><path d="M66.0 307.1 66.1 306.8 66.3 306.4 66.4 305.9 66.5 305.4 66.6 304.9 66.7 304.3 66.9 303.7 67.0 303.0 67.1 302.4 67.2 301.6 67.3 300.9 67.5 300.2 67.6 299.4 67.7 298.6 67.8 297.8 67.9 296.9 68.1 296.0 68.2 295.0 68.3 293.9 68.4 292.8 68.5 291.6 68.7 290.4 68.8 289.2 68.9 287.9 69.0 286.7 69.1 285.5 69.3 284.2 69.4 282.8 69.5 281.4 69.6 280.0 69.7 278.6 69.9 277.3 70.0 276.0 70.1 274.8 70.2 273.5 70.3 272.2 70.5 271.0 70.6 269.8 70.7 268.8 70.8 267.8 70.9 267.0 71.1 266.3 71.2 265.6 71.3 264.9 71.4 264.2 71.5 263.6 71.7 263.0 71.8 262.4 71.9 261.8 72.0 261.3 72.2 260.8 72.3 260.4 72.4 259.9 72.5 259.5 72.6 259.2 72.8 258.8 72.9 258.5 73.0 258.1 73.1 257.8 73.2 257.5 73.4 257.1 73.5 256.8 73.6 256.5 73.7 256.3 73.8 256.0 74.0 255.7 74.1 255.5 74.2 255.2 74.3 255.0 74.4 254.7 74.6 254.5 74.7 254.3 74.8 254.1 74.9 253.9 75.0 253.7 75.2 253.5 75.3 253.3 75.4 253.1 75.5 253.0 75.6 252.8 75.8 252.7 75.9 252.5 76.0 252.4 76.1 252.2 76.2 252.1 76.4 252.0 76.5 251.8 76.6 251.7 76.7 251.6 76.8 251.4 77.0 251.3 77.1 251.2 77.2 251.1 77.3 250.9 77.4 250.8 77.6 250.7 77.7 250.6 77.8 250.5 77.9 250.4 78.0 250.3 78.6 249.8 79.2 249.4 79.8 249.1 80.5 248.9 81.1 248.7 81.7 248.4 82.3 248.3 82.9 248.1 83.5 248.0 84.1 247.9 84.7 247.9 85.3 247.8 85.9 247.8 86.5 247.8 87.1 247.8 87.7 247.8 88.3 247.9 88.9 247.9 89.5 248.0 90.1 248.0 90.7 248.1 91.3 248.2 91.9 248.3 92.5 248.4 93.1 248.5 93.7 248.6 94.3 248.7 94.9 248.9 95.5 249.0 96.1 249.1 96.7 249.3 97.3 249.4 97.9 249.6 98.5 249.7 99.1 249.9 99.7 250.0 100.3 250.1 100.9 250.3 101.5 250.4 102.1 250.6 105.7 251.4 109.3 252.2 112.9 253.0 116.5 253.8 120.1 254.6 123.8 255.4 127.4 256.2 131.0 256.9 134.6 257.7 138.2 258.4 141.8 259.1 145.4 259.8 149.0 260.5 152.6 261.1 156.2 261.8 159.8 262.4 163.4 263.1 167.1 263.7 170.7 264.3 174.3 264.8 177.9 265.4 181.5 266.0 185.1 266.5 188.7 267.0 192.3 267.5 195.9 268.0 199.5 268.5 203.1 268.9 206.7 269.4 210.4 269.8 214.0 270.3 217.6 270.7 217.6 271.3 217.7 271.8 217.7 272.1 217.8 272.3 217.9 272.5 217.9 272.5 218.0 272.4 218.0 272.3 218.1 272.1 218.2 271.8 218.2 271.6 218.3 271.2 218.3 270.9 218.4 270.4 218.5 269.9 218.5 269.4 218.6 268.8 218.6 268.2 218.7 267.5 218.8 266.7 218.8 265.9 218.9 265.0 218.9 264.1 219.0 263.2 219.1 262.2 219.1 261.3 219.2 260.4 219.3 259.5 219.3 258.7 219.4 257.8 219.4 256.9 219.5 256.0 219.6 255.1 219.6 254.2 219.7 253.3 219.7 252.4 219.8 251.5 219.9 250.6 219.9 249.7 220.0 248.8 220.0 247.9 220.1 247.0 220.2 246.2 220.2 245.3 220.3 244.5 220.3 243.6 220.4 242.8 220.5 241.9 220.5 241.1 220.6 240.2 220.6 239.3 220.7 238.4 220.8 237.4 220.8 236.4 220.9 235.4 220.9 234.4 221.0 233.3 221.1 232.3 221.1 231.2 221.2 230.2 221.2 229.2 221.3 228.2 221.4 227.2 221.4 226.3 221.5 225.4 221.5 224.5 221.6 223.5 221.7 222.6 221.7 221.7 221.8 220.8 221.8 219.9 221.9 219.1 222.0 218.3 222.0 217.5 222.1 216.9 222.1 216.3 222.2 215.7 222.3 215.3 222.3 214.9 222.4 214.5 222.4 214.1 222.5 213.7 222.6 213.4 222.6 213.0 222.7 212.7 222.7 212.4 222.8 212.1 222.9 211.8 222.9 211.5 223.0 211.3 223.0 211.0 223.1 210.8 223.2 210.6 223.2 210.3 223.3 210.1 223.3 209.9 223.4 209.7 223.5 209.5 223.5 209.4 223.6 209.2 223.6 209.0 223.7 208.9 223.8 208.7 223.8 208.6 223.9 208.4 223.9 208.3 224.0 208.1 224.1 208.0 224.1 207.9 224.2 207.8 224.2 207.7 224.3 207.6 224.4 207.5 224.4 207.4 224.5 207.3 224.5 207.2 224.6 207.1 224.7 207.0 224.7 206.9 224.8 206.9 225.1 206.5 225.4 206.2 225.7 205.9 226.0 205.6 226.3 205.4 226.6 205.2 226.9 205.1 227.2 205.0 227.5 204.8 227.8 204.7 228.1 204.6 228.4 204.5 228.7 204.4 229.0 204.4 229.3 204.3 229.6 204.3 229.9 204.3 230.2 204.3 230.5 204.3 230.8 204.4 231.1 204.4 231.4 204.4 231.7 204.5 232.0 204.5 232.3 204.6 232.6 204.7 232.9 204.7 233.2 204.8 233.5 204.9 233.8 205.0 234.1 205.1 234.4 205.2 236.8 206.4 239.2 207.8 241.6 209.1 244.0 210.4 246.4 211.7 248.8 213.0 251.2 214.2 253.7 215.5 256.1 216.6 258.5 217.8 260.9 218.9 263.3 220.0 265.7 221.1 268.1 222.1 270.5 223.1 272.9 224.1 275.3 225.0 277.7 225.9 280.1 226.7 282.5 227.6 284.9 228.4 287.3 229.1 289.7 229.9 292.1 230.6 294.5 231.3 296.9 231.9 299.4 232.5 301.8 233.1 304.2 233.7" stroke="url(#fg5)" stroke-width="1.38" fill="none" stroke-linejoin="round" stroke-linecap="round"/><path d="M40.8 307.1 40.9 306.8 41.0 306.4 41.1 305.9 41.2 305.4 41.4 304.9 41.5 304.3 41.6 303.7 41.7 303.0 41.8 302.4 42.0 301.6 42.1 300.9 42.2 300.2 42.3 299.4 42.4 298.6 42.6 297.8 42.7 296.9 42.8 296.0 42.9 295.0 43.0 293.9 43.2 292.8 43.3 291.6 43.4 290.4 43.5 289.2 43.6 287.9 43.8 286.7 43.9 285.5 44.0 284.2 44.1 282.8 44.2 281.4 44.4 280.0 44.5 278.6 44.6 277.3 44.7 276.0 44.8 274.8 45.0 273.5 45.1 272.2 45.2 271.0 45.3 269.8 45.4 268.8 45.6 267.8 45.7 267.0 45.8 266.3 45.9 265.6 46.1 264.9 46.2 264.2 46.3 263.6 46.4 263.0 46.5 262.4 46.7 261.8 46.8 261.3 46.9 260.8 47.0 260.4 47.1 259.9 47.3 259.5 47.4 259.2 47.5 258.8 47.6 258.5 47.7 258.1 47.9 257.8 48.0 257.5 48.1 257.1 48.2 256.8 48.3 256.5 48.5 256.3 48.6 256.0 48.7 255.7 48.8 255.5 48.9 255.2 49.1 255.0 49.2 254.7 49.3 254.5 49.4 254.3 49.5 254.1 49.7 253.9 49.8 253.7 49.9 253.5 50.0 253.3 50.1 253.1 50.3 253.0 50.4 252.8 50.5 252.7 50.6 252.5 50.7 252.4 50.9 252.2 51.0 252.1 51.1 252.0 51.2 251.8 51.3 251.7 51.5 251.6 51.6 251.4 51.7 251.3 51.8 251.2 51.9 251.1 52.1 250.9 52.2 250.8 52.3 250.7 52.4 250.6 52.5 250.5 52.7 250.4 52.8 250.3 53.4 249.8 54.0 249.4 54.6 249.1 55.2 248.9 55.8 248.7 56.4 248.4 57.0 248.3 57.6 248.1 58.2 248.0 58.8 247.9 59.4 247.9 60.0 247.8 60.6 247.8 61.2 247.8 61.8 247.8 62.4 247.8 63.0 247.9 63.6 247.9 64.2 248.0 64.8 248.0 65.4 248.1 66.0 248.2 66.6 248.3 67.2 248.4 67.8 248.5 68.4 248.6 69.0 248.7 69.6 248.9 70.2 249.0 70.8 249.1 71.4 249.3 72.0 249.4 72.6 249.6 73.2 249.7 73.8 249.9 74.4 250.0 75.0 250.1 75.6 250.3 76.2 250.4 76.8 250.6 80.5 251.4 84.1 252.2 87.7 253.0 91.3 253.8 94.9 254.6 98.5 255.4 102.1 256.2 105.7 256.9 109.3 257.7 112.9 258.4 116.5 259.1 120.1 259.8 123.8 260.5 127.4 261.1 131.0 261.8 134.6 262.4 138.2 263.1 141.8 263.7 145.4 264.3 149.0 264.8 152.6 265.4 156.2 266.0 159.8 266.5 163.4 267.0 167.1 267.5 170.7 268.0 174.3 268.5 177.9 268.9 181.5 269.4 185.1 269.8 188.7 270.3 192.3 270.7 195.9 271.1 199.5 271.4 203.1 271.8 206.7 272.2 210.4 272.5 214.0 272.9 217.6 273.2 217.6 273.9 217.7 274.4 217.7 274.7 217.8 274.9 217.9 275.0 217.9 275.0 218.0 274.9 218.0 274.7 218.1 274.4 218.2 274.1 218.2 273.7 218.3 273.3 218.3 272.8 218.4 272.2 218.5 271.6 218.5 270.9 218.6 270.1 218.6 269.4 218.7 268.5 218.8 267.6 218.8 266.7 218.9 265.7 218.9 264.8 219.0 263.8 219.1 262.7 219.1 261.8 219.2 260.9 219.3 260.0 219.3 259.1 219.4 258.2 219.4 257.3 219.5 256.3 219.6 255.4 219.6 254.5 219.7 253.6 219.7 252.7 219.8 251.8 219.9 250.9 219.9 250.0 220.0 249.1 220.0 248.2 220.1 247.4 220.2 246.5 220.2 245.7 220.3 244.8 220.3 244.0 220.4 243.1 220.5 242.3 220.5 241.4 220.6 240.5 220.6 239.6 220.7 238.7 220.8 237.7 220.8 236.8 220.9 235.7 220.9 234.7 221.0 233.7 221.1 232.6 221.1 231.6 221.2 230.5 221.2 229.5 221.3 228.5 221.4 227.5 221.4 226.6 221.5 225.7 221.5 224.8 221.6 223.9 221.7 222.9 221.7 222.0 221.8 221.1 221.8 220.2 221.9 219.4 222.0 218.6 222.0 217.9 222.1 217.2 222.1 216.6 222.2 216.1 222.3 215.6 222.3 215.2 222.4 214.8 222.4 214.4 222.5 214.0 222.6 213.7 222.6 213.3 222.7 213.0 222.7 212.7 222.8 212.4 222.9 212.1 222.9 211.9 223.0 211.6 223.0 211.3 223.1 211.1 223.2 210.9 223.2 210.7 223.3 210.5 223.3 210.3 223.4 210.1 223.5 209.9 223.5 209.7 223.6 209.5 223.6 209.4 223.7 209.2 223.8 209.0 223.8 208.9 223.9 208.8 223.9 208.6 224.0 208.5 224.1 208.3 224.1 208.2 224.2 208.1 224.2 208.0 224.3 207.9 224.4 207.8 224.4 207.7 224.5 207.6 224.5 207.5 224.6 207.4 224.7 207.3 224.7 207.3 224.8 207.2 225.1 206.8 225.4 206.5 225.7 206.2 226.0 205.9 226.3 205.7 226.6 205.5 226.9 205.4 227.2 205.3 227.5 205.2 227.8 205.0 228.1 204.9 228.4 204.8 228.7 204.8 229.0 204.7 229.3 204.7 229.6 204.6 229.9 204.6 230.2 204.6 230.5 204.6 230.8 204.7 231.1 204.7 231.4 204.7 231.7 204.8 232.0 204.8 232.3 204.9 232.6 205.0 232.9 205.0 233.2 205.1 233.5 205.2 233.8 205.3 234.1 205.4 234.4 205.5 236.8 206.7 239.2 208.1 241.6 209.4 244.0 210.7 246.4 212.0 248.8 213.2 251.2 214.5 253.7 215.7 256.1 216.8 258.5 218.0 260.9 219.1 263.3 220.2 265.7 221.2 268.1 222.2 270.5 223.2 272.9 224.2 275.3 225.1 277.7 226.0 280.1 226.8 282.5 227.7 284.9 228.4 287.3 229.2 289.7 229.9 292.1 230.6 294.5 231.3 296.9 231.9 299.4 232.6 301.8 233.2 304.2 233.7 306.6 234.3 309.0 234.8 311.4 235.3 313.8 235.8 316.2 236.3 318.6 236.7 321.0 237.1 323.4 237.6 325.8 238.0 328.2 238.4 330.6 238.8 333.0 239.1 335.4 239.5 337.8 239.8 340.2 240.2 342.7 240.5 345.1 240.9 347.5 241.2 349.9 241.5 352.3 241.8 354.7 242.1 357.1 242.4 359.5 242.7 361.9 243.0 364.3 243.3 366.7 243.5 369.1 243.8 371.5 244.1 373.9 244.3 376.3 244.6 378.7 244.9 381.1 245.1 383.6 245.4 386.0 245.6 388.4 245.9 390.8 246.1 393.2 246.4 395.6 246.6 398.0 246.8 400.4 247.1 402.8 247.3 405.2 247.5 407.6 247.8 410.0 248.0 412.4 248.2 414.8 248.4 417.2 248.7 419.6 248.9 422.0 249.1 424.4 249.3 426.8 249.5 429.3 249.7 431.7 249.9 434.1 250.1 436.5 250.3 438.9 250.6 441.3 250.8 443.7 251.0 446.1 251.1 448.5 251.3 450.9 251.5 453.3 251.7 455.7 251.9 458.1 252.1 460.5 252.3 462.9 252.5 465.3 252.7 467.7 252.8 470.1 253.0 472.6 253.2 475.0 253.4 477.4 253.5 479.8 253.7 482.2 253.9 484.6 254.1 487.0 254.2 489.4 254.4 491.8 254.6 494.2 254.7 496.6 254.9 499.0 255.0 501.4 255.2 503.8 255.4 506.2 255.5 508.6 255.7 511.0 255.8 513.5 256.0 515.9 256.1 518.3 256.3 520.7 256.4 523.1 256.6 525.5 256.7 527.9 256.9 530.3 257.0 532.7 257.1 535.1 257.3 537.5 257.4 539.9 257.5 542.3 257.7 544.7 257.8 547.1 258.0 549.5 258.1 551.9 258.2 554.3 258.3 556.8 258.5 559.2 258.6 561.6 258.7 564.0 258.9 566.4 259.0 568.8 259.1 571.2 259.2 573.6 259.3 576.0 259.5 578.4 259.6" stroke="#4C72B0" stroke-width="1.38" fill="none" stroke-linejoin="round" stroke-linecap="round"/></g>
<path d="M37.15 277.98H578.40" stroke="#7a7a7a" stroke-width="1.25" stroke-dasharray="4.5 1.5" stroke-dashoffset="0" fill="none"/>
<text x="270.30" y="176.83" font-weight="bold" fill="#3a3a3a" font-size="15" textLength="23.70" lengthAdjust="spacingAndGlyphs">(B)</text>
<text x="300.80" y="176.83" font-weight="bold" fill="#3a3a3a" font-size="15" textLength="44.40" lengthAdjust="spacingAndGlyphs">MF59</text>
<text transform="translate(13.8 249.23) rotate(-90)" class="lab" text-anchor="middle" font-size="20.5" textLength="63" lengthAdjust="spacingAndGlyphs">Ab titer</text>
<text x="32.60" y="298.71" text-anchor="end" font-size="8.2" textLength="3.6" lengthAdjust="spacingAndGlyphs">1</text>
<text x="28.70" y="302.21" text-anchor="end" font-size="11">2</text>
<text x="32.60" y="272.31" text-anchor="end" font-size="8.2" textLength="3.6" lengthAdjust="spacingAndGlyphs">4</text>
<text x="28.70" y="275.81" text-anchor="end" font-size="11">2</text>
<text x="32.60" y="245.91" text-anchor="end" font-size="8.2" textLength="3.6" lengthAdjust="spacingAndGlyphs">7</text>
<text x="28.70" y="249.41" text-anchor="end" font-size="11">2</text>
<text x="32.60" y="219.51" text-anchor="end" font-size="8.2" textLength="6.9" lengthAdjust="spacingAndGlyphs">10</text>
<text x="25.40" y="223.01" text-anchor="end" font-size="11">2</text>
<text x="32.60" y="193.11" text-anchor="end" font-size="8.2" textLength="6.9" lengthAdjust="spacingAndGlyphs">13</text>
<text x="25.40" y="196.61" text-anchor="end" font-size="11">2</text>
<rect x="37.15" y="346.26" width="541.25" height="137.60" fill="#EAEAF2"/>
<path d="M97.29 346.26V483.86M157.43 346.26V483.86M217.57 346.26V483.86M277.71 346.26V483.86M337.84 346.26V483.86M397.98 346.26V483.86M458.12 346.26V483.86M518.26 346.26V483.86M37.15 463.74H578.40M37.15 437.34H578.40M37.15 410.94H578.40M37.15 384.54H578.40M37.15 358.14H578.40" stroke="#fff" stroke-width="1.0" fill="none"/>
<clipPath id="c2"><rect x="37.15" y="346.26" width="541.25" height="137.60"/></clipPath>
<g clip-path="url(#c2)"><path d="M192.3 472.5 192.4 470.6 192.5 468.7 192.7 466.8 192.8 465.1 192.9 463.4 193.0 461.9 193.2 460.4 193.3 459.0 193.4 457.7 193.5 456.4 193.6 455.1 193.8 453.8 193.9 452.6 194.0 451.4 194.1 450.2 194.2 449.0 194.4 447.9 194.5 446.8 194.6 445.6 194.7 444.5 194.8 443.3 195.0 442.1 195.1 440.9 195.2 439.7 195.3 438.4 195.4 437.2 195.6 435.9 195.7 434.8 195.8 433.6 195.9 432.5 196.0 431.5 196.2 430.6 196.3 429.6 196.4 428.7 196.5 427.8 196.6 427.0 196.8 426.1 196.9 425.3 197.0 424.5 197.1 423.7 197.2 422.9 197.4 422.2 197.5 421.5 197.6 420.8 197.7 420.1 197.8 419.5 198.0 418.9 198.1 418.3 198.2 417.7 198.3 417.1 198.4 416.5 198.6 415.9 198.7 415.4 198.8 414.8 198.9 414.3 199.0 413.8 199.2 413.3 199.3 412.8 199.4 412.3 199.5 411.8 199.6 411.4 199.8 411.0 199.9 410.5 200.0 410.2 200.1 409.8 200.2 409.4 200.4 409.1 200.5 408.8 200.6 408.5 200.7 408.3 200.8 408.0 201.0 407.7 201.1 407.5 201.2 407.2 201.3 406.9 201.4 406.7 201.6 406.4 201.7 406.2 201.8 406.0 201.9 405.7 202.1 405.5 202.2 405.3 202.3 405.1 202.4 404.9 202.5 404.7 202.7 404.5 202.8 404.3 202.9 404.1 203.0 403.9 203.1 403.7 203.3 403.6 203.4 403.4 203.5 403.2 203.6 403.1 203.7 402.9 203.9 402.8 204.0 402.7 204.1 402.5 204.2 402.4 204.3 402.3 204.9 401.8 205.5 401.3 206.1 400.9 206.7 400.5 207.3 400.2 207.9 399.9 208.5 399.6 209.1 399.4 209.7 399.3 210.4 399.2 211.0 399.2 211.6 399.2 212.2 399.2 212.8 399.2 213.4 399.2 214.0 399.2 214.6 399.2 215.2 399.2 215.8 399.2 216.4 399.2 217.0 399.2 217.6 399.3 217.6 399.9 217.7 400.4 217.7 400.7 217.8 401.0 217.9 401.1 217.9 401.1 218.0 401.1 218.0 401.0 218.1 401.0 218.2 400.9 218.2 400.8 218.3 400.7 218.3 400.6 218.4 400.5 218.5 400.4 218.5 400.3 218.6 400.2 218.6 400.1 218.7 400.0 218.8 399.8 218.8 399.7 218.9 399.6 218.9 399.5 219.0 399.3 219.1 399.1 219.1 399.0 219.2 398.8 219.3 398.7 219.3 398.5 219.4 398.2 219.4 398.0 219.5 397.7 219.6 397.4 219.6 397.1 219.7 396.7 219.7 396.3 219.8 395.8 219.9 395.3 219.9 394.8 220.0 394.2 220.0 393.6 220.1 392.9 220.2 392.2 220.2 391.5 220.3 390.7 220.3 389.9 220.4 389.1 220.5 388.3 220.5 387.4 220.6 386.5 220.6 385.7 220.7 384.8 220.8 383.9 220.8 383.1 220.9 382.2 220.9 381.4 221.0 380.5 221.1 379.7 221.1 378.8 221.2 377.9 221.2 377.1 221.3 376.2 221.4 375.4 221.4 374.6 221.5 373.8 221.5 373.0 221.6 372.3 221.7 371.5 221.7 370.8 221.8 370.1 221.8 369.4 221.9 368.7 222.0 368.0 222.0 367.3 222.1 366.6 222.1 365.9 222.2 365.3 222.3 364.6 222.3 364.0 222.4 363.5 222.4 363.0 222.5 362.5 222.6 362.0 222.6 361.6 222.7 361.2 222.7 360.9 222.8 360.5 222.9 360.2 222.9 359.9 223.0 359.5 223.0 359.2 223.1 358.9 223.2 358.6 223.2 358.4 223.3 358.1 223.3 357.9 223.4 357.6 223.5 357.4 223.5 357.2 223.6 357.0 223.6 356.8 223.7 356.7 223.8 356.5 223.8 356.4 223.9 356.2 223.9 356.1 224.0 356.0 224.1 355.8 224.1 355.7 224.2 355.6 224.2 355.5 224.3 355.4 224.4 355.3 224.4 355.2 224.5 355.1 224.5 355.0 224.6 354.9 224.7 354.8 224.7 354.7 224.8 354.6 225.1 354.3 225.4 354.0 225.7 353.7 226.0 353.5 226.3 353.3 226.6 353.1 226.9 353.0 227.2 352.9 227.5 352.8 227.8 352.8 228.1 352.7 228.4 352.7 228.7 352.6 229.0 352.6 229.3 352.6 229.6 352.6 229.9 352.5 230.2 352.5 230.5 352.6 230.8 352.6 231.1 352.7 231.4 352.7 231.7 352.8 232.0 353.0 232.3 353.1 232.6 353.2 232.9 353.4 233.2 353.6 233.5 353.7 233.8 353.9 234.1 354.0 234.4 354.2 236.8 355.4 239.2 356.8 241.6 358.3 244.0 359.7 246.4 361.1 248.8 362.4 251.2 363.8 253.7 365.1 256.1 366.4 258.5 367.7 260.9 368.9 263.3 370.1 265.7 371.2 268.1 372.4 270.5 373.5 272.9 374.5 275.3 375.5 277.7 376.5 280.1 377.4 282.5 378.3 284.9 379.2 287.3 380.0 289.7 380.8 292.1 381.6 294.5 382.3 296.9 383.0 299.4 383.6 301.8 384.3 304.2 384.9" stroke="url(#fg0)" stroke-width="1.38" fill="none" stroke-linejoin="round" stroke-linecap="round"/><path d="M167.1 472.5 167.2 470.6 167.3 468.7 167.4 466.8 167.5 465.1 167.7 463.4 167.8 461.9 167.9 460.4 168.0 459.0 168.1 457.7 168.3 456.4 168.4 455.1 168.5 453.8 168.6 452.6 168.7 451.4 168.9 450.2 169.0 449.0 169.1 447.9 169.2 446.8 169.3 445.6 169.5 444.5 169.6 443.3 169.7 442.1 169.8 440.9 169.9 439.7 170.1 438.4 170.2 437.2 170.3 435.9 170.4 434.8 170.5 433.6 170.7 432.5 170.8 431.5 170.9 430.6 171.0 429.6 171.1 428.7 171.3 427.8 171.4 427.0 171.5 426.1 171.6 425.3 171.7 424.5 171.9 423.7 172.0 422.9 172.1 422.2 172.2 421.5 172.3 420.8 172.5 420.1 172.6 419.5 172.7 418.9 172.8 418.3 172.9 417.7 173.1 417.1 173.2 416.5 173.3 415.9 173.4 415.4 173.5 414.8 173.7 414.3 173.8 413.8 173.9 413.3 174.0 412.8 174.1 412.3 174.3 411.8 174.4 411.4 174.5 411.0 174.6 410.5 174.7 410.2 174.9 409.8 175.0 409.4 175.1 409.1 175.2 408.8 175.3 408.5 175.5 408.3 175.6 408.0 175.7 407.7 175.8 407.5 176.0 407.2 176.1 406.9 176.2 406.7 176.3 406.4 176.4 406.2 176.6 406.0 176.7 405.7 176.8 405.5 176.9 405.3 177.0 405.1 177.2 404.9 177.3 404.7 177.4 404.5 177.5 404.3 177.6 404.1 177.8 403.9 177.9 403.7 178.0 403.6 178.1 403.4 178.2 403.2 178.4 403.1 178.5 402.9 178.6 402.8 178.7 402.7 178.8 402.5 179.0 402.4 179.1 402.3 179.7 401.8 180.3 401.3 180.9 400.9 181.5 400.5 182.1 400.2 182.7 399.9 183.3 399.6 183.9 399.4 184.5 399.3 185.1 399.2 185.7 399.2 186.3 399.2 186.9 399.2 187.5 399.2 188.1 399.2 188.7 399.2 189.3 399.2 189.9 399.2 190.5 399.2 191.1 399.2 191.7 399.2 192.3 399.3 192.9 399.3 193.5 399.4 194.1 399.5 194.7 399.5 195.3 399.7 195.9 399.8 196.5 399.9 197.1 400.1 197.7 400.2 198.3 400.4 198.9 400.5 199.5 400.7 200.1 400.8 200.7 400.9 201.3 401.1 201.9 401.2 202.5 401.4 203.1 401.5 206.7 402.3 210.4 403.2 214.0 404.0 217.6 404.8 217.6 405.4 217.7 405.9 217.7 406.2 217.8 406.5 217.9 406.6 217.9 406.6 218.0 406.6 218.0 406.5 218.1 406.5 218.2 406.4 218.2 406.2 218.3 406.1 218.3 406.0 218.4 405.9 218.5 405.7 218.5 405.6 218.6 405.5 218.6 405.3 218.7 405.1 218.8 404.9 218.8 404.7 218.9 404.4 218.9 404.1 219.0 403.8 219.1 403.4 219.1 403.1 219.2 402.8 219.3 402.4 219.3 402.0 219.4 401.6 219.4 401.2 219.5 400.7 219.6 400.2 219.6 399.7 219.7 399.1 219.7 398.5 219.8 397.8 219.9 397.2 219.9 396.5 220.0 395.8 220.0 395.0 220.1 394.3 220.2 393.5 220.2 392.6 220.3 391.8 220.3 390.9 220.4 390.0 220.5 389.2 220.5 388.3 220.6 387.4 220.6 386.5 220.7 385.6 220.8 384.7 220.8 383.9 220.9 383.0 220.9 382.1 221.0 381.3 221.1 380.4 221.1 379.5 221.2 378.7 221.2 377.8 221.3 377.0 221.4 376.1 221.4 375.3 221.5 374.5 221.5 373.7 221.6 373.0 221.7 372.3 221.7 371.5 221.8 370.8 221.8 370.1 221.9 369.4 222.0 368.7 222.0 368.0 222.1 367.3 222.1 366.6 222.2 366.0 222.3 365.4 222.3 364.8 222.4 364.2 222.4 363.7 222.5 363.2 222.6 362.7 222.6 362.3 222.7 361.9 222.7 361.6 222.8 361.2 222.9 360.9 222.9 360.6 223.0 360.2 223.0 359.9 223.1 359.6 223.2 359.4 223.2 359.1 223.3 358.8 223.3 358.6 223.4 358.3 223.5 358.1 223.5 357.9 223.6 357.7 223.6 357.5 223.7 357.4 223.8 357.2 223.8 357.1 223.9 356.9 223.9 356.8 224.0 356.7 224.1 356.5 224.1 356.4 224.2 356.3 224.2 356.2 224.3 356.1 224.4 356.0 224.4 355.9 224.5 355.8 224.5 355.7 224.6 355.6 224.7 355.5 224.7 355.4 224.8 355.3 225.1 355.0 225.4 354.7 225.7 354.4 226.0 354.2 226.3 354.0 226.6 353.8 226.9 353.7 227.2 353.6 227.5 353.5 227.8 353.5 228.1 353.4 228.4 353.4 228.7 353.3 229.0 353.3 229.3 353.3 229.6 353.2 229.9 353.2 230.2 353.2 230.5 353.2 230.8 353.3 231.1 353.3 231.4 353.4 231.7 353.5 232.0 353.6 232.3 353.8 232.6 353.9 232.9 354.1 233.2 354.2 233.5 354.4 233.8 354.5 234.1 354.7 234.4 354.9 236.8 356.1 239.2 357.5 241.6 358.9 244.0 360.3 246.4 361.6 248.8 363.0 251.2 364.3 253.7 365.6 256.1 366.8 258.5 368.1 260.9 369.3 263.3 370.4 265.7 371.6 268.1 372.7 270.5 373.7 272.9 374.8 275.3 375.7 277.7 376.7 280.1 377.6 282.5 378.5 284.9 379.3 287.3 380.2 289.7 380.9 292.1 381.7 294.5 382.4 296.9 383.1 299.4 383.7 301.8 384.3 304.2 384.9" stroke="url(#fg1)" stroke-width="1.38" fill="none" stroke-linejoin="round" stroke-linecap="round"/><path d="M141.8 472.5 141.9 470.6 142.0 468.7 142.2 466.8 142.3 465.1 142.4 463.4 142.5 461.9 142.6 460.4 142.8 459.0 142.9 457.7 143.0 456.4 143.1 455.1 143.2 453.8 143.4 452.6 143.5 451.4 143.6 450.2 143.7 449.0 143.8 447.9 144.0 446.8 144.1 445.6 144.2 444.5 144.3 443.3 144.4 442.1 144.6 440.9 144.7 439.7 144.8 438.4 144.9 437.2 145.0 435.9 145.2 434.8 145.3 433.6 145.4 432.5 145.5 431.5 145.6 430.6 145.8 429.6 145.9 428.7 146.0 427.8 146.1 427.0 146.2 426.1 146.4 425.3 146.5 424.5 146.6 423.7 146.7 422.9 146.8 422.2 147.0 421.5 147.1 420.8 147.2 420.1 147.3 419.5 147.4 418.9 147.6 418.3 147.7 417.7 147.8 417.1 147.9 416.5 148.0 415.9 148.2 415.4 148.3 414.8 148.4 414.3 148.5 413.8 148.6 413.3 148.8 412.8 148.9 412.3 149.0 411.8 149.1 411.4 149.2 411.0 149.4 410.5 149.5 410.2 149.6 409.8 149.7 409.4 149.9 409.1 150.0 408.8 150.1 408.5 150.2 408.3 150.3 408.0 150.5 407.7 150.6 407.5 150.7 407.2 150.8 406.9 150.9 406.7 151.1 406.4 151.2 406.2 151.3 406.0 151.4 405.7 151.5 405.5 151.7 405.3 151.8 405.1 151.9 404.9 152.0 404.7 152.1 404.5 152.3 404.3 152.4 404.1 152.5 403.9 152.6 403.7 152.7 403.6 152.9 403.4 153.0 403.2 153.1 403.1 153.2 402.9 153.3 402.8 153.5 402.7 153.6 402.5 153.7 402.4 153.8 402.3 154.4 401.8 155.0 401.3 155.6 400.9 156.2 400.5 156.8 400.2 157.4 399.9 158.0 399.6 158.6 399.4 159.2 399.3 159.8 399.2 160.4 399.2 161.0 399.2 161.6 399.2 162.2 399.2 162.8 399.2 163.4 399.2 164.0 399.2 164.6 399.2 165.2 399.2 165.8 399.2 166.4 399.2 167.1 399.3 167.7 399.3 168.3 399.4 168.9 399.5 169.5 399.5 170.1 399.7 170.7 399.8 171.3 399.9 171.9 400.1 172.5 400.2 173.1 400.4 173.7 400.5 174.3 400.7 174.9 400.8 175.5 400.9 176.1 401.1 176.7 401.2 177.3 401.4 177.9 401.5 181.5 402.3 185.1 403.2 188.7 404.0 192.3 404.8 195.9 405.6 199.5 406.3 203.1 407.1 206.7 407.9 210.4 408.6 214.0 409.3 217.6 410.0 217.6 410.7 217.7 411.2 217.7 411.5 217.8 411.7 217.9 411.8 217.9 411.9 218.0 411.8 218.0 411.8 218.1 411.7 218.2 411.6 218.2 411.4 218.3 411.3 218.3 411.1 218.4 410.9 218.5 410.7 218.5 410.4 218.6 410.2 218.6 409.9 218.7 409.5 218.8 409.2 218.8 408.7 218.9 408.2 218.9 407.7 219.0 407.0 219.1 406.3 219.1 405.8 219.2 405.3 219.3 404.8 219.3 404.3 219.4 403.7 219.4 403.1 219.5 402.5 219.6 401.8 219.6 401.1 219.7 400.5 219.7 399.7 219.8 399.0 219.9 398.3 219.9 397.5 220.0 396.7 220.0 396.0 220.1 395.2 220.2 394.3 220.2 393.5 220.3 392.6 220.3 391.7 220.4 390.8 220.5 389.9 220.5 389.0 220.6 388.1 220.6 387.2 220.7 386.3 220.8 385.4 220.8 384.5 220.9 383.7 220.9 382.8 221.0 382.0 221.1 381.1 221.1 380.2 221.2 379.4 221.2 378.5 221.3 377.7 221.4 376.8 221.4 376.0 221.5 375.2 221.5 374.4 221.6 373.7 221.7 372.9 221.7 372.2 221.8 371.5 221.8 370.8 221.9 370.1 222.0 369.4 222.0 368.7 222.1 368.0 222.1 367.3 222.2 366.7 222.3 366.0 222.3 365.4 222.4 364.9 222.4 364.3 222.5 363.9 222.6 363.4 222.6 363.0 222.7 362.6 222.7 362.3 222.8 361.9 222.9 361.6 222.9 361.2 223.0 360.9 223.0 360.6 223.1 360.3 223.2 360.0 223.2 359.8 223.3 359.5 223.3 359.3 223.4 359.0 223.5 358.8 223.5 358.6 223.6 358.4 223.6 358.2 223.7 358.1 223.8 357.9 223.8 357.8 223.9 357.6 223.9 357.5 224.0 357.3 224.1 357.2 224.1 357.1 224.2 357.0 224.2 356.9 224.3 356.7 224.4 356.6 224.4 356.5 224.5 356.4 224.5 356.3 224.6 356.3 224.7 356.2 224.7 356.1 224.8 356.0 225.1 355.6 225.4 355.4 225.7 355.1 226.0 354.9 226.3 354.7 226.6 354.5 226.9 354.3 227.2 354.2 227.5 354.2 227.8 354.1 228.1 354.1 228.4 354.0 228.7 354.0 229.0 353.9 229.3 353.9 229.6 353.9 229.9 353.9 230.2 353.9 230.5 353.9 230.8 353.9 231.1 354.0 231.4 354.1 231.7 354.2 232.0 354.3 232.3 354.4 232.6 354.5 232.9 354.7 233.2 354.8 233.5 355.0 233.8 355.2 234.1 355.3 234.4 355.5 236.8 356.7 239.2 358.0 241.6 359.4 244.0 360.8 246.4 362.1 248.8 363.5 251.2 364.7 253.7 366.0 256.1 367.2 258.5 368.5 260.9 369.6 263.3 370.8 265.7 371.9 268.1 373.0 270.5 374.0 272.9 375.0 275.3 376.0 277.7 376.9 280.1 377.8 282.5 378.7 284.9 379.5 287.3 380.3 289.7 381.0 292.1 381.8 294.5 382.5 296.9 383.1 299.4 383.8 301.8 384.4 304.2 385.0" stroke="url(#fg2)" stroke-width="1.38" fill="none" stroke-linejoin="round" stroke-linecap="round"/><path d="M116.5 472.5 116.7 470.6 116.8 468.7 116.9 466.8 117.0 465.1 117.1 463.4 117.3 461.9 117.4 460.4 117.5 459.0 117.6 457.7 117.7 456.4 117.9 455.1 118.0 453.8 118.1 452.6 118.2 451.4 118.3 450.2 118.5 449.0 118.6 447.9 118.7 446.8 118.8 445.6 118.9 444.5 119.1 443.3 119.2 442.1 119.3 440.9 119.4 439.7 119.5 438.4 119.7 437.2 119.8 435.9 119.9 434.8 120.0 433.6 120.1 432.5 120.3 431.5 120.4 430.6 120.5 429.6 120.6 428.7 120.7 427.8 120.9 427.0 121.0 426.1 121.1 425.3 121.2 424.5 121.3 423.7 121.5 422.9 121.6 422.2 121.7 421.5 121.8 420.8 121.9 420.1 122.1 419.5 122.2 418.9 122.3 418.3 122.4 417.7 122.5 417.1 122.7 416.5 122.8 415.9 122.9 415.4 123.0 414.8 123.1 414.3 123.3 413.8 123.4 413.3 123.5 412.8 123.6 412.3 123.8 411.8 123.9 411.4 124.0 411.0 124.1 410.5 124.2 410.2 124.4 409.8 124.5 409.4 124.6 409.1 124.7 408.8 124.8 408.5 125.0 408.3 125.1 408.0 125.2 407.7 125.3 407.5 125.4 407.2 125.6 406.9 125.7 406.7 125.8 406.4 125.9 406.2 126.0 406.0 126.2 405.7 126.3 405.5 126.4 405.3 126.5 405.1 126.6 404.9 126.8 404.7 126.9 404.5 127.0 404.3 127.1 404.1 127.2 403.9 127.4 403.7 127.5 403.6 127.6 403.4 127.7 403.2 127.8 403.1 128.0 402.9 128.1 402.8 128.2 402.7 128.3 402.5 128.4 402.4 128.6 402.3 129.2 401.8 129.8 401.3 130.4 400.9 131.0 400.5 131.6 400.2 132.2 399.9 132.8 399.6 133.4 399.4 134.0 399.3 134.6 399.2 135.2 399.2 135.8 399.2 136.4 399.2 137.0 399.2 137.6 399.2 138.2 399.2 138.8 399.2 139.4 399.2 140.0 399.2 140.6 399.2 141.2 399.2 141.8 399.3 142.4 399.3 143.0 399.4 143.6 399.5 144.2 399.5 144.8 399.7 145.4 399.8 146.0 399.9 146.6 400.1 147.2 400.2 147.8 400.4 148.4 400.5 149.0 400.7 149.6 400.8 150.2 400.9 150.8 401.1 151.4 401.2 152.0 401.4 152.6 401.5 156.2 402.3 159.8 403.2 163.4 404.0 167.1 404.8 170.7 405.6 174.3 406.3 177.9 407.1 181.5 407.9 185.1 408.6 188.7 409.3 192.3 410.0 195.9 410.7 199.5 411.4 203.1 412.1 206.7 412.7 210.4 413.4 214.0 414.0 217.6 414.6 217.6 415.3 217.7 415.8 217.7 416.1 217.8 416.3 217.9 416.4 217.9 416.4 218.0 416.4 218.0 416.3 218.1 416.2 218.2 416.0 218.2 415.8 218.3 415.5 218.3 415.2 218.4 414.9 218.5 414.6 218.5 414.2 218.6 413.7 218.6 413.2 218.7 412.6 218.8 412.0 218.8 411.3 218.9 410.5 218.9 409.7 219.0 408.9 219.1 408.0 219.1 407.3 219.2 406.7 219.3 406.1 219.3 405.5 219.4 404.8 219.4 404.2 219.5 403.5 219.6 402.8 219.6 402.0 219.7 401.3 219.7 400.5 219.8 399.8 219.9 399.0 219.9 398.2 220.0 397.4 220.0 396.6 220.1 395.8 220.2 395.0 220.2 394.1 220.3 393.2 220.3 392.3 220.4 391.4 220.5 390.5 220.5 389.6 220.6 388.7 220.6 387.8 220.7 386.9 220.8 386.0 220.8 385.1 220.9 384.3 220.9 383.4 221.0 382.6 221.1 381.7 221.1 380.8 221.2 379.9 221.2 379.1 221.3 378.2 221.4 377.4 221.4 376.6 221.5 375.8 221.5 375.0 221.6 374.3 221.7 373.5 221.7 372.8 221.8 372.1 221.8 371.4 221.9 370.7 222.0 370.0 222.0 369.3 222.1 368.6 222.1 367.9 222.2 367.2 222.3 366.6 222.3 366.0 222.4 365.5 222.4 364.9 222.5 364.4 222.6 364.0 222.6 363.6 222.7 363.2 222.7 362.9 222.8 362.5 222.9 362.2 222.9 361.8 223.0 361.5 223.0 361.2 223.1 360.9 223.2 360.6 223.2 360.4 223.3 360.1 223.3 359.8 223.4 359.6 223.5 359.4 223.5 359.2 223.6 359.0 223.6 358.8 223.7 358.6 223.8 358.5 223.8 358.3 223.9 358.2 223.9 358.1 224.0 357.9 224.1 357.8 224.1 357.7 224.2 357.6 224.2 357.4 224.3 357.3 224.4 357.2 224.4 357.1 224.5 357.0 224.5 356.9 224.6 356.8 224.7 356.8 224.7 356.7 224.8 356.6 225.1 356.2 225.4 355.9 225.7 355.7 226.0 355.4 226.3 355.2 226.6 355.1 226.9 354.9 227.2 354.8 227.5 354.7 227.8 354.7 228.1 354.6 228.4 354.6 228.7 354.5 229.0 354.5 229.3 354.5 229.6 354.5 229.9 354.4 230.2 354.4 230.5 354.4 230.8 354.5 231.1 354.5 231.4 354.6 231.7 354.7 232.0 354.8 232.3 354.9 232.6 355.1 232.9 355.2 233.2 355.4 233.5 355.6 233.8 355.7 234.1 355.9 234.4 356.0 236.8 357.2 239.2 358.5 241.6 359.9 244.0 361.3 246.4 362.6 248.8 363.9 251.2 365.1 253.7 366.4 256.1 367.6 258.5 368.8 260.9 369.9 263.3 371.1 265.7 372.2 268.1 373.2 270.5 374.2 272.9 375.2 275.3 376.2 277.7 377.1 280.1 378.0 282.5 378.8 284.9 379.6 287.3 380.4 289.7 381.1 292.1 381.9 294.5 382.5 296.9 383.2 299.4 383.8 301.8 384.4 304.2 385.0" stroke="url(#fg3)" stroke-width="1.38" fill="none" stroke-linejoin="round" stroke-linecap="round"/><path d="M91.3 472.5 91.4 470.6 91.5 468.7 91.6 466.8 91.8 465.1 91.9 463.4 92.0 461.9 92.1 460.4 92.2 459.0 92.4 457.7 92.5 456.4 92.6 455.1 92.7 453.8 92.8 452.6 93.0 451.4 93.1 450.2 93.2 449.0 93.3 447.9 93.4 446.8 93.6 445.6 93.7 444.5 93.8 443.3 93.9 442.1 94.0 440.9 94.2 439.7 94.3 438.4 94.4 437.2 94.5 435.9 94.6 434.8 94.8 433.6 94.9 432.5 95.0 431.5 95.1 430.6 95.2 429.6 95.4 428.7 95.5 427.8 95.6 427.0 95.7 426.1 95.8 425.3 96.0 424.5 96.1 423.7 96.2 422.9 96.3 422.2 96.4 421.5 96.6 420.8 96.7 420.1 96.8 419.5 96.9 418.9 97.0 418.3 97.2 417.7 97.3 417.1 97.4 416.5 97.5 415.9 97.6 415.4 97.8 414.8 97.9 414.3 98.0 413.8 98.1 413.3 98.3 412.8 98.4 412.3 98.5 411.8 98.6 411.4 98.7 411.0 98.9 410.5 99.0 410.2 99.1 409.8 99.2 409.4 99.3 409.1 99.5 408.8 99.6 408.5 99.7 408.3 99.8 408.0 99.9 407.7 100.1 407.5 100.2 407.2 100.3 406.9 100.4 406.7 100.5 406.4 100.7 406.2 100.8 406.0 100.9 405.7 101.0 405.5 101.1 405.3 101.3 405.1 101.4 404.9 101.5 404.7 101.6 404.5 101.7 404.3 101.9 404.1 102.0 403.9 102.1 403.7 102.2 403.6 102.3 403.4 102.5 403.2 102.6 403.1 102.7 402.9 102.8 402.8 102.9 402.7 103.1 402.5 103.2 402.4 103.3 402.3 103.9 401.8 104.5 401.3 105.1 400.9 105.7 400.5 106.3 400.2 106.9 399.9 107.5 399.6 108.1 399.4 108.7 399.3 109.3 399.2 109.9 399.2 110.5 399.2 111.1 399.2 111.7 399.2 112.3 399.2 112.9 399.2 113.5 399.2 114.1 399.2 114.7 399.2 115.3 399.2 115.9 399.2 116.5 399.3 117.1 399.3 117.7 399.4 118.3 399.5 118.9 399.5 119.5 399.7 120.1 399.8 120.7 399.9 121.3 400.1 121.9 400.2 122.5 400.4 123.1 400.5 123.8 400.7 124.4 400.8 125.0 400.9 125.6 401.1 126.2 401.2 126.8 401.4 127.4 401.5 131.0 402.3 134.6 403.2 138.2 404.0 141.8 404.8 145.4 405.6 149.0 406.3 152.6 407.1 156.2 407.9 159.8 408.6 163.4 409.3 167.1 410.0 170.7 410.7 174.3 411.4 177.9 412.1 181.5 412.7 185.1 413.4 188.7 414.0 192.3 414.6 195.9 415.2 199.5 415.8 203.1 416.4 206.7 416.9 210.4 417.5 214.0 418.0 217.6 418.5 217.6 419.1 217.7 419.6 217.7 420.0 217.8 420.2 217.9 420.3 217.9 420.3 218.0 420.2 218.0 420.0 218.1 419.8 218.2 419.5 218.2 419.2 218.3 418.8 218.3 418.4 218.4 417.9 218.5 417.3 218.5 416.7 218.6 416.0 218.6 415.3 218.7 414.5 218.8 413.7 218.8 412.8 218.9 411.9 218.9 410.9 219.0 409.9 219.1 408.9 219.1 408.2 219.2 407.6 219.3 406.9 219.3 406.2 219.4 405.5 219.4 404.8 219.5 404.1 219.6 403.4 219.6 402.6 219.7 401.9 219.7 401.1 219.8 400.4 219.9 399.6 219.9 398.8 220.0 398.0 220.0 397.2 220.1 396.3 220.2 395.5 220.2 394.6 220.3 393.7 220.3 392.8 220.4 391.9 220.5 391.0 220.5 390.1 220.6 389.2 220.6 388.3 220.7 387.4 220.8 386.5 220.8 385.7 220.9 384.8 220.9 383.9 221.0 383.1 221.1 382.2 221.1 381.3 221.2 380.4 221.2 379.6 221.3 378.7 221.4 377.9 221.4 377.1 221.5 376.3 221.5 375.5 221.6 374.8 221.7 374.0 221.7 373.3 221.8 372.6 221.8 371.9 221.9 371.2 222.0 370.5 222.0 369.8 222.1 369.1 222.1 368.4 222.2 367.7 222.3 367.1 222.3 366.5 222.4 366.0 222.4 365.4 222.5 364.9 222.6 364.5 222.6 364.1 222.7 363.7 222.7 363.4 222.8 363.0 222.9 362.7 222.9 362.3 223.0 362.0 223.0 361.7 223.1 361.4 223.2 361.1 223.2 360.9 223.3 360.6 223.3 360.3 223.4 360.1 223.5 359.9 223.5 359.7 223.6 359.5 223.6 359.3 223.7 359.1 223.8 359.0 223.8 358.8 223.9 358.7 223.9 358.6 224.0 358.4 224.1 358.3 224.1 358.2 224.2 358.1 224.2 357.9 224.3 357.8 224.4 357.7 224.4 357.6 224.5 357.5 224.5 357.4 224.6 357.3 224.7 357.2 224.7 357.2 224.8 357.1 225.1 356.7 225.4 356.4 225.7 356.2 226.0 355.9 226.3 355.7 226.6 355.5 226.9 355.4 227.2 355.3 227.5 355.2 227.8 355.2 228.1 355.1 228.4 355.1 228.7 355.0 229.0 355.0 229.3 355.0 229.6 354.9 229.9 354.9 230.2 354.9 230.5 354.9 230.8 355.0 231.1 355.0 231.4 355.1 231.7 355.2 232.0 355.3 232.3 355.4 232.6 355.5 232.9 355.7 233.2 355.9 233.5 356.0 233.8 356.2 234.1 356.3 234.4 356.5 236.8 357.6 239.2 359.0 241.6 360.3 244.0 361.7 246.4 363.0 248.8 364.2 251.2 365.5 253.7 366.7 256.1 367.9 258.5 369.1 260.9 370.2 263.3 371.3 265.7 372.4 268.1 373.4 270.5 374.4 272.9 375.4 275.3 376.3 277.7 377.2 280.1 378.1 282.5 378.9 284.9 379.7 287.3 380.5 289.7 381.2 292.1 381.9 294.5 382.6 296.9 383.3 299.4 383.9 301.8 384.5 304.2 385.1" stroke="url(#fg4)" stroke-width="1.38" fill="none" stroke-linejoin="round" stroke-linecap="round"/><path d="M66.0 472.5 66.1 470.6 66.3 468.7 66.4 466.8 66.5 465.1 66.6 463.4 66.7 461.9 66.9 460.4 67.0 459.0 67.1 457.7 67.2 456.4 67.3 455.1 67.5 453.8 67.6 452.6 67.7 451.4 67.8 450.2 67.9 449.0 68.1 447.9 68.2 446.8 68.3 445.6 68.4 444.5 68.5 443.3 68.7 442.1 68.8 440.9 68.9 439.7 69.0 438.4 69.1 437.2 69.3 435.9 69.4 434.8 69.5 433.6 69.6 432.5 69.7 431.5 69.9 430.6 70.0 429.6 70.1 428.7 70.2 427.8 70.3 427.0 70.5 426.1 70.6 425.3 70.7 424.5 70.8 423.7 70.9 422.9 71.1 422.2 71.2 421.5 71.3 420.8 71.4 420.1 71.5 419.5 71.7 418.9 71.8 418.3 71.9 417.7 72.0 417.1 72.2 416.5 72.3 415.9 72.4 415.4 72.5 414.8 72.6 414.3 72.8 413.8 72.9 413.3 73.0 412.8 73.1 412.3 73.2 411.8 73.4 411.4 73.5 411.0 73.6 410.5 73.7 410.2 73.8 409.8 74.0 409.4 74.1 409.1 74.2 408.8 74.3 408.5 74.4 408.3 74.6 408.0 74.7 407.7 74.8 407.5 74.9 407.2 75.0 406.9 75.2 406.7 75.3 406.4 75.4 406.2 75.5 406.0 75.6 405.7 75.8 405.5 75.9 405.3 76.0 405.1 76.1 404.9 76.2 404.7 76.4 404.5 76.5 404.3 76.6 404.1 76.7 403.9 76.8 403.7 77.0 403.6 77.1 403.4 77.2 403.2 77.3 403.1 77.4 402.9 77.6 402.8 77.7 402.7 77.8 402.5 77.9 402.4 78.0 402.3 78.6 401.8 79.2 401.3 79.8 400.9 80.5 400.5 81.1 400.2 81.7 399.9 82.3 399.6 82.9 399.4 83.5 399.3 84.1 399.2 84.7 399.2 85.3 399.2 85.9 399.2 86.5 399.2 87.1 399.2 87.7 399.2 88.3 399.2 88.9 399.2 89.5 399.2 90.1 399.2 90.7 399.2 91.3 399.3 91.9 399.3 92.5 399.4 93.1 399.5 93.7 399.5 94.3 399.7 94.9 399.8 95.5 399.9 96.1 400.1 96.7 400.2 97.3 400.4 97.9 400.5 98.5 400.7 99.1 400.8 99.7 400.9 100.3 401.1 100.9 401.2 101.5 401.4 102.1 401.5 105.7 402.3 109.3 403.2 112.9 404.0 116.5 404.8 120.1 405.6 123.8 406.3 127.4 407.1 131.0 407.9 134.6 408.6 138.2 409.3 141.8 410.0 145.4 410.7 149.0 411.4 152.6 412.1 156.2 412.7 159.8 413.4 163.4 414.0 167.1 414.6 170.7 415.2 174.3 415.8 177.9 416.4 181.5 416.9 185.1 417.5 188.7 418.0 192.3 418.5 195.9 419.0 199.5 419.5 203.1 419.9 206.7 420.4 210.4 420.8 214.0 421.2 217.6 421.6 217.6 422.3 217.7 422.8 217.7 423.1 217.8 423.3 217.9 423.4 217.9 423.4 218.0 423.2 218.0 423.0 218.1 422.6 218.2 422.2 218.2 421.7 218.3 421.2 218.3 420.5 218.4 419.8 218.5 419.1 218.5 418.3 218.6 417.4 218.6 416.5 218.7 415.6 218.8 414.6 218.8 413.7 218.9 412.7 218.9 411.6 219.0 410.6 219.1 409.5 219.1 408.8 219.2 408.1 219.3 407.4 219.3 406.7 219.4 406.0 219.4 405.3 219.5 404.6 219.6 403.8 219.6 403.1 219.7 402.3 219.7 401.6 219.8 400.8 219.9 400.0 219.9 399.2 220.0 398.4 220.0 397.6 220.1 396.8 220.2 395.9 220.2 395.0 220.3 394.2 220.3 393.3 220.4 392.3 220.5 391.4 220.5 390.5 220.6 389.6 220.6 388.7 220.7 387.8 220.8 386.9 220.8 386.1 220.9 385.2 220.9 384.3 221.0 383.5 221.1 382.6 221.1 381.7 221.2 380.9 221.2 380.0 221.3 379.2 221.4 378.3 221.4 377.5 221.5 376.7 221.5 375.9 221.6 375.2 221.7 374.4 221.7 373.7 221.8 373.0 221.8 372.3 221.9 371.6 222.0 370.9 222.0 370.2 222.1 369.5 222.1 368.8 222.2 368.2 222.3 367.5 222.3 366.9 222.4 366.4 222.4 365.8 222.5 365.3 222.6 364.9 222.6 364.5 222.7 364.1 222.7 363.8 222.8 363.4 222.9 363.1 222.9 362.7 223.0 362.4 223.0 362.1 223.1 361.8 223.2 361.5 223.2 361.3 223.3 361.0 223.3 360.8 223.4 360.5 223.5 360.3 223.5 360.1 223.6 359.9 223.6 359.7 223.7 359.5 223.8 359.4 223.8 359.2 223.9 359.1 223.9 359.0 224.0 358.8 224.1 358.7 224.1 358.6 224.2 358.5 224.2 358.3 224.3 358.2 224.4 358.1 224.4 358.0 224.5 357.9 224.5 357.8 224.6 357.7 224.7 357.6 224.7 357.6 224.8 357.5 225.1 357.1 225.4 356.8 225.7 356.6 226.0 356.3 226.3 356.1 226.6 355.9 226.9 355.8 227.2 355.7 227.5 355.6 227.8 355.6 228.1 355.5 228.4 355.5 228.7 355.4 229.0 355.4 229.3 355.3 229.6 355.3 229.9 355.3 230.2 355.3 230.5 355.3 230.8 355.3 231.1 355.4 231.4 355.5 231.7 355.6 232.0 355.7 232.3 355.8 232.6 355.9 232.9 356.1 233.2 356.2 233.5 356.4 233.8 356.5 234.1 356.7 234.4 356.8 236.8 358.0 239.2 359.3 241.6 360.7 244.0 362.0 246.4 363.3 248.8 364.5 251.2 365.8 253.7 367.0 256.1 368.2 258.5 369.3 260.9 370.4 263.3 371.5 265.7 372.6 268.1 373.6 270.5 374.6 272.9 375.5 275.3 376.5 277.7 377.3 280.1 378.2 282.5 379.0 284.9 379.8 287.3 380.6 289.7 381.3 292.1 382.0 294.5 382.7 296.9 383.3 299.4 383.9 301.8 384.5 304.2 385.1" stroke="url(#fg5)" stroke-width="1.38" fill="none" stroke-linejoin="round" stroke-linecap="round"/><path d="M40.8 472.5 40.9 470.6 41.0 468.7 41.1 466.8 41.2 465.1 41.4 463.4 41.5 461.9 41.6 460.4 41.7 459.0 41.8 457.7 42.0 456.4 42.1 455.1 42.2 453.8 42.3 452.6 42.4 451.4 42.6 450.2 42.7 449.0 42.8 447.9 42.9 446.8 43.0 445.6 43.2 444.5 43.3 443.3 43.4 442.1 43.5 440.9 43.6 439.7 43.8 438.4 43.9 437.2 44.0 435.9 44.1 434.8 44.2 433.6 44.4 432.5 44.5 431.5 44.6 430.6 44.7 429.6 44.8 428.7 45.0 427.8 45.1 427.0 45.2 426.1 45.3 425.3 45.4 424.5 45.6 423.7 45.7 422.9 45.8 422.2 45.9 421.5 46.1 420.8 46.2 420.1 46.3 419.5 46.4 418.9 46.5 418.3 46.7 417.7 46.8 417.1 46.9 416.5 47.0 415.9 47.1 415.4 47.3 414.8 47.4 414.3 47.5 413.8 47.6 413.3 47.7 412.8 47.9 412.3 48.0 411.8 48.1 411.4 48.2 411.0 48.3 410.5 48.5 410.2 48.6 409.8 48.7 409.4 48.8 409.1 48.9 408.8 49.1 408.5 49.2 408.3 49.3 408.0 49.4 407.7 49.5 407.5 49.7 407.2 49.8 406.9 49.9 406.7 50.0 406.4 50.1 406.2 50.3 406.0 50.4 405.7 50.5 405.5 50.6 405.3 50.7 405.1 50.9 404.9 51.0 404.7 51.1 404.5 51.2 404.3 51.3 404.1 51.5 403.9 51.6 403.7 51.7 403.6 51.8 403.4 51.9 403.2 52.1 403.1 52.2 402.9 52.3 402.8 52.4 402.7 52.5 402.5 52.7 402.4 52.8 402.3 53.4 401.8 54.0 401.3 54.6 400.9 55.2 400.5 55.8 400.2 56.4 399.9 57.0 399.6 57.6 399.4 58.2 399.3 58.8 399.2 59.4 399.2 60.0 399.2 60.6 399.2 61.2 399.2 61.8 399.2 62.4 399.2 63.0 399.2 63.6 399.2 64.2 399.2 64.8 399.2 65.4 399.2 66.0 399.3 66.6 399.3 67.2 399.4 67.8 399.5 68.4 399.5 69.0 399.7 69.6 399.8 70.2 399.9 70.8 400.1 71.4 400.2 72.0 400.4 72.6 400.5 73.2 400.7 73.8 400.8 74.4 400.9 75.0 401.1 75.6 401.2 76.2 401.4 76.8 401.5 80.5 402.3 84.1 403.2 87.7 404.0 91.3 404.8 94.9 405.6 98.5 406.3 102.1 407.1 105.7 407.9 109.3 408.6 112.9 409.3 116.5 410.0 120.1 410.7 123.8 411.4 127.4 412.1 131.0 412.7 134.6 413.4 138.2 414.0 141.8 414.6 145.4 415.2 149.0 415.8 152.6 416.4 156.2 416.9 159.8 417.5 163.4 418.0 167.1 418.5 170.7 419.0 174.3 419.5 177.9 419.9 181.5 420.4 185.1 420.8 188.7 421.2 192.3 421.6 195.9 422.0 199.5 422.4 203.1 422.8 206.7 423.2 210.4 423.5 214.0 423.9 217.6 424.2 217.6 424.9 217.7 425.4 217.7 425.7 217.8 425.9 217.9 426.0 217.9 425.9 218.0 425.6 218.0 425.3 218.1 424.8 218.2 424.2 218.2 423.5 218.3 422.8 218.3 422.0 218.4 421.1 218.5 420.2 218.5 419.3 218.6 418.3 218.6 417.3 218.7 416.3 218.8 415.3 218.8 414.2 218.9 413.2 218.9 412.1 219.0 411.0 219.1 410.0 219.1 409.2 219.2 408.5 219.3 407.8 219.3 407.1 219.4 406.4 219.4 405.7 219.5 404.9 219.6 404.2 219.6 403.4 219.7 402.7 219.7 401.9 219.8 401.1 219.9 400.3 219.9 399.5 220.0 398.7 220.0 397.9 220.1 397.1 220.2 396.2 220.2 395.4 220.3 394.5 220.3 393.6 220.4 392.7 220.5 391.8 220.5 390.9 220.6 389.9 220.6 389.0 220.7 388.1 220.8 387.3 220.8 386.4 220.9 385.5 220.9 384.7 221.0 383.8 221.1 382.9 221.1 382.1 221.2 381.2 221.2 380.3 221.3 379.5 221.4 378.7 221.4 377.8 221.5 377.0 221.5 376.3 221.6 375.5 221.7 374.8 221.7 374.1 221.8 373.3 221.8 372.6 221.9 371.9 222.0 371.2 222.0 370.5 222.1 369.8 222.1 369.1 222.2 368.5 222.3 367.9 222.3 367.3 222.4 366.7 222.4 366.2 222.5 365.7 222.6 365.2 222.6 364.8 222.7 364.5 222.7 364.1 222.8 363.7 222.9 363.4 222.9 363.1 223.0 362.7 223.0 362.4 223.1 362.1 223.2 361.9 223.2 361.6 223.3 361.3 223.3 361.1 223.4 360.8 223.5 360.6 223.5 360.4 223.6 360.2 223.6 360.0 223.7 359.9 223.8 359.7 223.8 359.6 223.9 359.4 223.9 359.3 224.0 359.2 224.1 359.0 224.1 358.9 224.2 358.8 224.2 358.7 224.3 358.6 224.4 358.5 224.4 358.4 224.5 358.3 224.5 358.2 224.6 358.1 224.7 358.0 224.7 357.9 224.8 357.8 225.1 357.5 225.4 357.2 225.7 356.9 226.0 356.7 226.3 356.4 226.6 356.3 226.9 356.1 227.2 356.0 227.5 356.0 227.8 355.9 228.1 355.8 228.4 355.8 228.7 355.7 229.0 355.7 229.3 355.7 229.6 355.6 229.9 355.6 230.2 355.6 230.5 355.6 230.8 355.7 231.1 355.7 231.4 355.8 231.7 355.9 232.0 356.0 232.3 356.1 232.6 356.2 232.9 356.4 233.2 356.5 233.5 356.7 233.8 356.8 234.1 357.0 234.4 357.1 236.8 358.3 239.2 359.6 241.6 360.9 244.0 362.2 246.4 363.5 248.8 364.8 251.2 366.0 253.7 367.2 256.1 368.4 258.5 369.5 260.9 370.6 263.3 371.7 265.7 372.7 268.1 373.7 270.5 374.7 272.9 375.6 275.3 376.6 277.7 377.4 280.1 378.3 282.5 379.1 284.9 379.9 287.3 380.6 289.7 381.4 292.1 382.0 294.5 382.7 296.9 383.4 299.4 384.0 301.8 384.6 304.2 385.1 306.6 385.7 309.0 386.2 311.4 386.7 313.8 387.2 316.2 387.6 318.6 388.1 321.0 388.5 323.4 388.9 325.8 389.3 328.2 389.7 330.6 390.1 333.0 390.5 335.4 390.8 337.8 391.2 340.2 391.5 342.7 391.8 345.1 392.2 347.5 392.5 349.9 392.8 352.3 393.1 354.7 393.4 357.1 393.7 359.5 394.0 361.9 394.3 364.3 394.5 366.7 394.8 369.1 395.1 371.5 395.4 373.9 395.6 376.3 395.9 378.7 396.1 381.1 396.4 383.6 396.6 386.0 396.9 388.4 397.1 390.8 397.4 393.2 397.6 395.6 397.9 398.0 398.1 400.4 398.3 402.8 398.6 405.2 398.8 407.6 399.0 410.0 399.2 412.4 399.5 414.8 399.7 417.2 399.9 419.6 400.1 422.0 400.3 424.4 400.5 426.8 400.7 429.3 400.9 431.7 401.2 434.1 401.4 436.5 401.6 438.9 401.8 441.3 402.0 443.7 402.2 446.1 402.3 448.5 402.5 450.9 402.7 453.3 402.9 455.7 403.1 458.1 403.3 460.5 403.5 462.9 403.7 465.3 403.8 467.7 404.0 470.1 404.2 472.6 404.4 475.0 404.5 477.4 404.7 479.8 404.9 482.2 405.1 484.6 405.2 487.0 405.4 489.4 405.5 491.8 405.7 494.2 405.9 496.6 406.0 499.0 406.2 501.4 406.3 503.8 406.5 506.2 406.7 508.6 406.8 511.0 407.0 513.5 407.1 515.9 407.3 518.3 407.4 520.7 407.5 523.1 407.7 525.5 407.8 527.9 408.0 530.3 408.1 532.7 408.3 535.1 408.4 537.5 408.5 539.9 408.7 542.3 408.8 544.7 408.9 547.1 409.1 549.5 409.2 551.9 409.3 554.3 409.5 556.8 409.6 559.2 409.7 561.6 409.8 564.0 410.0 566.4 410.1 568.8 410.2 571.2 410.3 573.6 410.4 576.0 410.6 578.4 410.7" stroke="#4C72B0" stroke-width="1.38" fill="none" stroke-linejoin="round" stroke-linecap="round"/></g>
<path d="M37.15 443.31H578.40" stroke="#7a7a7a" stroke-width="1.25" stroke-dasharray="4.5 1.5" stroke-dashoffset="0" fill="none"/>
<text x="272.80" y="342.06" font-weight="bold" fill="#3a3a3a" font-size="15" textLength="23.40" lengthAdjust="spacingAndGlyphs">(C)</text>
<text x="304.00" y="342.06" font-weight="bold" fill="#3a3a3a" font-size="15" textLength="39.30" lengthAdjust="spacingAndGlyphs">AS03</text>
<text transform="translate(13.8 414.56) rotate(-90)" class="lab" text-anchor="middle" font-size="20.5" textLength="63" lengthAdjust="spacingAndGlyphs">Ab titer</text>
<text x="32.60" y="464.04" text-anchor="end" font-size="8.2" textLength="3.6" lengthAdjust="spacingAndGlyphs">1</text>
<text x="28.70" y="467.54" text-anchor="end" font-size="11">2</text>
<text x="32.60" y="437.64" text-anchor="end" font-size="8.2" textLength="3.6" lengthAdjust="spacingAndGlyphs">4</text>
<text x="28.70" y="441.14" text-anchor="end" font-size="11">2</text>
<text x="32.60" y="411.24" text-anchor="end" font-size="8.2" textLength="3.6" lengthAdjust="spacingAndGlyphs">7</text>
<text x="28.70" y="414.74" text-anchor="end" font-size="11">2</text>
<text x="32.60" y="384.84" text-anchor="end" font-size="8.2" textLength="6.9" lengthAdjust="spacingAndGlyphs">10</text>
<text x="25.40" y="388.34" text-anchor="end" font-size="11">2</text>
<text x="32.60" y="358.44" text-anchor="end" font-size="8.2" textLength="6.9" lengthAdjust="spacingAndGlyphs">13</text>
<text x="25.40" y="361.94" text-anchor="end" font-size="11">2</text>
<rect x="37.15" y="511.59" width="541.25" height="137.60" fill="#EAEAF2"/>
<path d="M97.29 511.59V649.19M157.43 511.59V649.19M217.57 511.59V649.19M277.71 511.59V649.19M337.84 511.59V649.19M397.98 511.59V649.19M458.12 511.59V649.19M518.26 511.59V649.19M37.15 629.07H578.40M37.15 602.67H578.40M37.15 576.27H578.40M37.15 549.87H578.40M37.15 523.47H578.40" stroke="#fff" stroke-width="1.0" fill="none"/>
<clipPath id="c3"><rect x="37.15" y="511.59" width="541.25" height="137.60"/></clipPath>
<g clip-path="url(#c3)"><path d="M192.3 637.0 192.4 637.3 192.5 637.6 192.7 637.9 192.8 638.1 192.9 638.3 193.0 638.4 193.2 638.4 193.3 638.3 193.4 638.2 193.5 638.1 193.6 637.9 193.8 637.7 193.9 637.4 194.0 637.2 194.1 636.9 194.2 636.5 194.4 636.2 194.5 635.8 194.6 635.4 194.7 635.0 194.8 634.7 195.0 634.3 195.1 633.9 195.2 633.5 195.3 633.1 195.4 632.8 195.6 632.4 195.7 632.1 195.8 631.7 195.9 631.3 196.0 631.0 196.2 630.6 196.3 630.2 196.4 629.8 196.5 629.4 196.6 628.9 196.8 628.5 196.9 628.1 197.0 627.7 197.1 627.3 197.2 626.8 197.4 626.4 197.5 626.0 197.6 625.6 197.7 625.2 197.8 624.9 198.0 624.5 198.1 624.1 198.2 623.8 198.3 623.5 198.4 623.1 198.6 622.8 198.7 622.5 198.8 622.1 198.9 621.8 199.0 621.5 199.2 621.2 199.3 620.8 199.4 620.5 199.5 620.2 199.6 619.9 199.8 619.7 199.9 619.4 200.0 619.1 200.1 618.8 200.2 618.6 200.4 618.4 200.5 618.1 200.6 617.9 200.7 617.7 200.8 617.5 201.0 617.3 201.1 617.1 201.2 616.9 201.3 616.7 201.4 616.6 201.6 616.4 201.7 616.2 201.8 616.0 201.9 615.9 202.1 615.7 202.2 615.5 202.3 615.4 202.4 615.2 202.5 615.1 202.7 614.9 202.8 614.8 202.9 614.7 203.0 614.5 203.1 614.4 203.3 614.3 203.4 614.2 203.5 614.0 203.6 613.9 203.7 613.8 203.9 613.7 204.0 613.6 204.1 613.5 204.2 613.4 204.3 613.3 204.9 612.9 205.5 612.5 206.1 612.0 206.7 611.7 207.3 611.4 207.9 611.1 208.5 610.9 209.1 610.8 209.7 610.8 210.4 610.7 211.0 610.7 211.6 610.6 212.2 610.6 212.8 610.6 213.4 610.6 214.0 610.6 214.6 610.6 215.2 610.6 215.8 610.6 216.4 610.7 217.0 610.7 217.6 610.8 217.6 611.5 217.7 612.0 217.7 612.3 217.8 612.5 217.9 612.6 217.9 612.7 218.0 612.6 218.0 612.6 218.1 612.5 218.2 612.4 218.2 612.3 218.3 612.2 218.3 612.1 218.4 612.0 218.5 612.0 218.5 611.9 218.6 611.8 218.6 611.7 218.7 611.6 218.8 611.6 218.8 611.5 218.9 611.5 218.9 611.4 219.0 611.3 219.1 611.3 219.1 611.2 219.2 611.2 219.3 611.1 219.3 611.0 219.4 611.0 219.4 610.9 219.5 610.7 219.6 610.6 219.6 610.4 219.7 610.3 219.7 610.0 219.8 609.8 219.9 609.4 219.9 609.1 220.0 608.6 220.0 608.1 220.1 607.6 220.2 607.0 220.2 606.3 220.3 605.6 220.3 604.9 220.4 604.0 220.5 603.2 220.5 602.3 220.6 601.4 220.6 600.5 220.7 599.6 220.8 598.6 220.8 597.6 220.9 596.6 220.9 595.6 221.0 594.6 221.1 593.6 221.1 592.6 221.2 591.6 221.2 590.6 221.3 589.7 221.4 588.8 221.4 587.9 221.5 586.9 221.5 586.0 221.6 585.1 221.7 584.2 221.7 583.3 221.8 582.5 221.8 581.7 221.9 581.0 222.0 580.3 222.0 579.7 222.1 579.1 222.1 578.5 222.2 578.0 222.3 577.4 222.3 576.9 222.4 576.4 222.4 576.0 222.5 575.5 222.6 575.0 222.6 574.6 222.7 574.2 222.7 573.8 222.8 573.5 222.9 573.1 222.9 572.8 223.0 572.5 223.0 572.2 223.1 571.9 223.2 571.7 223.2 571.4 223.3 571.2 223.3 570.9 223.4 570.7 223.5 570.5 223.5 570.3 223.6 570.1 223.6 569.9 223.7 569.7 223.8 569.5 223.8 569.3 223.9 569.1 223.9 569.0 224.0 568.8 224.1 568.7 224.1 568.5 224.2 568.4 224.2 568.3 224.3 568.2 224.4 568.0 224.4 567.9 224.5 567.8 224.5 567.7 224.6 567.5 224.7 567.4 224.7 567.3 224.8 567.2 225.1 566.7 225.4 566.2 225.7 565.9 226.0 565.7 226.3 565.5 226.6 565.4 226.9 565.2 227.2 565.1 227.5 565.0 227.8 564.9 228.1 564.8 228.4 564.8 228.7 564.7 229.0 564.7 229.3 564.7 229.6 564.7 229.9 564.7 230.2 564.8 230.5 564.8 230.8 564.9 231.1 565.0 231.4 565.1 231.7 565.2 232.0 565.3 232.3 565.4 232.6 565.6 232.9 565.8 233.2 566.0 233.5 566.1 233.8 566.3 234.1 566.4 234.4 566.6 236.8 567.8 239.2 569.2 241.6 570.6 244.0 572.0 246.4 573.4 248.8 574.7 251.2 576.1 253.7 577.4 256.1 578.6 258.5 579.8 260.9 581.0 263.3 582.2 265.7 583.3 268.1 584.4 270.5 585.5 272.9 586.5 275.3 587.5 277.7 588.4 280.1 589.3 282.5 590.2 284.9 591.0 287.3 591.8 289.7 592.6 292.1 593.3 294.5 594.0 296.9 594.7 299.4 595.3 301.8 595.9 304.2 596.5" stroke="url(#fg0)" stroke-width="1.38" fill="none" stroke-linejoin="round" stroke-linecap="round"/><path d="M167.1 637.0 167.2 637.3 167.3 637.6 167.4 637.9 167.5 638.1 167.7 638.3 167.8 638.4 167.9 638.4 168.0 638.3 168.1 638.2 168.3 638.1 168.4 637.9 168.5 637.7 168.6 637.4 168.7 637.2 168.9 636.9 169.0 636.5 169.1 636.2 169.2 635.8 169.3 635.4 169.5 635.0 169.6 634.7 169.7 634.3 169.8 633.9 169.9 633.5 170.1 633.1 170.2 632.8 170.3 632.4 170.4 632.1 170.5 631.7 170.7 631.3 170.8 631.0 170.9 630.6 171.0 630.2 171.1 629.8 171.3 629.4 171.4 628.9 171.5 628.5 171.6 628.1 171.7 627.7 171.9 627.3 172.0 626.8 172.1 626.4 172.2 626.0 172.3 625.6 172.5 625.2 172.6 624.9 172.7 624.5 172.8 624.1 172.9 623.8 173.1 623.5 173.2 623.1 173.3 622.8 173.4 622.5 173.5 622.1 173.7 621.8 173.8 621.5 173.9 621.2 174.0 620.8 174.1 620.5 174.3 620.2 174.4 619.9 174.5 619.7 174.6 619.4 174.7 619.1 174.9 618.8 175.0 618.6 175.1 618.4 175.2 618.1 175.3 617.9 175.5 617.7 175.6 617.5 175.7 617.3 175.8 617.1 176.0 616.9 176.1 616.7 176.2 616.6 176.3 616.4 176.4 616.2 176.6 616.0 176.7 615.9 176.8 615.7 176.9 615.5 177.0 615.4 177.2 615.2 177.3 615.1 177.4 614.9 177.5 614.8 177.6 614.7 177.8 614.5 177.9 614.4 178.0 614.3 178.1 614.2 178.2 614.0 178.4 613.9 178.5 613.8 178.6 613.7 178.7 613.6 178.8 613.5 179.0 613.4 179.1 613.3 179.7 612.9 180.3 612.5 180.9 612.0 181.5 611.7 182.1 611.4 182.7 611.1 183.3 610.9 183.9 610.8 184.5 610.8 185.1 610.7 185.7 610.7 186.3 610.6 186.9 610.6 187.5 610.6 188.1 610.6 188.7 610.6 189.3 610.6 189.9 610.6 190.5 610.6 191.1 610.7 191.7 610.7 192.3 610.8 192.9 610.9 193.5 611.0 194.1 611.1 194.7 611.2 195.3 611.3 195.9 611.5 196.5 611.6 197.1 611.8 197.7 611.9 198.3 612.1 198.9 612.2 199.5 612.3 200.1 612.5 200.7 612.6 201.3 612.8 201.9 612.9 202.5 613.1 203.1 613.2 206.7 614.1 210.4 614.9 214.0 615.7 217.6 616.6 217.6 617.2 217.7 617.7 217.7 618.0 217.8 618.2 217.9 618.4 217.9 618.4 218.0 618.4 218.0 618.3 218.1 618.3 218.2 618.2 218.2 618.1 218.3 618.0 218.3 617.9 218.4 617.8 218.5 617.7 218.5 617.6 218.6 617.5 218.6 617.4 218.7 617.3 218.8 617.2 218.8 617.1 218.9 617.1 218.9 617.0 219.0 616.9 219.1 616.7 219.1 616.6 219.2 616.5 219.3 616.3 219.3 616.1 219.4 615.9 219.4 615.7 219.5 615.4 219.6 615.1 219.6 614.7 219.7 614.3 219.7 613.8 219.8 613.2 219.9 612.6 219.9 612.0 220.0 611.3 220.0 610.5 220.1 609.8 220.2 608.9 220.2 608.1 220.3 607.2 220.3 606.3 220.4 605.3 220.5 604.4 220.5 603.4 220.6 602.5 220.6 601.5 220.7 600.5 220.8 599.5 220.8 598.5 220.9 597.4 220.9 596.4 221.0 595.4 221.1 594.4 221.1 593.3 221.2 592.4 221.2 591.4 221.3 590.4 221.4 589.5 221.4 588.6 221.5 587.7 221.5 586.8 221.6 585.8 221.7 584.9 221.7 584.1 221.8 583.2 221.8 582.5 221.9 581.7 222.0 581.0 222.0 580.4 222.1 579.8 222.1 579.3 222.2 578.7 222.3 578.2 222.3 577.7 222.4 577.2 222.4 576.7 222.5 576.2 222.6 575.8 222.6 575.4 222.7 575.0 222.7 574.6 222.8 574.2 222.9 573.9 222.9 573.5 223.0 573.2 223.0 572.9 223.1 572.7 223.2 572.4 223.2 572.1 223.3 571.9 223.3 571.7 223.4 571.4 223.5 571.2 223.5 571.0 223.6 570.8 223.6 570.6 223.7 570.4 223.8 570.2 223.8 570.1 223.9 569.9 223.9 569.7 224.0 569.6 224.1 569.4 224.1 569.3 224.2 569.1 224.2 569.0 224.3 568.9 224.4 568.8 224.4 568.6 224.5 568.5 224.5 568.4 224.6 568.3 224.7 568.1 224.7 568.0 224.8 567.9 225.1 567.4 225.4 566.9 225.7 566.6 226.0 566.4 226.3 566.2 226.6 566.1 226.9 566.0 227.2 565.8 227.5 565.7 227.8 565.6 228.1 565.6 228.4 565.5 228.7 565.4 229.0 565.4 229.3 565.4 229.6 565.4 229.9 565.4 230.2 565.5 230.5 565.5 230.8 565.6 231.1 565.7 231.4 565.8 231.7 565.9 232.0 566.0 232.3 566.1 232.6 566.3 232.9 566.5 233.2 566.6 233.5 566.8 233.8 567.0 234.1 567.1 234.4 567.3 236.8 568.5 239.2 569.9 241.6 571.3 244.0 572.6 246.4 574.0 248.8 575.3 251.2 576.6 253.7 577.8 256.1 579.1 258.5 580.3 260.9 581.4 263.3 582.6 265.7 583.7 268.1 584.7 270.5 585.8 272.9 586.8 275.3 587.7 277.7 588.6 280.1 589.5 282.5 590.4 284.9 591.2 287.3 592.0 289.7 592.7 292.1 593.4 294.5 594.1 296.9 594.8 299.4 595.4 301.8 596.0 304.2 596.5" stroke="url(#fg1)" stroke-width="1.38" fill="none" stroke-linejoin="round" stroke-linecap="round"/><path d="M141.8 637.0 141.9 637.3 142.0 637.6 142.2 637.9 142.3 638.1 142.4 638.3 142.5 638.4 142.6 638.4 142.8 638.3 142.9 638.2 143.0 638.1 143.1 637.9 143.2 637.7 143.4 637.4 143.5 637.2 143.6 636.9 143.7 636.5 143.8 636.2 144.0 635.8 144.1 635.4 144.2 635.0 144.3 634.7 144.4 634.3 144.6 633.9 144.7 633.5 144.8 633.1 144.9 632.8 145.0 632.4 145.2 632.1 145.3 631.7 145.4 631.3 145.5 631.0 145.6 630.6 145.8 630.2 145.9 629.8 146.0 629.4 146.1 628.9 146.2 628.5 146.4 628.1 146.5 627.7 146.6 627.3 146.7 626.8 146.8 626.4 147.0 626.0 147.1 625.6 147.2 625.2 147.3 624.9 147.4 624.5 147.6 624.1 147.7 623.8 147.8 623.5 147.9 623.1 148.0 622.8 148.2 622.5 148.3 622.1 148.4 621.8 148.5 621.5 148.6 621.2 148.8 620.8 148.9 620.5 149.0 620.2 149.1 619.9 149.2 619.7 149.4 619.4 149.5 619.1 149.6 618.8 149.7 618.6 149.9 618.4 150.0 618.1 150.1 617.9 150.2 617.7 150.3 617.5 150.5 617.3 150.6 617.1 150.7 616.9 150.8 616.7 150.9 616.6 151.1 616.4 151.2 616.2 151.3 616.0 151.4 615.9 151.5 615.7 151.7 615.5 151.8 615.4 151.9 615.2 152.0 615.1 152.1 614.9 152.3 614.8 152.4 614.7 152.5 614.5 152.6 614.4 152.7 614.3 152.9 614.2 153.0 614.0 153.1 613.9 153.2 613.8 153.3 613.7 153.5 613.6 153.6 613.5 153.7 613.4 153.8 613.3 154.4 612.9 155.0 612.5 155.6 612.0 156.2 611.7 156.8 611.4 157.4 611.1 158.0 610.9 158.6 610.8 159.2 610.8 159.8 610.7 160.4 610.7 161.0 610.6 161.6 610.6 162.2 610.6 162.8 610.6 163.4 610.6 164.0 610.6 164.6 610.6 165.2 610.6 165.8 610.7 166.4 610.7 167.1 610.8 167.7 610.9 168.3 611.0 168.9 611.1 169.5 611.2 170.1 611.3 170.7 611.5 171.3 611.6 171.9 611.8 172.5 611.9 173.1 612.1 173.7 612.2 174.3 612.3 174.9 612.5 175.5 612.6 176.1 612.8 176.7 612.9 177.3 613.1 177.9 613.2 181.5 614.1 185.1 614.9 188.7 615.7 192.3 616.6 195.9 617.4 199.5 618.2 203.1 619.0 206.7 619.7 210.4 620.5 214.0 621.2 217.6 622.0 217.6 622.6 217.7 623.1 217.7 623.5 217.8 623.7 217.9 623.8 217.9 623.8 218.0 623.8 218.0 623.8 218.1 623.7 218.2 623.6 218.2 623.5 218.3 623.4 218.3 623.3 218.4 623.1 218.5 623.0 218.5 622.9 218.6 622.8 218.6 622.7 218.7 622.5 218.8 622.4 218.8 622.3 218.9 622.1 218.9 621.9 219.0 621.6 219.1 621.4 219.1 621.1 219.2 620.8 219.3 620.5 219.3 620.1 219.4 619.6 219.4 619.2 219.5 618.6 219.6 618.0 219.6 617.4 219.7 616.7 219.7 616.0 219.8 615.3 219.9 614.5 219.9 613.6 220.0 612.8 220.0 611.9 220.1 611.0 220.2 610.1 220.2 609.1 220.3 608.2 220.3 607.2 220.4 606.2 220.5 605.2 220.5 604.2 220.6 603.2 220.6 602.3 220.7 601.3 220.8 600.2 220.8 599.2 220.9 598.2 220.9 597.1 221.0 596.1 221.1 595.1 221.1 594.1 221.2 593.1 221.2 592.1 221.3 591.2 221.4 590.2 221.4 589.3 221.5 588.4 221.5 587.5 221.6 586.5 221.7 585.7 221.7 584.8 221.8 584.0 221.8 583.2 221.9 582.4 222.0 581.7 222.0 581.1 222.1 580.5 222.1 580.0 222.2 579.4 222.3 578.9 222.3 578.4 222.4 577.9 222.4 577.4 222.5 576.9 222.6 576.5 222.6 576.1 222.7 575.7 222.7 575.3 222.8 574.9 222.9 574.5 222.9 574.2 223.0 573.9 223.0 573.6 223.1 573.4 223.2 573.1 223.2 572.8 223.3 572.6 223.3 572.4 223.4 572.1 223.5 571.9 223.5 571.7 223.6 571.5 223.6 571.3 223.7 571.1 223.8 570.9 223.8 570.8 223.9 570.6 223.9 570.4 224.0 570.3 224.1 570.1 224.1 570.0 224.2 569.8 224.2 569.7 224.3 569.6 224.4 569.5 224.4 569.3 224.5 569.2 224.5 569.1 224.6 569.0 224.7 568.8 224.7 568.7 224.8 568.6 225.1 568.1 225.4 567.6 225.7 567.3 226.0 567.1 226.3 566.9 226.6 566.8 226.9 566.6 227.2 566.5 227.5 566.4 227.8 566.3 228.1 566.2 228.4 566.2 228.7 566.1 229.0 566.1 229.3 566.1 229.6 566.1 229.9 566.1 230.2 566.1 230.5 566.2 230.8 566.2 231.1 566.3 231.4 566.4 231.7 566.5 232.0 566.6 232.3 566.8 232.6 566.9 232.9 567.1 233.2 567.3 233.5 567.4 233.8 567.6 234.1 567.8 234.4 567.9 236.8 569.1 239.2 570.5 241.6 571.8 244.0 573.2 246.4 574.5 248.8 575.8 251.2 577.1 253.7 578.3 256.1 579.5 258.5 580.7 260.9 581.8 263.3 582.9 265.7 584.0 268.1 585.0 270.5 586.0 272.9 587.0 275.3 587.9 277.7 588.8 280.1 589.7 282.5 590.5 284.9 591.3 287.3 592.1 289.7 592.8 292.1 593.5 294.5 594.2 296.9 594.8 299.4 595.4 301.8 596.0 304.2 596.6" stroke="url(#fg2)" stroke-width="1.38" fill="none" stroke-linejoin="round" stroke-linecap="round"/><path d="M116.5 637.0 116.7 637.3 116.8 637.6 116.9 637.9 117.0 638.1 117.1 638.3 117.3 638.4 117.4 638.4 117.5 638.3 117.6 638.2 117.7 638.1 117.9 637.9 118.0 637.7 118.1 637.4 118.2 637.2 118.3 636.9 118.5 636.5 118.6 636.2 118.7 635.8 118.8 635.4 118.9 635.0 119.1 634.7 119.2 634.3 119.3 633.9 119.4 633.5 119.5 633.1 119.7 632.8 119.8 632.4 119.9 632.1 120.0 631.7 120.1 631.3 120.3 631.0 120.4 630.6 120.5 630.2 120.6 629.8 120.7 629.4 120.9 628.9 121.0 628.5 121.1 628.1 121.2 627.7 121.3 627.3 121.5 626.8 121.6 626.4 121.7 626.0 121.8 625.6 121.9 625.2 122.1 624.9 122.2 624.5 122.3 624.1 122.4 623.8 122.5 623.5 122.7 623.1 122.8 622.8 122.9 622.5 123.0 622.1 123.1 621.8 123.3 621.5 123.4 621.2 123.5 620.8 123.6 620.5 123.8 620.2 123.9 619.9 124.0 619.7 124.1 619.4 124.2 619.1 124.4 618.8 124.5 618.6 124.6 618.4 124.7 618.1 124.8 617.9 125.0 617.7 125.1 617.5 125.2 617.3 125.3 617.1 125.4 616.9 125.6 616.7 125.7 616.6 125.8 616.4 125.9 616.2 126.0 616.0 126.2 615.9 126.3 615.7 126.4 615.5 126.5 615.4 126.6 615.2 126.8 615.1 126.9 614.9 127.0 614.8 127.1 614.7 127.2 614.5 127.4 614.4 127.5 614.3 127.6 614.2 127.7 614.0 127.8 613.9 128.0 613.8 128.1 613.7 128.2 613.6 128.3 613.5 128.4 613.4 128.6 613.3 129.2 612.9 129.8 612.5 130.4 612.0 131.0 611.7 131.6 611.4 132.2 611.1 132.8 610.9 133.4 610.8 134.0 610.8 134.6 610.7 135.2 610.7 135.8 610.6 136.4 610.6 137.0 610.6 137.6 610.6 138.2 610.6 138.8 610.6 139.4 610.6 140.0 610.6 140.6 610.7 141.2 610.7 141.8 610.8 142.4 610.9 143.0 611.0 143.6 611.1 144.2 611.2 144.8 611.3 145.4 611.5 146.0 611.6 146.6 611.8 147.2 611.9 147.8 612.1 148.4 612.2 149.0 612.3 149.6 612.5 150.2 612.6 150.8 612.8 151.4 612.9 152.0 613.1 152.6 613.2 156.2 614.1 159.8 614.9 163.4 615.7 167.1 616.6 170.7 617.4 174.3 618.2 177.9 619.0 181.5 619.7 185.1 620.5 188.7 621.2 192.3 622.0 195.9 622.7 199.5 623.4 203.1 624.1 206.7 624.8 210.4 625.5 214.0 626.1 217.6 626.7 217.6 627.4 217.7 627.9 217.7 628.2 217.8 628.4 217.9 628.5 217.9 628.6 218.0 628.6 218.0 628.5 218.1 628.4 218.2 628.3 218.2 628.2 218.3 628.1 218.3 627.9 218.4 627.8 218.5 627.6 218.5 627.5 218.6 627.3 218.6 627.1 218.7 626.9 218.8 626.6 218.8 626.3 218.9 626.0 218.9 625.6 219.0 625.2 219.1 624.7 219.1 624.2 219.2 623.7 219.3 623.1 219.3 622.5 219.4 621.9 219.4 621.2 219.5 620.5 219.6 619.7 219.6 618.9 219.7 618.1 219.7 617.3 219.8 616.4 219.9 615.5 219.9 614.6 220.0 613.7 220.0 612.7 220.1 611.8 220.2 610.8 220.2 609.9 220.3 608.9 220.3 607.9 220.4 606.9 220.5 605.9 220.5 604.9 220.6 603.9 220.6 602.9 220.7 601.9 220.8 600.9 220.8 599.8 220.9 598.8 220.9 597.7 221.0 596.7 221.1 595.7 221.1 594.7 221.2 593.7 221.2 592.7 221.3 591.8 221.4 590.9 221.4 589.9 221.5 589.0 221.5 588.1 221.6 587.2 221.7 586.3 221.7 585.4 221.8 584.6 221.8 583.8 221.9 583.0 222.0 582.3 222.0 581.7 222.1 581.1 222.1 580.6 222.2 580.0 222.3 579.5 222.3 579.0 222.4 578.5 222.4 578.0 222.5 577.5 222.6 577.1 222.6 576.7 222.7 576.3 222.7 575.9 222.8 575.5 222.9 575.2 222.9 574.8 223.0 574.5 223.0 574.2 223.1 574.0 223.2 573.7 223.2 573.5 223.3 573.2 223.3 573.0 223.4 572.7 223.5 572.5 223.5 572.3 223.6 572.1 223.6 571.9 223.7 571.7 223.8 571.5 223.8 571.4 223.9 571.2 223.9 571.0 224.0 570.9 224.1 570.7 224.1 570.6 224.2 570.4 224.2 570.3 224.3 570.2 224.4 570.1 224.4 569.9 224.5 569.8 224.5 569.7 224.6 569.6 224.7 569.4 224.7 569.3 224.8 569.2 225.1 568.7 225.4 568.2 225.7 567.9 226.0 567.7 226.3 567.5 226.6 567.4 226.9 567.2 227.2 567.1 227.5 567.0 227.8 566.9 228.1 566.8 228.4 566.8 228.7 566.7 229.0 566.7 229.3 566.7 229.6 566.7 229.9 566.7 230.2 566.7 230.5 566.8 230.8 566.8 231.1 566.9 231.4 567.0 231.7 567.1 232.0 567.2 232.3 567.4 232.6 567.5 232.9 567.7 233.2 567.9 233.5 568.0 233.8 568.2 234.1 568.3 234.4 568.5 236.8 569.6 239.2 571.0 241.6 572.3 244.0 573.7 246.4 575.0 248.8 576.2 251.2 577.5 253.7 578.7 256.1 579.9 258.5 581.0 260.9 582.1 263.3 583.2 265.7 584.3 268.1 585.3 270.5 586.3 272.9 587.2 275.3 588.1 277.7 589.0 280.1 589.9 282.5 590.7 284.9 591.5 287.3 592.2 289.7 592.9 292.1 593.6 294.5 594.3 296.9 594.9 299.4 595.5 301.8 596.1 304.2 596.6" stroke="url(#fg3)" stroke-width="1.38" fill="none" stroke-linejoin="round" stroke-linecap="round"/><path d="M91.3 637.0 91.4 637.3 91.5 637.6 91.6 637.9 91.8 638.1 91.9 638.3 92.0 638.4 92.1 638.4 92.2 638.3 92.4 638.2 92.5 638.1 92.6 637.9 92.7 637.7 92.8 637.4 93.0 637.2 93.1 636.9 93.2 636.5 93.3 636.2 93.4 635.8 93.6 635.4 93.7 635.0 93.8 634.7 93.9 634.3 94.0 633.9 94.2 633.5 94.3 633.1 94.4 632.8 94.5 632.4 94.6 632.1 94.8 631.7 94.9 631.3 95.0 631.0 95.1 630.6 95.2 630.2 95.4 629.8 95.5 629.4 95.6 628.9 95.7 628.5 95.8 628.1 96.0 627.7 96.1 627.3 96.2 626.8 96.3 626.4 96.4 626.0 96.6 625.6 96.7 625.2 96.8 624.9 96.9 624.5 97.0 624.1 97.2 623.8 97.3 623.5 97.4 623.1 97.5 622.8 97.6 622.5 97.8 622.1 97.9 621.8 98.0 621.5 98.1 621.2 98.3 620.8 98.4 620.5 98.5 620.2 98.6 619.9 98.7 619.7 98.9 619.4 99.0 619.1 99.1 618.8 99.2 618.6 99.3 618.4 99.5 618.1 99.6 617.9 99.7 617.7 99.8 617.5 99.9 617.3 100.1 617.1 100.2 616.9 100.3 616.7 100.4 616.6 100.5 616.4 100.7 616.2 100.8 616.0 100.9 615.9 101.0 615.7 101.1 615.5 101.3 615.4 101.4 615.2 101.5 615.1 101.6 614.9 101.7 614.8 101.9 614.7 102.0 614.5 102.1 614.4 102.2 614.3 102.3 614.2 102.5 614.0 102.6 613.9 102.7 613.8 102.8 613.7 102.9 613.6 103.1 613.5 103.2 613.4 103.3 613.3 103.9 612.9 104.5 612.5 105.1 612.0 105.7 611.7 106.3 611.4 106.9 611.1 107.5 610.9 108.1 610.8 108.7 610.8 109.3 610.7 109.9 610.7 110.5 610.6 111.1 610.6 111.7 610.6 112.3 610.6 112.9 610.6 113.5 610.6 114.1 610.6 114.7 610.6 115.3 610.7 115.9 610.7 116.5 610.8 117.1 610.9 117.7 611.0 118.3 611.1 118.9 611.2 119.5 611.3 120.1 611.5 120.7 611.6 121.3 611.8 121.9 611.9 122.5 612.1 123.1 612.2 123.8 612.3 124.4 612.5 125.0 612.6 125.6 612.8 126.2 612.9 126.8 613.1 127.4 613.2 131.0 614.1 134.6 614.9 138.2 615.7 141.8 616.6 145.4 617.4 149.0 618.2 152.6 619.0 156.2 619.7 159.8 620.5 163.4 621.2 167.1 622.0 170.7 622.7 174.3 623.4 177.9 624.1 181.5 624.8 185.1 625.5 188.7 626.1 192.3 626.7 195.9 627.4 199.5 628.0 203.1 628.6 206.7 629.1 210.4 629.7 214.0 630.3 217.6 630.8 217.6 631.4 217.7 631.9 217.7 632.3 217.8 632.5 217.9 632.6 217.9 632.6 218.0 632.6 218.0 632.5 218.1 632.4 218.2 632.3 218.2 632.1 218.3 632.0 218.3 631.8 218.4 631.6 218.5 631.3 218.5 631.1 218.6 630.8 218.6 630.5 218.7 630.1 218.8 629.7 218.8 629.2 218.9 628.7 218.9 628.1 219.0 627.4 219.1 626.7 219.1 626.0 219.2 625.3 219.3 624.6 219.3 623.9 219.4 623.1 219.4 622.3 219.5 621.5 219.6 620.7 219.6 619.8 219.7 618.9 219.7 618.0 219.8 617.1 219.9 616.2 219.9 615.2 220.0 614.3 220.0 613.3 220.1 612.4 220.2 611.4 220.2 610.4 220.3 609.4 220.3 608.4 220.4 607.4 220.5 606.4 220.5 605.4 220.6 604.4 220.6 603.4 220.7 602.4 220.8 601.4 220.8 600.4 220.9 599.3 220.9 598.3 221.0 597.2 221.1 596.2 221.1 595.2 221.2 594.2 221.2 593.2 221.3 592.3 221.4 591.4 221.4 590.4 221.5 589.5 221.5 588.6 221.6 587.7 221.7 586.8 221.7 585.9 221.8 585.1 221.8 584.3 221.9 583.6 222.0 582.9 222.0 582.2 222.1 581.7 222.1 581.1 222.2 580.6 222.3 580.0 222.3 579.5 222.4 579.0 222.4 578.5 222.5 578.1 222.6 577.6 222.6 577.2 222.7 576.8 222.7 576.4 222.8 576.0 222.9 575.7 222.9 575.4 223.0 575.0 223.0 574.8 223.1 574.5 223.2 574.2 223.2 574.0 223.3 573.7 223.3 573.5 223.4 573.3 223.5 573.0 223.5 572.8 223.6 572.6 223.6 572.4 223.7 572.2 223.8 572.1 223.8 571.9 223.9 571.7 223.9 571.5 224.0 571.4 224.1 571.2 224.1 571.1 224.2 571.0 224.2 570.8 224.3 570.7 224.4 570.6 224.4 570.5 224.5 570.3 224.5 570.2 224.6 570.1 224.7 570.0 224.7 569.8 224.8 569.7 225.1 569.2 225.4 568.8 225.7 568.4 226.0 568.2 226.3 568.0 226.6 567.9 226.9 567.8 227.2 567.6 227.5 567.5 227.8 567.4 228.1 567.3 228.4 567.3 228.7 567.2 229.0 567.2 229.3 567.2 229.6 567.2 229.9 567.2 230.2 567.2 230.5 567.3 230.8 567.3 231.1 567.4 231.4 567.5 231.7 567.6 232.0 567.7 232.3 567.8 232.6 568.0 232.9 568.2 233.2 568.3 233.5 568.5 233.8 568.7 234.1 568.8 234.4 568.9 236.8 570.1 239.2 571.4 241.6 572.8 244.0 574.1 246.4 575.4 248.8 576.6 251.2 577.8 253.7 579.0 256.1 580.2 258.5 581.3 260.9 582.4 263.3 583.5 265.7 584.5 268.1 585.5 270.5 586.5 272.9 587.4 275.3 588.3 277.7 589.2 280.1 590.0 282.5 590.8 284.9 591.6 287.3 592.3 289.7 593.0 292.1 593.7 294.5 594.3 296.9 595.0 299.4 595.6 301.8 596.1 304.2 596.7" stroke="url(#fg4)" stroke-width="1.38" fill="none" stroke-linejoin="round" stroke-linecap="round"/><path d="M66.0 637.0 66.1 637.3 66.3 637.6 66.4 637.9 66.5 638.1 66.6 638.3 66.7 638.4 66.9 638.4 67.0 638.3 67.1 638.2 67.2 638.1 67.3 637.9 67.5 637.7 67.6 637.4 67.7 637.2 67.8 636.9 67.9 636.5 68.1 636.2 68.2 635.8 68.3 635.4 68.4 635.0 68.5 634.7 68.7 634.3 68.8 633.9 68.9 633.5 69.0 633.1 69.1 632.8 69.3 632.4 69.4 632.1 69.5 631.7 69.6 631.3 69.7 631.0 69.9 630.6 70.0 630.2 70.1 629.8 70.2 629.4 70.3 628.9 70.5 628.5 70.6 628.1 70.7 627.7 70.8 627.3 70.9 626.8 71.1 626.4 71.2 626.0 71.3 625.6 71.4 625.2 71.5 624.9 71.7 624.5 71.8 624.1 71.9 623.8 72.0 623.5 72.2 623.1 72.3 622.8 72.4 622.5 72.5 622.1 72.6 621.8 72.8 621.5 72.9 621.2 73.0 620.8 73.1 620.5 73.2 620.2 73.4 619.9 73.5 619.7 73.6 619.4 73.7 619.1 73.8 618.8 74.0 618.6 74.1 618.4 74.2 618.1 74.3 617.9 74.4 617.7 74.6 617.5 74.7 617.3 74.8 617.1 74.9 616.9 75.0 616.7 75.2 616.6 75.3 616.4 75.4 616.2 75.5 616.0 75.6 615.9 75.8 615.7 75.9 615.5 76.0 615.4 76.1 615.2 76.2 615.1 76.4 614.9 76.5 614.8 76.6 614.7 76.7 614.5 76.8 614.4 77.0 614.3 77.1 614.2 77.2 614.0 77.3 613.9 77.4 613.8 77.6 613.7 77.7 613.6 77.8 613.5 77.9 613.4 78.0 613.3 78.6 612.9 79.2 612.5 79.8 612.0 80.5 611.7 81.1 611.4 81.7 611.1 82.3 610.9 82.9 610.8 83.5 610.8 84.1 610.7 84.7 610.7 85.3 610.6 85.9 610.6 86.5 610.6 87.1 610.6 87.7 610.6 88.3 610.6 88.9 610.6 89.5 610.6 90.1 610.7 90.7 610.7 91.3 610.8 91.9 610.9 92.5 611.0 93.1 611.1 93.7 611.2 94.3 611.3 94.9 611.5 95.5 611.6 96.1 611.8 96.7 611.9 97.3 612.1 97.9 612.2 98.5 612.3 99.1 612.5 99.7 612.6 100.3 612.8 100.9 612.9 101.5 613.1 102.1 613.2 105.7 614.1 109.3 614.9 112.9 615.7 116.5 616.6 120.1 617.4 123.8 618.2 127.4 619.0 131.0 619.7 134.6 620.5 138.2 621.2 141.8 622.0 145.4 622.7 149.0 623.4 152.6 624.1 156.2 624.8 159.8 625.5 163.4 626.1 167.1 626.7 170.7 627.4 174.3 628.0 177.9 628.6 181.5 629.1 185.1 629.7 188.7 630.3 192.3 630.8 195.9 631.3 199.5 631.8 203.1 632.3 206.7 632.8 210.4 633.2 214.0 633.7 217.6 634.1 217.6 634.8 217.7 635.3 217.7 635.6 217.8 635.8 217.9 635.9 217.9 635.9 218.0 635.9 218.0 635.8 218.1 635.7 218.2 635.5 218.2 635.3 218.3 635.1 218.3 634.8 218.4 634.5 218.5 634.2 218.5 633.8 218.6 633.4 218.6 632.9 218.7 632.3 218.8 631.7 218.8 631.1 218.9 630.4 218.9 629.6 219.0 628.7 219.1 627.9 219.1 627.1 219.2 626.3 219.3 625.5 219.3 624.7 219.4 623.9 219.4 623.0 219.5 622.1 219.6 621.3 219.6 620.4 219.7 619.5 219.7 618.5 219.8 617.6 219.9 616.7 219.9 615.7 220.0 614.8 220.0 613.8 220.1 612.8 220.2 611.8 220.2 610.9 220.3 609.9 220.3 608.9 220.4 607.9 220.5 606.9 220.5 605.9 220.6 604.9 220.6 603.9 220.7 602.8 220.8 601.8 220.8 600.8 220.9 599.7 220.9 598.7 221.0 597.7 221.1 596.6 221.1 595.6 221.2 594.6 221.2 593.7 221.3 592.7 221.4 591.8 221.4 590.9 221.5 590.0 221.5 589.0 221.6 588.1 221.7 587.2 221.7 586.4 221.8 585.5 221.8 584.7 221.9 584.0 222.0 583.3 222.0 582.7 222.1 582.1 222.1 581.5 222.2 581.0 222.3 580.5 222.3 579.9 222.4 579.4 222.4 579.0 222.5 578.5 222.6 578.0 222.6 577.6 222.7 577.2 222.7 576.8 222.8 576.5 222.9 576.1 222.9 575.8 223.0 575.5 223.0 575.2 223.1 574.9 223.2 574.7 223.2 574.4 223.3 574.2 223.3 573.9 223.4 573.7 223.5 573.5 223.5 573.3 223.6 573.1 223.6 572.9 223.7 572.7 223.8 572.5 223.8 572.3 223.9 572.1 223.9 572.0 224.0 571.8 224.1 571.7 224.1 571.5 224.2 571.4 224.2 571.3 224.3 571.1 224.4 571.0 224.4 570.9 224.5 570.8 224.5 570.6 224.6 570.5 224.7 570.4 224.7 570.3 224.8 570.2 225.1 569.6 225.4 569.2 225.7 568.8 226.0 568.6 226.3 568.5 226.6 568.3 226.9 568.2 227.2 568.1 227.5 567.9 227.8 567.8 228.1 567.8 228.4 567.7 228.7 567.6 229.0 567.6 229.3 567.6 229.6 567.6 229.9 567.6 230.2 567.6 230.5 567.7 230.8 567.7 231.1 567.8 231.4 567.9 231.7 568.0 232.0 568.1 232.3 568.3 232.6 568.4 232.9 568.6 233.2 568.7 233.5 568.9 233.8 569.0 234.1 569.2 234.4 569.3 236.8 570.5 239.2 571.8 241.6 573.1 244.0 574.4 246.4 575.7 248.8 576.9 251.2 578.1 253.7 579.3 256.1 580.4 258.5 581.6 260.9 582.6 263.3 583.7 265.7 584.7 268.1 585.7 270.5 586.6 272.9 587.6 275.3 588.4 277.7 589.3 280.1 590.1 282.5 590.9 284.9 591.7 287.3 592.4 289.7 593.1 292.1 593.8 294.5 594.4 296.9 595.0 299.4 595.6 301.8 596.2 304.2 596.7" stroke="url(#fg5)" stroke-width="1.38" fill="none" stroke-linejoin="round" stroke-linecap="round"/><path d="M40.8 637.0 40.9 637.3 41.0 637.6 41.1 637.9 41.2 638.1 41.4 638.3 41.5 638.4 41.6 638.4 41.7 638.3 41.8 638.2 42.0 638.1 42.1 637.9 42.2 637.7 42.3 637.4 42.4 637.2 42.6 636.9 42.7 636.5 42.8 636.2 42.9 635.8 43.0 635.4 43.2 635.0 43.3 634.7 43.4 634.3 43.5 633.9 43.6 633.5 43.8 633.1 43.9 632.8 44.0 632.4 44.1 632.1 44.2 631.7 44.4 631.3 44.5 631.0 44.6 630.6 44.7 630.2 44.8 629.8 45.0 629.4 45.1 628.9 45.2 628.5 45.3 628.1 45.4 627.7 45.6 627.3 45.7 626.8 45.8 626.4 45.9 626.0 46.1 625.6 46.2 625.2 46.3 624.9 46.4 624.5 46.5 624.1 46.7 623.8 46.8 623.5 46.9 623.1 47.0 622.8 47.1 622.5 47.3 622.1 47.4 621.8 47.5 621.5 47.6 621.2 47.7 620.8 47.9 620.5 48.0 620.2 48.1 619.9 48.2 619.7 48.3 619.4 48.5 619.1 48.6 618.8 48.7 618.6 48.8 618.4 48.9 618.1 49.1 617.9 49.2 617.7 49.3 617.5 49.4 617.3 49.5 617.1 49.7 616.9 49.8 616.7 49.9 616.6 50.0 616.4 50.1 616.2 50.3 616.0 50.4 615.9 50.5 615.7 50.6 615.5 50.7 615.4 50.9 615.2 51.0 615.1 51.1 614.9 51.2 614.8 51.3 614.7 51.5 614.5 51.6 614.4 51.7 614.3 51.8 614.2 51.9 614.0 52.1 613.9 52.2 613.8 52.3 613.7 52.4 613.6 52.5 613.5 52.7 613.4 52.8 613.3 53.4 612.9 54.0 612.5 54.6 612.0 55.2 611.7 55.8 611.4 56.4 611.1 57.0 610.9 57.6 610.8 58.2 610.8 58.8 610.7 59.4 610.7 60.0 610.6 60.6 610.6 61.2 610.6 61.8 610.6 62.4 610.6 63.0 610.6 63.6 610.6 64.2 610.6 64.8 610.7 65.4 610.7 66.0 610.8 66.6 610.9 67.2 611.0 67.8 611.1 68.4 611.2 69.0 611.3 69.6 611.5 70.2 611.6 70.8 611.8 71.4 611.9 72.0 612.1 72.6 612.2 73.2 612.3 73.8 612.5 74.4 612.6 75.0 612.8 75.6 612.9 76.2 613.1 76.8 613.2 80.5 614.1 84.1 614.9 87.7 615.7 91.3 616.6 94.9 617.4 98.5 618.2 102.1 619.0 105.7 619.7 109.3 620.5 112.9 621.2 116.5 622.0 120.1 622.7 123.8 623.4 127.4 624.1 131.0 624.8 134.6 625.5 138.2 626.1 141.8 626.7 145.4 627.4 149.0 628.0 152.6 628.6 156.2 629.1 159.8 629.7 163.4 630.3 167.1 630.8 170.7 631.3 174.3 631.8 177.9 632.3 181.5 632.8 185.1 633.2 188.7 633.7 192.3 634.1 195.9 634.5 199.5 634.9 203.1 635.3 206.7 635.7 210.4 636.1 214.0 636.5 217.6 636.8 217.6 637.5 217.7 638.0 217.7 638.3 217.8 638.5 217.9 638.6 217.9 638.6 218.0 638.6 218.0 638.4 218.1 638.3 218.2 638.0 218.2 637.7 218.3 637.4 218.3 637.1 218.4 636.7 218.5 636.2 218.5 635.7 218.6 635.1 218.6 634.5 218.7 633.8 218.8 633.0 218.8 632.2 218.9 631.4 218.9 630.5 219.0 629.6 219.1 628.6 219.1 627.8 219.2 626.9 219.3 626.1 219.3 625.2 219.4 624.4 219.4 623.5 219.5 622.6 219.6 621.7 219.6 620.8 219.7 619.9 219.7 618.9 219.8 618.0 219.9 617.0 219.9 616.1 220.0 615.1 220.0 614.2 220.1 613.2 220.2 612.2 220.2 611.2 220.3 610.2 220.3 609.2 220.4 608.2 220.5 607.2 220.5 606.2 220.6 605.2 220.6 604.2 220.7 603.2 220.8 602.2 220.8 601.1 220.9 600.1 220.9 599.1 221.0 598.0 221.1 597.0 221.1 596.0 221.2 595.0 221.2 594.0 221.3 593.1 221.4 592.2 221.4 591.2 221.5 590.3 221.5 589.4 221.6 588.5 221.7 587.6 221.7 586.7 221.8 585.9 221.8 585.1 221.9 584.3 222.0 583.6 222.0 583.0 222.1 582.4 222.1 581.9 222.2 581.3 222.3 580.8 222.3 580.3 222.4 579.8 222.4 579.3 222.5 578.8 222.6 578.4 222.6 578.0 222.7 577.6 222.7 577.2 222.8 576.8 222.9 576.5 222.9 576.1 223.0 575.8 223.0 575.5 223.1 575.3 223.2 575.0 223.2 574.8 223.3 574.5 223.3 574.3 223.4 574.0 223.5 573.8 223.5 573.6 223.6 573.4 223.6 573.2 223.7 573.0 223.8 572.8 223.8 572.7 223.9 572.5 223.9 572.3 224.0 572.2 224.1 572.0 224.1 571.9 224.2 571.7 224.2 571.6 224.3 571.5 224.4 571.4 224.4 571.2 224.5 571.1 224.5 571.0 224.6 570.9 224.7 570.7 224.7 570.6 224.8 570.5 225.1 570.0 225.4 569.5 225.7 569.2 226.0 569.0 226.3 568.8 226.6 568.7 226.9 568.5 227.2 568.4 227.5 568.3 227.8 568.2 228.1 568.1 228.4 568.0 228.7 568.0 229.0 567.9 229.3 567.9 229.6 567.9 229.9 567.9 230.2 568.0 230.5 568.0 230.8 568.1 231.1 568.1 231.4 568.2 231.7 568.3 232.0 568.4 232.3 568.6 232.6 568.7 232.9 568.9 233.2 569.1 233.5 569.2 233.8 569.4 234.1 569.5 234.4 569.6 236.8 570.8 239.2 572.1 241.6 573.4 244.0 574.7 246.4 575.9 248.8 577.2 251.2 578.4 253.7 579.5 256.1 580.7 258.5 581.8 260.9 582.8 263.3 583.9 265.7 584.9 268.1 585.8 270.5 586.8 272.9 587.7 275.3 588.6 277.7 589.4 280.1 590.2 282.5 591.0 284.9 591.7 287.3 592.5 289.7 593.1 292.1 593.8 294.5 594.4 296.9 595.1 299.4 595.6 301.8 596.2 304.2 596.7 306.6 597.3 309.0 597.8 311.4 598.3 313.8 598.7 316.2 599.2 318.6 599.6 321.0 600.0 323.4 600.4 325.8 600.8 328.2 601.2 330.6 601.6 333.0 601.9 335.4 602.3 337.8 602.6 340.2 603.0 342.7 603.3 345.1 603.6 347.5 603.9 349.9 604.3 352.3 604.6 354.7 604.9 357.1 605.2 359.5 605.4 361.9 605.7 364.3 606.0 366.7 606.3 369.1 606.6 371.5 606.8 373.9 607.1 376.3 607.4 378.7 607.6 381.1 607.9 383.6 608.1 386.0 608.4 388.4 608.6 390.8 608.9 393.2 609.1 395.6 609.4 398.0 609.6 400.4 609.8 402.8 610.1 405.2 610.3 407.6 610.5 410.0 610.8 412.4 611.0 414.8 611.2 417.2 611.4 419.6 611.6 422.0 611.9 424.4 612.1 426.8 612.3 429.3 612.5 431.7 612.7 434.1 612.9 436.5 613.1 438.9 613.3 441.3 613.5 443.7 613.7 446.1 613.9 448.5 614.1 450.9 614.3 453.3 614.5 455.7 614.7 458.1 614.9 460.5 615.1 462.9 615.3 465.3 615.4 467.7 615.6 470.1 615.8 472.6 616.0 475.0 616.2 477.4 616.3 479.8 616.5 482.2 616.7 484.6 616.9 487.0 617.0 489.4 617.2 491.8 617.4 494.2 617.5 496.6 617.7 499.0 617.9 501.4 618.0 503.8 618.2 506.2 618.3 508.6 618.5 511.0 618.6 513.5 618.8 515.9 618.9 518.3 619.1 520.7 619.2 523.1 619.4 525.5 619.5 527.9 619.7 530.3 619.8 532.7 620.0 535.1 620.1 537.5 620.2 539.9 620.4 542.3 620.5 544.7 620.7 547.1 620.8 549.5 620.9 551.9 621.0 554.3 621.2 556.8 621.3 559.2 621.4 561.6 621.6 564.0 621.7 566.4 621.8 568.8 621.9 571.2 622.1 573.6 622.2 576.0 622.3 578.4 622.4" stroke="#4C72B0" stroke-width="1.38" fill="none" stroke-linejoin="round" stroke-linecap="round"/></g>
<path d="M37.15 608.64H578.40" stroke="#7a7a7a" stroke-width="1.25" stroke-dasharray="4.5 1.5" stroke-dashoffset="0" fill="none"/>
<text x="263.80" y="507.59" font-weight="bold" fill="#3a3a3a" font-size="15" textLength="24.90" lengthAdjust="spacingAndGlyphs">(D)</text>
<text x="296.20" y="507.59" font-weight="bold" fill="#3a3a3a" font-size="15" textLength="56.00" lengthAdjust="spacingAndGlyphs">Diluvac</text>
<text transform="translate(13.8 579.89) rotate(-90)" class="lab" text-anchor="middle" font-size="20.5" textLength="63" lengthAdjust="spacingAndGlyphs">Ab titer</text>
<text x="32.60" y="629.37" text-anchor="end" font-size="8.2" textLength="3.6" lengthAdjust="spacingAndGlyphs">1</text>
<text x="28.70" y="632.87" text-anchor="end" font-size="11">2</text>
<text x="32.60" y="602.97" text-anchor="end" font-size="8.2" textLength="3.6" lengthAdjust="spacingAndGlyphs">4</text>
<text x="28.70" y="606.47" text-anchor="end" font-size="11">2</text>
<text x="32.60" y="576.57" text-anchor="end" font-size="8.2" textLength="3.6" lengthAdjust="spacingAndGlyphs">7</text>
<text x="28.70" y="580.07" text-anchor="end" font-size="11">2</text>
<text x="32.60" y="550.17" text-anchor="end" font-size="8.2" textLength="6.9" lengthAdjust="spacingAndGlyphs">10</text>
<text x="25.40" y="553.67" text-anchor="end" font-size="11">2</text>
<text x="32.60" y="523.77" text-anchor="end" font-size="8.2" textLength="6.9" lengthAdjust="spacingAndGlyphs">13</text>
<text x="25.40" y="527.27" text-anchor="end" font-size="11">2</text>
<text x="25.45" y="661.39" font-size="10" textLength="8.0" lengthAdjust="spacingAndGlyphs">−</text>
<text x="33.65" y="661.39" font-size="10" textLength="14.6" lengthAdjust="spacingAndGlyphs">150</text>
<text x="85.59" y="661.39" font-size="10" textLength="8.0" lengthAdjust="spacingAndGlyphs">−</text>
<text x="93.79" y="661.39" font-size="10" textLength="14.6" lengthAdjust="spacingAndGlyphs">100</text>
<text x="148.03" y="661.39" font-size="10" textLength="8.0" lengthAdjust="spacingAndGlyphs">−</text>
<text x="156.23" y="661.39" font-size="10" textLength="10.0" lengthAdjust="spacingAndGlyphs">50</text>
<text x="217.57" y="661.39" text-anchor="middle" font-size="10">0</text>
<text x="277.71" y="661.39" text-anchor="middle" font-size="10">50</text>
<text x="337.84" y="661.39" text-anchor="middle" font-size="10">100</text>
<text x="397.98" y="661.39" text-anchor="middle" font-size="10">150</text>
<text x="458.12" y="661.39" text-anchor="middle" font-size="10">200</text>
<text x="518.26" y="661.39" text-anchor="middle" font-size="10">250</text>
<text x="578.40" y="661.39" text-anchor="middle" font-size="10">300</text>
<text x="307.30" y="680.2" class="lab" text-anchor="middle" font-size="19.2" textLength="217.5" lengthAdjust="spacingAndGlyphs">time post vaccination (days)</text>
<path d="M484.9 26.80H504.1" stroke="#4C72B0" stroke-width="1.38"/>
<text x="510.50" y="28.60" font-size="10.5" font-style="italic">t</text>
<text x="513.80" y="30.20" font-size="6.2" textLength="16.0" lengthAdjust="spacingAndGlyphs">boost</text>
<text x="530.50" y="28.60" font-size="8.6" textLength="35.4" lengthAdjust="spacingAndGlyphs">=3 weeks</text>
<path d="M484.9 39.40H504.1" stroke="#55A868" stroke-width="1.38"/>
<text x="510.50" y="41.20" font-size="10.5" font-style="italic">t</text>
<text x="513.80" y="42.80" font-size="6.2" textLength="16.0" lengthAdjust="spacingAndGlyphs">boost</text>
<text x="530.50" y="41.20" font-size="8.6" textLength="35.4" lengthAdjust="spacingAndGlyphs">=6 weeks</text>
<path d="M484.9 52.00H504.1" stroke="#C44E52" stroke-width="1.38"/>
<text x="510.50" y="53.80" font-size="10.5" font-style="italic">t</text>
<text x="513.80" y="55.40" font-size="6.2" textLength="16.0" lengthAdjust="spacingAndGlyphs">boost</text>
<text x="530.50" y="53.80" font-size="8.6" textLength="35.4" lengthAdjust="spacingAndGlyphs">=9 weeks</text>
<path d="M484.9 64.60H504.1" stroke="#8172B2" stroke-width="1.38"/>
<text x="510.50" y="66.40" font-size="10.5" font-style="italic">t</text>
<text x="513.80" y="68.00" font-size="6.2" textLength="16.0" lengthAdjust="spacingAndGlyphs">boost</text>
<text x="530.50" y="66.40" font-size="8.6" textLength="39.9" lengthAdjust="spacingAndGlyphs">=12 weeks</text>
<path d="M484.9 77.20H504.1" stroke="#CCB974" stroke-width="1.38"/>
<text x="510.50" y="79.00" font-size="10.5" font-style="italic">t</text>
<text x="513.80" y="80.60" font-size="6.2" textLength="16.0" lengthAdjust="spacingAndGlyphs">boost</text>
<text x="530.50" y="79.00" font-size="8.6" textLength="39.9" lengthAdjust="spacingAndGlyphs">=15 weeks</text>
<path d="M484.9 89.80H504.1" stroke="#64B5CD" stroke-width="1.38"/>
<text x="510.50" y="91.60" font-size="10.5" font-style="italic">t</text>
<text x="513.80" y="93.20" font-size="6.2" textLength="16.0" lengthAdjust="spacingAndGlyphs">boost</text>
<text x="530.50" y="91.60" font-size="8.6" textLength="39.9" lengthAdjust="spacingAndGlyphs">=18 weeks</text>
<path d="M484.9 102.40H504.1" stroke="#4C72B0" stroke-width="1.38"/>
<text x="510.50" y="104.20" font-size="10.5" font-style="italic">t</text>
<text x="513.80" y="105.80" font-size="6.2" textLength="16.0" lengthAdjust="spacingAndGlyphs">boost</text>
<text x="530.50" y="104.20" font-size="8.6" textLength="39.9" lengthAdjust="spacingAndGlyphs">=21 weeks</text>
</g></svg></body></html>
